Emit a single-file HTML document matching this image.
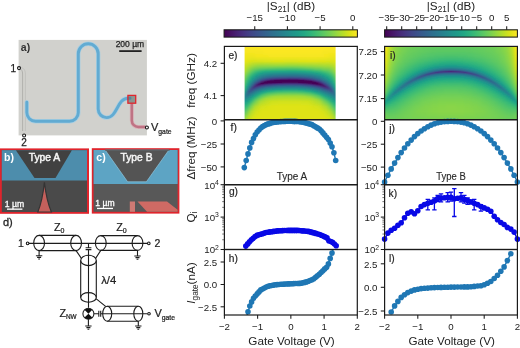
<!DOCTYPE html>
<html><head><meta charset="utf-8"><title>Figure</title>
<style>html,body{margin:0;padding:0;background:#fff}svg{display:block}text{font-family:"Liberation Sans", sans-serif}</style>
</head><body>
<svg width="520" height="348" viewBox="0 0 520 348">
<defs><filter id="blge" x="-5%" y="-5%" width="110%" height="110%"><feGaussianBlur stdDeviation="1.1 0.3"/></filter>
<clipPath id="clipge"><rect x="244.60" y="46.40" width="91.00" height="73.30"/></clipPath>
<linearGradient id="ge0" x1="0" y1="0" x2="0" y2="1"><stop offset="0" stop-color="#fbe723"/><stop offset="0.068" stop-color="#fbe723"/><stop offset="0.136" stop-color="#f6e620"/><stop offset="0.205" stop-color="#efe51c"/><stop offset="0.273" stop-color="#dfe318"/><stop offset="0.341" stop-color="#cde11d"/><stop offset="0.409" stop-color="#b8de29"/><stop offset="0.477" stop-color="#9bd93c"/><stop offset="0.546" stop-color="#7fd34e"/><stop offset="0.555" stop-color="#7ad151"/><stop offset="0.583" stop-color="#70cf57"/><stop offset="0.61" stop-color="#67cc5c"/><stop offset="0.614" stop-color="#65cb5e"/><stop offset="0.637" stop-color="#5cc863"/><stop offset="0.664" stop-color="#4ec36b"/><stop offset="0.682" stop-color="#46c06f"/><stop offset="0.692" stop-color="#40bd72"/><stop offset="0.705" stop-color="#3aba76"/><stop offset="0.719" stop-color="#32b67a"/><stop offset="0.733" stop-color="#2db27d"/><stop offset="0.746" stop-color="#28ae80"/><stop offset="0.75" stop-color="#27ad81"/><stop offset="0.76" stop-color="#25ac82"/><stop offset="0.767" stop-color="#24aa83"/><stop offset="0.774" stop-color="#1fa188"/><stop offset="0.78" stop-color="#1fa287"/><stop offset="0.787" stop-color="#20a486"/><stop offset="0.801" stop-color="#22a785"/><stop offset="0.814" stop-color="#25ab82"/><stop offset="0.819" stop-color="#25ac82"/><stop offset="0.828" stop-color="#29af7f"/><stop offset="0.842" stop-color="#2eb37c"/><stop offset="0.855" stop-color="#35b779"/><stop offset="0.883" stop-color="#3fbc73"/><stop offset="0.887" stop-color="#40bd72"/><stop offset="0.91" stop-color="#4cc26c"/><stop offset="0.937" stop-color="#5ac864"/><stop offset="0.955" stop-color="#60ca60"/><stop offset="0.965" stop-color="#65cb5e"/><stop offset="0.992" stop-color="#73d056"/><stop offset="1" stop-color="#75d054"/></linearGradient>
<linearGradient id="ge1" x1="0" y1="0" x2="0" y2="1"><stop offset="0" stop-color="#fbe723"/><stop offset="0.068" stop-color="#f8e621"/><stop offset="0.136" stop-color="#f1e51d"/><stop offset="0.205" stop-color="#eae51a"/><stop offset="0.273" stop-color="#d5e21a"/><stop offset="0.341" stop-color="#bddf26"/><stop offset="0.409" stop-color="#9dd93b"/><stop offset="0.477" stop-color="#7cd250"/><stop offset="0.509" stop-color="#6ece58"/><stop offset="0.536" stop-color="#63cb5f"/><stop offset="0.546" stop-color="#5ec962"/><stop offset="0.563" stop-color="#58c765"/><stop offset="0.591" stop-color="#4cc26c"/><stop offset="0.614" stop-color="#3fbc73"/><stop offset="0.618" stop-color="#3dbc74"/><stop offset="0.645" stop-color="#31b57b"/><stop offset="0.659" stop-color="#2ab07f"/><stop offset="0.673" stop-color="#25ac82"/><stop offset="0.682" stop-color="#22a884"/><stop offset="0.686" stop-color="#21a685"/><stop offset="0.7" stop-color="#1fa287"/><stop offset="0.714" stop-color="#1f9e89"/><stop offset="0.72" stop-color="#1e9c89"/><stop offset="0.727" stop-color="#20938c"/><stop offset="0.734" stop-color="#1f958b"/><stop offset="0.741" stop-color="#1f978b"/><stop offset="0.75" stop-color="#1f9a8a"/><stop offset="0.754" stop-color="#1e9c89"/><stop offset="0.768" stop-color="#1fa088"/><stop offset="0.782" stop-color="#21a585"/><stop offset="0.795" stop-color="#24aa83"/><stop offset="0.809" stop-color="#28ae80"/><stop offset="0.819" stop-color="#2cb17e"/><stop offset="0.836" stop-color="#32b67a"/><stop offset="0.864" stop-color="#40bd72"/><stop offset="0.887" stop-color="#4cc26c"/><stop offset="0.891" stop-color="#4ec36b"/><stop offset="0.918" stop-color="#5ac864"/><stop offset="0.945" stop-color="#69cd5b"/><stop offset="0.955" stop-color="#6ece58"/><stop offset="1" stop-color="#86d549"/></linearGradient>
<linearGradient id="ge2" x1="0" y1="0" x2="0" y2="1"><stop offset="0" stop-color="#fbe723"/><stop offset="0.068" stop-color="#f8e621"/><stop offset="0.136" stop-color="#f1e51d"/><stop offset="0.205" stop-color="#e5e419"/><stop offset="0.273" stop-color="#c8e020"/><stop offset="0.341" stop-color="#aadc32"/><stop offset="0.409" stop-color="#7cd250"/><stop offset="0.465" stop-color="#5cc863"/><stop offset="0.477" stop-color="#56c667"/><stop offset="0.492" stop-color="#50c46a"/><stop offset="0.52" stop-color="#42be71"/><stop offset="0.546" stop-color="#37b878"/><stop offset="0.547" stop-color="#37b878"/><stop offset="0.574" stop-color="#29af7f"/><stop offset="0.602" stop-color="#21a685"/><stop offset="0.614" stop-color="#1fa187"/><stop offset="0.615" stop-color="#1fa187"/><stop offset="0.629" stop-color="#1f9a8a"/><stop offset="0.643" stop-color="#20938c"/><stop offset="0.656" stop-color="#228d8d"/><stop offset="0.67" stop-color="#23888e"/><stop offset="0.677" stop-color="#25858e"/><stop offset="0.682" stop-color="#26828e"/><stop offset="0.683" stop-color="#26828e"/><stop offset="0.69" stop-color="#27808e"/><stop offset="0.697" stop-color="#26828e"/><stop offset="0.711" stop-color="#24878e"/><stop offset="0.724" stop-color="#228d8d"/><stop offset="0.738" stop-color="#1f948c"/><stop offset="0.75" stop-color="#1e9b8a"/><stop offset="0.752" stop-color="#1e9b8a"/><stop offset="0.765" stop-color="#1fa188"/><stop offset="0.793" stop-color="#25ab82"/><stop offset="0.819" stop-color="#2fb47c"/><stop offset="0.82" stop-color="#2fb47c"/><stop offset="0.847" stop-color="#3dbc74"/><stop offset="0.874" stop-color="#4ec36b"/><stop offset="0.887" stop-color="#56c667"/><stop offset="0.902" stop-color="#5ec962"/><stop offset="0.955" stop-color="#84d44b"/><stop offset="1" stop-color="#9dd93b"/></linearGradient>
<linearGradient id="ge3" x1="0" y1="0" x2="0" y2="1"><stop offset="0" stop-color="#fbe723"/><stop offset="0.068" stop-color="#f8e621"/><stop offset="0.136" stop-color="#efe51c"/><stop offset="0.205" stop-color="#e2e418"/><stop offset="0.273" stop-color="#bddf26"/><stop offset="0.341" stop-color="#95d840"/><stop offset="0.409" stop-color="#60ca60"/><stop offset="0.43" stop-color="#52c569"/><stop offset="0.457" stop-color="#42be71"/><stop offset="0.477" stop-color="#38b977"/><stop offset="0.484" stop-color="#34b679"/><stop offset="0.512" stop-color="#29af7f"/><stop offset="0.539" stop-color="#21a585"/><stop offset="0.546" stop-color="#1fa287"/><stop offset="0.566" stop-color="#1f998a"/><stop offset="0.58" stop-color="#20938c"/><stop offset="0.593" stop-color="#228b8d"/><stop offset="0.607" stop-color="#26828e"/><stop offset="0.614" stop-color="#277e8e"/><stop offset="0.621" stop-color="#297a8e"/><stop offset="0.634" stop-color="#2c738e"/><stop offset="0.641" stop-color="#2d718e"/><stop offset="0.648" stop-color="#30698e"/><stop offset="0.655" stop-color="#2f6c8e"/><stop offset="0.662" stop-color="#2d708e"/><stop offset="0.675" stop-color="#2a768e"/><stop offset="0.682" stop-color="#297a8e"/><stop offset="0.689" stop-color="#277f8e"/><stop offset="0.703" stop-color="#24878e"/><stop offset="0.716" stop-color="#218f8d"/><stop offset="0.73" stop-color="#1f958b"/><stop offset="0.75" stop-color="#1fa088"/><stop offset="0.757" stop-color="#1fa287"/><stop offset="0.784" stop-color="#27ad81"/><stop offset="0.812" stop-color="#35b779"/><stop offset="0.819" stop-color="#3aba76"/><stop offset="0.839" stop-color="#48c16e"/><stop offset="0.866" stop-color="#5cc863"/><stop offset="0.887" stop-color="#6ece58"/><stop offset="0.955" stop-color="#9dd93b"/><stop offset="1" stop-color="#b8de29"/></linearGradient>
<linearGradient id="ge4" x1="0" y1="0" x2="0" y2="1"><stop offset="0" stop-color="#fbe723"/><stop offset="0.068" stop-color="#f8e621"/><stop offset="0.136" stop-color="#efe51c"/><stop offset="0.205" stop-color="#dde318"/><stop offset="0.273" stop-color="#b2dd2d"/><stop offset="0.341" stop-color="#7fd34e"/><stop offset="0.397" stop-color="#50c46a"/><stop offset="0.409" stop-color="#46c06f"/><stop offset="0.424" stop-color="#3bbb75"/><stop offset="0.452" stop-color="#2db27d"/><stop offset="0.477" stop-color="#23a983"/><stop offset="0.479" stop-color="#23a983"/><stop offset="0.506" stop-color="#1f9f88"/><stop offset="0.533" stop-color="#21908d"/><stop offset="0.546" stop-color="#23898e"/><stop offset="0.547" stop-color="#23888e"/><stop offset="0.561" stop-color="#27808e"/><stop offset="0.574" stop-color="#2b758e"/><stop offset="0.588" stop-color="#2f6b8e"/><stop offset="0.602" stop-color="#33628d"/><stop offset="0.608" stop-color="#355e8d"/><stop offset="0.614" stop-color="#375b8d"/><stop offset="0.615" stop-color="#39558c"/><stop offset="0.622" stop-color="#375b8d"/><stop offset="0.629" stop-color="#355f8d"/><stop offset="0.643" stop-color="#31678e"/><stop offset="0.656" stop-color="#2c728e"/><stop offset="0.67" stop-color="#287d8e"/><stop offset="0.682" stop-color="#25848e"/><stop offset="0.683" stop-color="#25858e"/><stop offset="0.697" stop-color="#228d8d"/><stop offset="0.724" stop-color="#1e9d89"/><stop offset="0.75" stop-color="#23a983"/><stop offset="0.752" stop-color="#23a983"/><stop offset="0.779" stop-color="#32b67a"/><stop offset="0.806" stop-color="#46c06f"/><stop offset="0.819" stop-color="#52c569"/><stop offset="0.834" stop-color="#60ca60"/><stop offset="0.887" stop-color="#8bd646"/><stop offset="0.955" stop-color="#b8de29"/><stop offset="1" stop-color="#c5e021"/></linearGradient>
<linearGradient id="ge5" x1="0" y1="0" x2="0" y2="1"><stop offset="0" stop-color="#fbe723"/><stop offset="0.068" stop-color="#f8e621"/><stop offset="0.136" stop-color="#efe51c"/><stop offset="0.205" stop-color="#dae319"/><stop offset="0.273" stop-color="#a5db36"/><stop offset="0.341" stop-color="#69cd5b"/><stop offset="0.367" stop-color="#50c46a"/><stop offset="0.394" stop-color="#3aba76"/><stop offset="0.409" stop-color="#2fb47c"/><stop offset="0.422" stop-color="#29af7f"/><stop offset="0.449" stop-color="#20a486"/><stop offset="0.476" stop-color="#1f998a"/><stop offset="0.477" stop-color="#1f988b"/><stop offset="0.503" stop-color="#23888e"/><stop offset="0.517" stop-color="#27808e"/><stop offset="0.531" stop-color="#2a778e"/><stop offset="0.544" stop-color="#306a8e"/><stop offset="0.546" stop-color="#30698e"/><stop offset="0.558" stop-color="#365d8d"/><stop offset="0.572" stop-color="#3b528b"/><stop offset="0.578" stop-color="#3d4d8a"/><stop offset="0.585" stop-color="#414487"/><stop offset="0.592" stop-color="#3e4989"/><stop offset="0.599" stop-color="#3c4f8a"/><stop offset="0.613" stop-color="#375b8d"/><stop offset="0.614" stop-color="#365c8d"/><stop offset="0.626" stop-color="#31688e"/><stop offset="0.64" stop-color="#2b748e"/><stop offset="0.653" stop-color="#277e8e"/><stop offset="0.667" stop-color="#24868e"/><stop offset="0.682" stop-color="#21918c"/><stop offset="0.694" stop-color="#1f988b"/><stop offset="0.722" stop-color="#22a785"/><stop offset="0.749" stop-color="#31b57b"/><stop offset="0.75" stop-color="#32b67a"/><stop offset="0.776" stop-color="#4ac16d"/><stop offset="0.804" stop-color="#67cc5c"/><stop offset="0.819" stop-color="#75d054"/><stop offset="0.887" stop-color="#addc30"/><stop offset="0.955" stop-color="#c8e020"/><stop offset="1" stop-color="#d2e21b"/></linearGradient>
<linearGradient id="ge6" x1="0" y1="0" x2="0" y2="1"><stop offset="0" stop-color="#fbe723"/><stop offset="0.068" stop-color="#f8e621"/><stop offset="0.136" stop-color="#efe51c"/><stop offset="0.205" stop-color="#d8e219"/><stop offset="0.273" stop-color="#9dd93b"/><stop offset="0.341" stop-color="#58c765"/><stop offset="0.344" stop-color="#56c667"/><stop offset="0.371" stop-color="#3bbb75"/><stop offset="0.398" stop-color="#28ae80"/><stop offset="0.409" stop-color="#23a983"/><stop offset="0.426" stop-color="#1fa187"/><stop offset="0.453" stop-color="#1f948c"/><stop offset="0.477" stop-color="#25858e"/><stop offset="0.48" stop-color="#25838e"/><stop offset="0.494" stop-color="#29798e"/><stop offset="0.508" stop-color="#2d708e"/><stop offset="0.521" stop-color="#33628d"/><stop offset="0.535" stop-color="#3b528b"/><stop offset="0.546" stop-color="#3f4788"/><stop offset="0.548" stop-color="#404588"/><stop offset="0.555" stop-color="#433e85"/><stop offset="0.562" stop-color="#453781"/><stop offset="0.569" stop-color="#443a83"/><stop offset="0.576" stop-color="#424186"/><stop offset="0.589" stop-color="#3c4f8a"/><stop offset="0.603" stop-color="#355f8d"/><stop offset="0.614" stop-color="#2f6b8e"/><stop offset="0.617" stop-color="#2e6d8e"/><stop offset="0.63" stop-color="#2a778e"/><stop offset="0.644" stop-color="#26828e"/><stop offset="0.671" stop-color="#1f958b"/><stop offset="0.682" stop-color="#1e9c89"/><stop offset="0.698" stop-color="#21a685"/><stop offset="0.726" stop-color="#32b67a"/><stop offset="0.75" stop-color="#4cc26c"/><stop offset="0.753" stop-color="#4ec36b"/><stop offset="0.78" stop-color="#6ece58"/><stop offset="0.819" stop-color="#90d743"/><stop offset="0.887" stop-color="#bddf26"/><stop offset="0.955" stop-color="#d2e21b"/><stop offset="1" stop-color="#dae319"/></linearGradient>
<linearGradient id="ge7" x1="0" y1="0" x2="0" y2="1"><stop offset="0" stop-color="#fbe723"/><stop offset="0.068" stop-color="#f8e621"/><stop offset="0.136" stop-color="#f1e51d"/><stop offset="0.205" stop-color="#d8e219"/><stop offset="0.273" stop-color="#95d840"/><stop offset="0.323" stop-color="#5ec962"/><stop offset="0.341" stop-color="#48c16e"/><stop offset="0.351" stop-color="#3fbc73"/><stop offset="0.378" stop-color="#28ae80"/><stop offset="0.405" stop-color="#1fa088"/><stop offset="0.409" stop-color="#1f9e89"/><stop offset="0.432" stop-color="#20928c"/><stop offset="0.46" stop-color="#27808e"/><stop offset="0.473" stop-color="#2b758e"/><stop offset="0.477" stop-color="#2c718e"/><stop offset="0.487" stop-color="#306a8e"/><stop offset="0.501" stop-color="#375b8d"/><stop offset="0.514" stop-color="#3f4889"/><stop offset="0.528" stop-color="#453882"/><stop offset="0.535" stop-color="#46307e"/><stop offset="0.542" stop-color="#482878"/><stop offset="0.546" stop-color="#482979"/><stop offset="0.548" stop-color="#472c7a"/><stop offset="0.555" stop-color="#463480"/><stop offset="0.569" stop-color="#404588"/><stop offset="0.583" stop-color="#38588c"/><stop offset="0.596" stop-color="#31678e"/><stop offset="0.61" stop-color="#2c728e"/><stop offset="0.614" stop-color="#2a768e"/><stop offset="0.623" stop-color="#277f8e"/><stop offset="0.651" stop-color="#20938c"/><stop offset="0.678" stop-color="#21a685"/><stop offset="0.682" stop-color="#23a983"/><stop offset="0.705" stop-color="#35b779"/><stop offset="0.733" stop-color="#58c765"/><stop offset="0.75" stop-color="#6ccd5a"/><stop offset="0.76" stop-color="#75d054"/><stop offset="0.819" stop-color="#addc30"/><stop offset="0.887" stop-color="#cde11d"/><stop offset="0.955" stop-color="#dae319"/><stop offset="1" stop-color="#dfe318"/></linearGradient>
<linearGradient id="ge8" x1="0" y1="0" x2="0" y2="1"><stop offset="0" stop-color="#fde725"/><stop offset="0.068" stop-color="#f8e621"/><stop offset="0.136" stop-color="#f4e61e"/><stop offset="0.205" stop-color="#d8e219"/><stop offset="0.273" stop-color="#90d743"/><stop offset="0.31" stop-color="#67cc5c"/><stop offset="0.337" stop-color="#42be71"/><stop offset="0.341" stop-color="#3dbc74"/><stop offset="0.364" stop-color="#28ae80"/><stop offset="0.392" stop-color="#1f9f88"/><stop offset="0.409" stop-color="#1f948c"/><stop offset="0.419" stop-color="#218f8d"/><stop offset="0.446" stop-color="#287d8e"/><stop offset="0.46" stop-color="#2d718e"/><stop offset="0.473" stop-color="#32648e"/><stop offset="0.477" stop-color="#34608d"/><stop offset="0.487" stop-color="#3a538b"/><stop offset="0.501" stop-color="#423f85"/><stop offset="0.514" stop-color="#472c7a"/><stop offset="0.521" stop-color="#482374"/><stop offset="0.528" stop-color="#48186a"/><stop offset="0.535" stop-color="#482173"/><stop offset="0.542" stop-color="#472a7a"/><stop offset="0.546" stop-color="#46307e"/><stop offset="0.555" stop-color="#433e85"/><stop offset="0.569" stop-color="#3a538b"/><stop offset="0.583" stop-color="#33638d"/><stop offset="0.596" stop-color="#2d718e"/><stop offset="0.61" stop-color="#277e8e"/><stop offset="0.614" stop-color="#26828e"/><stop offset="0.637" stop-color="#20938c"/><stop offset="0.664" stop-color="#22a884"/><stop offset="0.682" stop-color="#31b57b"/><stop offset="0.692" stop-color="#3bbb75"/><stop offset="0.719" stop-color="#60ca60"/><stop offset="0.746" stop-color="#7fd34e"/><stop offset="0.75" stop-color="#81d34d"/><stop offset="0.819" stop-color="#bade28"/><stop offset="0.887" stop-color="#d2e21b"/><stop offset="0.955" stop-color="#dfe318"/><stop offset="1" stop-color="#dfe318"/></linearGradient>
<linearGradient id="ge9" x1="0" y1="0" x2="0" y2="1"><stop offset="0" stop-color="#fde725"/><stop offset="0.068" stop-color="#f8e621"/><stop offset="0.136" stop-color="#f4e61e"/><stop offset="0.205" stop-color="#d8e219"/><stop offset="0.273" stop-color="#8ed645"/><stop offset="0.299" stop-color="#70cf57"/><stop offset="0.326" stop-color="#4ac16d"/><stop offset="0.341" stop-color="#37b878"/><stop offset="0.353" stop-color="#2ab07f"/><stop offset="0.381" stop-color="#1f9f88"/><stop offset="0.408" stop-color="#218e8d"/><stop offset="0.409" stop-color="#228d8d"/><stop offset="0.435" stop-color="#287c8e"/><stop offset="0.449" stop-color="#2e6e8e"/><stop offset="0.462" stop-color="#34608d"/><stop offset="0.476" stop-color="#3c508b"/><stop offset="0.477" stop-color="#3d4e8a"/><stop offset="0.49" stop-color="#453882"/><stop offset="0.503" stop-color="#482374"/><stop offset="0.51" stop-color="#48186a"/><stop offset="0.517" stop-color="#460b5e"/><stop offset="0.524" stop-color="#481769"/><stop offset="0.531" stop-color="#482173"/><stop offset="0.544" stop-color="#453882"/><stop offset="0.546" stop-color="#443a83"/><stop offset="0.558" stop-color="#3c4f8a"/><stop offset="0.572" stop-color="#34608d"/><stop offset="0.585" stop-color="#2e6f8e"/><stop offset="0.599" stop-color="#287d8e"/><stop offset="0.614" stop-color="#238a8d"/><stop offset="0.626" stop-color="#1f948c"/><stop offset="0.653" stop-color="#24aa83"/><stop offset="0.681" stop-color="#42be71"/><stop offset="0.682" stop-color="#44bf70"/><stop offset="0.708" stop-color="#67cc5c"/><stop offset="0.735" stop-color="#86d549"/><stop offset="0.75" stop-color="#9bd93c"/><stop offset="0.819" stop-color="#c5e021"/><stop offset="0.887" stop-color="#d8e219"/><stop offset="0.955" stop-color="#dfe318"/><stop offset="1" stop-color="#dfe318"/></linearGradient>
<linearGradient id="ge10" x1="0" y1="0" x2="0" y2="1"><stop offset="0" stop-color="#fde725"/><stop offset="0.068" stop-color="#f8e621"/><stop offset="0.136" stop-color="#f4e61e"/><stop offset="0.205" stop-color="#d8e219"/><stop offset="0.273" stop-color="#89d548"/><stop offset="0.288" stop-color="#77d153"/><stop offset="0.315" stop-color="#52c569"/><stop offset="0.341" stop-color="#2fb47c"/><stop offset="0.342" stop-color="#2eb37c"/><stop offset="0.37" stop-color="#1fa088"/><stop offset="0.397" stop-color="#218e8d"/><stop offset="0.409" stop-color="#25858e"/><stop offset="0.424" stop-color="#297b8e"/><stop offset="0.438" stop-color="#2e6d8e"/><stop offset="0.452" stop-color="#355e8d"/><stop offset="0.465" stop-color="#3d4d8a"/><stop offset="0.477" stop-color="#453581"/><stop offset="0.479" stop-color="#46337f"/><stop offset="0.492" stop-color="#481b6d"/><stop offset="0.499" stop-color="#470e61"/><stop offset="0.506" stop-color="#440154"/><stop offset="0.513" stop-color="#470e61"/><stop offset="0.52" stop-color="#481a6c"/><stop offset="0.533" stop-color="#46327e"/><stop offset="0.546" stop-color="#3e4989"/><stop offset="0.547" stop-color="#3e4c8a"/><stop offset="0.561" stop-color="#355e8d"/><stop offset="0.574" stop-color="#2e6e8e"/><stop offset="0.588" stop-color="#287c8e"/><stop offset="0.614" stop-color="#20938c"/><stop offset="0.615" stop-color="#1f948c"/><stop offset="0.643" stop-color="#25ac82"/><stop offset="0.67" stop-color="#48c16e"/><stop offset="0.682" stop-color="#5ac864"/><stop offset="0.697" stop-color="#6ccd5a"/><stop offset="0.724" stop-color="#90d743"/><stop offset="0.75" stop-color="#aadc32"/><stop offset="0.819" stop-color="#d0e11c"/><stop offset="0.887" stop-color="#dde318"/><stop offset="0.955" stop-color="#dfe318"/><stop offset="1" stop-color="#dfe318"/></linearGradient>
<linearGradient id="ge11" x1="0" y1="0" x2="0" y2="1"><stop offset="0" stop-color="#fde725"/><stop offset="0.068" stop-color="#f8e621"/><stop offset="0.136" stop-color="#f4e61e"/><stop offset="0.205" stop-color="#d8e219"/><stop offset="0.273" stop-color="#89d548"/><stop offset="0.281" stop-color="#7fd34e"/><stop offset="0.308" stop-color="#5ac864"/><stop offset="0.336" stop-color="#32b67a"/><stop offset="0.341" stop-color="#2cb17e"/><stop offset="0.363" stop-color="#1fa187"/><stop offset="0.39" stop-color="#218e8d"/><stop offset="0.409" stop-color="#27808e"/><stop offset="0.417" stop-color="#297a8e"/><stop offset="0.431" stop-color="#2e6d8e"/><stop offset="0.445" stop-color="#365c8d"/><stop offset="0.458" stop-color="#3e4a89"/><stop offset="0.472" stop-color="#46307e"/><stop offset="0.477" stop-color="#482475"/><stop offset="0.486" stop-color="#481668"/><stop offset="0.492" stop-color="#46085c"/><stop offset="0.499" stop-color="#440154"/><stop offset="0.506" stop-color="#450559"/><stop offset="0.513" stop-color="#471365"/><stop offset="0.527" stop-color="#472d7b"/><stop offset="0.54" stop-color="#3f4889"/><stop offset="0.546" stop-color="#3c508b"/><stop offset="0.554" stop-color="#375b8d"/><stop offset="0.568" stop-color="#2e6d8e"/><stop offset="0.581" stop-color="#287c8e"/><stop offset="0.608" stop-color="#1f958b"/><stop offset="0.614" stop-color="#1e9b8a"/><stop offset="0.636" stop-color="#27ad81"/><stop offset="0.663" stop-color="#50c46a"/><stop offset="0.682" stop-color="#67cc5c"/><stop offset="0.69" stop-color="#73d056"/><stop offset="0.718" stop-color="#98d83e"/><stop offset="0.75" stop-color="#b2dd2d"/><stop offset="0.819" stop-color="#d2e21b"/><stop offset="0.887" stop-color="#dfe318"/><stop offset="0.955" stop-color="#dfe318"/><stop offset="1" stop-color="#dfe318"/></linearGradient>
<linearGradient id="ge12" x1="0" y1="0" x2="0" y2="1"><stop offset="0" stop-color="#fde725"/><stop offset="0.068" stop-color="#fbe723"/><stop offset="0.136" stop-color="#f4e61e"/><stop offset="0.205" stop-color="#dae319"/><stop offset="0.273" stop-color="#89d548"/><stop offset="0.276" stop-color="#86d549"/><stop offset="0.303" stop-color="#60ca60"/><stop offset="0.33" stop-color="#35b779"/><stop offset="0.341" stop-color="#29af7f"/><stop offset="0.357" stop-color="#1fa287"/><stop offset="0.385" stop-color="#218e8d"/><stop offset="0.409" stop-color="#297b8e"/><stop offset="0.412" stop-color="#29798e"/><stop offset="0.426" stop-color="#2f6c8e"/><stop offset="0.439" stop-color="#375b8d"/><stop offset="0.453" stop-color="#3f4889"/><stop offset="0.467" stop-color="#472d7b"/><stop offset="0.477" stop-color="#481668"/><stop offset="0.48" stop-color="#471063"/><stop offset="0.487" stop-color="#440256"/><stop offset="0.494" stop-color="#440154"/><stop offset="0.501" stop-color="#440154"/><stop offset="0.508" stop-color="#470d60"/><stop offset="0.521" stop-color="#472a7a"/><stop offset="0.535" stop-color="#404688"/><stop offset="0.546" stop-color="#39568c"/><stop offset="0.548" stop-color="#375a8c"/><stop offset="0.562" stop-color="#2f6c8e"/><stop offset="0.576" stop-color="#287c8e"/><stop offset="0.603" stop-color="#1f968b"/><stop offset="0.614" stop-color="#1fa188"/><stop offset="0.63" stop-color="#29af7f"/><stop offset="0.658" stop-color="#54c568"/><stop offset="0.682" stop-color="#75d054"/><stop offset="0.685" stop-color="#77d153"/><stop offset="0.712" stop-color="#a0da39"/><stop offset="0.75" stop-color="#bade28"/><stop offset="0.819" stop-color="#d5e21a"/><stop offset="0.887" stop-color="#dfe318"/><stop offset="0.955" stop-color="#dfe318"/><stop offset="1" stop-color="#dfe318"/></linearGradient>
<linearGradient id="ge13" x1="0" y1="0" x2="0" y2="1"><stop offset="0" stop-color="#fde725"/><stop offset="0.068" stop-color="#fbe723"/><stop offset="0.136" stop-color="#f4e61e"/><stop offset="0.205" stop-color="#dae319"/><stop offset="0.271" stop-color="#89d548"/><stop offset="0.273" stop-color="#89d548"/><stop offset="0.299" stop-color="#65cb5e"/><stop offset="0.326" stop-color="#38b977"/><stop offset="0.341" stop-color="#27ad81"/><stop offset="0.353" stop-color="#20a386"/><stop offset="0.381" stop-color="#218e8d"/><stop offset="0.408" stop-color="#2a788e"/><stop offset="0.409" stop-color="#2a768e"/><stop offset="0.422" stop-color="#2f6b8e"/><stop offset="0.435" stop-color="#38598c"/><stop offset="0.449" stop-color="#404588"/><stop offset="0.462" stop-color="#482878"/><stop offset="0.476" stop-color="#46085c"/><stop offset="0.477" stop-color="#46075a"/><stop offset="0.483" stop-color="#440154"/><stop offset="0.49" stop-color="#440154"/><stop offset="0.497" stop-color="#440154"/><stop offset="0.503" stop-color="#460a5d"/><stop offset="0.517" stop-color="#472a7a"/><stop offset="0.531" stop-color="#404688"/><stop offset="0.544" stop-color="#375b8d"/><stop offset="0.546" stop-color="#365d8d"/><stop offset="0.558" stop-color="#2e6e8e"/><stop offset="0.572" stop-color="#287d8e"/><stop offset="0.599" stop-color="#1f998a"/><stop offset="0.614" stop-color="#22a785"/><stop offset="0.626" stop-color="#2eb37c"/><stop offset="0.653" stop-color="#58c765"/><stop offset="0.681" stop-color="#7fd34e"/><stop offset="0.682" stop-color="#81d34d"/><stop offset="0.708" stop-color="#a5db36"/><stop offset="0.75" stop-color="#c0df25"/><stop offset="0.819" stop-color="#d8e219"/><stop offset="0.887" stop-color="#dfe318"/><stop offset="0.955" stop-color="#dfe318"/><stop offset="1" stop-color="#dfe318"/></linearGradient>
<linearGradient id="ge14" x1="0" y1="0" x2="0" y2="1"><stop offset="0" stop-color="#fde725"/><stop offset="0.068" stop-color="#fbe723"/><stop offset="0.136" stop-color="#f6e620"/><stop offset="0.205" stop-color="#dae319"/><stop offset="0.269" stop-color="#8ed645"/><stop offset="0.273" stop-color="#89d548"/><stop offset="0.296" stop-color="#67cc5c"/><stop offset="0.323" stop-color="#3bbb75"/><stop offset="0.341" stop-color="#26ad81"/><stop offset="0.351" stop-color="#20a486"/><stop offset="0.378" stop-color="#218e8d"/><stop offset="0.405" stop-color="#2a778e"/><stop offset="0.409" stop-color="#2b748e"/><stop offset="0.419" stop-color="#2f6b8e"/><stop offset="0.432" stop-color="#38588c"/><stop offset="0.446" stop-color="#414487"/><stop offset="0.46" stop-color="#482677"/><stop offset="0.473" stop-color="#450559"/><stop offset="0.477" stop-color="#440154"/><stop offset="0.48" stop-color="#440154"/><stop offset="0.487" stop-color="#440154"/><stop offset="0.494" stop-color="#440154"/><stop offset="0.501" stop-color="#46075a"/><stop offset="0.514" stop-color="#482878"/><stop offset="0.528" stop-color="#404588"/><stop offset="0.542" stop-color="#375a8c"/><stop offset="0.546" stop-color="#34608d"/><stop offset="0.555" stop-color="#2e6e8e"/><stop offset="0.569" stop-color="#287d8e"/><stop offset="0.596" stop-color="#1f9a8a"/><stop offset="0.614" stop-color="#25ab82"/><stop offset="0.623" stop-color="#31b57b"/><stop offset="0.651" stop-color="#5cc863"/><stop offset="0.678" stop-color="#84d44b"/><stop offset="0.682" stop-color="#8bd646"/><stop offset="0.705" stop-color="#a5db36"/><stop offset="0.75" stop-color="#c5e021"/><stop offset="0.819" stop-color="#dae319"/><stop offset="0.887" stop-color="#dfe318"/><stop offset="0.955" stop-color="#dfe318"/><stop offset="1" stop-color="#dfe318"/></linearGradient>
<linearGradient id="ge15" x1="0" y1="0" x2="0" y2="1"><stop offset="0" stop-color="#fde725"/><stop offset="0.068" stop-color="#fbe723"/><stop offset="0.136" stop-color="#f6e620"/><stop offset="0.205" stop-color="#dae319"/><stop offset="0.266" stop-color="#93d741"/><stop offset="0.273" stop-color="#89d548"/><stop offset="0.293" stop-color="#6ccd5a"/><stop offset="0.321" stop-color="#3dbc74"/><stop offset="0.341" stop-color="#25ab82"/><stop offset="0.348" stop-color="#21a585"/><stop offset="0.375" stop-color="#218e8d"/><stop offset="0.402" stop-color="#2a778e"/><stop offset="0.409" stop-color="#2c718e"/><stop offset="0.416" stop-color="#2f6b8e"/><stop offset="0.43" stop-color="#38588c"/><stop offset="0.443" stop-color="#414287"/><stop offset="0.457" stop-color="#482576"/><stop offset="0.471" stop-color="#440256"/><stop offset="0.477" stop-color="#440154"/><stop offset="0.484" stop-color="#440154"/><stop offset="0.491" stop-color="#440154"/><stop offset="0.498" stop-color="#450457"/><stop offset="0.512" stop-color="#482677"/><stop offset="0.525" stop-color="#414487"/><stop offset="0.539" stop-color="#375a8c"/><stop offset="0.546" stop-color="#32648e"/><stop offset="0.553" stop-color="#2e6e8e"/><stop offset="0.566" stop-color="#287d8e"/><stop offset="0.593" stop-color="#1f9a8a"/><stop offset="0.614" stop-color="#29af7f"/><stop offset="0.621" stop-color="#32b67a"/><stop offset="0.648" stop-color="#5ec962"/><stop offset="0.675" stop-color="#89d548"/><stop offset="0.682" stop-color="#93d741"/><stop offset="0.703" stop-color="#a8db34"/><stop offset="0.75" stop-color="#cae11f"/><stop offset="0.819" stop-color="#dde318"/><stop offset="0.887" stop-color="#dfe318"/><stop offset="0.955" stop-color="#dfe318"/><stop offset="1" stop-color="#dfe318"/></linearGradient>
<linearGradient id="ge16" x1="0" y1="0" x2="0" y2="1"><stop offset="0" stop-color="#fde725"/><stop offset="0.068" stop-color="#fbe723"/><stop offset="0.136" stop-color="#f6e620"/><stop offset="0.205" stop-color="#dde318"/><stop offset="0.263" stop-color="#95d840"/><stop offset="0.273" stop-color="#89d548"/><stop offset="0.291" stop-color="#6ece58"/><stop offset="0.318" stop-color="#40bd72"/><stop offset="0.341" stop-color="#24aa83"/><stop offset="0.345" stop-color="#21a685"/><stop offset="0.372" stop-color="#218f8d"/><stop offset="0.4" stop-color="#2a778e"/><stop offset="0.409" stop-color="#2d708e"/><stop offset="0.413" stop-color="#2f6b8e"/><stop offset="0.427" stop-color="#38588c"/><stop offset="0.441" stop-color="#414287"/><stop offset="0.454" stop-color="#482576"/><stop offset="0.468" stop-color="#440256"/><stop offset="0.475" stop-color="#440154"/><stop offset="0.477" stop-color="#440154"/><stop offset="0.482" stop-color="#440154"/><stop offset="0.488" stop-color="#440154"/><stop offset="0.495" stop-color="#440154"/><stop offset="0.509" stop-color="#482576"/><stop offset="0.523" stop-color="#414287"/><stop offset="0.536" stop-color="#38598c"/><stop offset="0.546" stop-color="#31678e"/><stop offset="0.55" stop-color="#2e6d8e"/><stop offset="0.563" stop-color="#287d8e"/><stop offset="0.591" stop-color="#1e9b8a"/><stop offset="0.614" stop-color="#2db27d"/><stop offset="0.618" stop-color="#34b679"/><stop offset="0.645" stop-color="#5ec962"/><stop offset="0.673" stop-color="#89d548"/><stop offset="0.682" stop-color="#9bd93c"/><stop offset="0.7" stop-color="#a8db34"/><stop offset="0.75" stop-color="#cde11d"/><stop offset="0.819" stop-color="#dde318"/><stop offset="0.887" stop-color="#dfe318"/><stop offset="0.955" stop-color="#dfe318"/><stop offset="1" stop-color="#dfe318"/></linearGradient>
<linearGradient id="ge17" x1="0" y1="0" x2="0" y2="1"><stop offset="0" stop-color="#fde725"/><stop offset="0.068" stop-color="#fbe723"/><stop offset="0.136" stop-color="#f6e620"/><stop offset="0.205" stop-color="#dde318"/><stop offset="0.262" stop-color="#98d83e"/><stop offset="0.273" stop-color="#86d549"/><stop offset="0.289" stop-color="#6ece58"/><stop offset="0.317" stop-color="#42be71"/><stop offset="0.341" stop-color="#23a983"/><stop offset="0.344" stop-color="#22a785"/><stop offset="0.371" stop-color="#218f8d"/><stop offset="0.398" stop-color="#2a778e"/><stop offset="0.409" stop-color="#2e6e8e"/><stop offset="0.412" stop-color="#2f6b8e"/><stop offset="0.426" stop-color="#38588c"/><stop offset="0.439" stop-color="#414287"/><stop offset="0.453" stop-color="#482475"/><stop offset="0.467" stop-color="#440154"/><stop offset="0.473" stop-color="#440154"/><stop offset="0.477" stop-color="#440154"/><stop offset="0.48" stop-color="#440154"/><stop offset="0.487" stop-color="#440154"/><stop offset="0.494" stop-color="#440154"/><stop offset="0.508" stop-color="#482475"/><stop offset="0.521" stop-color="#414287"/><stop offset="0.535" stop-color="#375a8c"/><stop offset="0.546" stop-color="#306a8e"/><stop offset="0.548" stop-color="#2e6e8e"/><stop offset="0.562" stop-color="#287d8e"/><stop offset="0.589" stop-color="#1e9b8a"/><stop offset="0.614" stop-color="#31b57b"/><stop offset="0.617" stop-color="#35b779"/><stop offset="0.644" stop-color="#60ca60"/><stop offset="0.671" stop-color="#8bd646"/><stop offset="0.682" stop-color="#9dd93b"/><stop offset="0.698" stop-color="#aadc32"/><stop offset="0.75" stop-color="#cde11d"/><stop offset="0.819" stop-color="#dfe318"/><stop offset="0.887" stop-color="#dfe318"/><stop offset="0.955" stop-color="#dfe318"/><stop offset="1" stop-color="#dfe318"/></linearGradient>
<linearGradient id="ge18" x1="0" y1="0" x2="0" y2="1"><stop offset="0" stop-color="#fde725"/><stop offset="0.068" stop-color="#fbe723"/><stop offset="0.136" stop-color="#f6e620"/><stop offset="0.205" stop-color="#dde318"/><stop offset="0.261" stop-color="#9bd93c"/><stop offset="0.273" stop-color="#86d549"/><stop offset="0.288" stop-color="#70cf57"/><stop offset="0.315" stop-color="#42be71"/><stop offset="0.341" stop-color="#22a884"/><stop offset="0.342" stop-color="#22a785"/><stop offset="0.37" stop-color="#218f8d"/><stop offset="0.397" stop-color="#2a778e"/><stop offset="0.409" stop-color="#2e6d8e"/><stop offset="0.411" stop-color="#2f6b8e"/><stop offset="0.424" stop-color="#38588c"/><stop offset="0.438" stop-color="#424186"/><stop offset="0.452" stop-color="#482374"/><stop offset="0.465" stop-color="#440154"/><stop offset="0.472" stop-color="#440154"/><stop offset="0.477" stop-color="#440154"/><stop offset="0.479" stop-color="#440154"/><stop offset="0.486" stop-color="#440154"/><stop offset="0.492" stop-color="#440154"/><stop offset="0.506" stop-color="#482475"/><stop offset="0.52" stop-color="#414287"/><stop offset="0.533" stop-color="#375a8c"/><stop offset="0.546" stop-color="#2f6c8e"/><stop offset="0.547" stop-color="#2e6e8e"/><stop offset="0.561" stop-color="#277e8e"/><stop offset="0.588" stop-color="#1e9c89"/><stop offset="0.614" stop-color="#34b679"/><stop offset="0.615" stop-color="#37b878"/><stop offset="0.643" stop-color="#63cb5f"/><stop offset="0.67" stop-color="#8ed645"/><stop offset="0.682" stop-color="#a0da39"/><stop offset="0.697" stop-color="#aadc32"/><stop offset="0.75" stop-color="#cde11d"/><stop offset="0.819" stop-color="#dfe318"/><stop offset="0.887" stop-color="#dfe318"/><stop offset="0.955" stop-color="#dfe318"/><stop offset="1" stop-color="#dfe318"/></linearGradient>
<linearGradient id="ge19" x1="0" y1="0" x2="0" y2="1"><stop offset="0" stop-color="#fde725"/><stop offset="0.068" stop-color="#fbe723"/><stop offset="0.136" stop-color="#f6e620"/><stop offset="0.205" stop-color="#dde318"/><stop offset="0.259" stop-color="#9bd93c"/><stop offset="0.273" stop-color="#86d549"/><stop offset="0.286" stop-color="#70cf57"/><stop offset="0.314" stop-color="#44bf70"/><stop offset="0.341" stop-color="#22a884"/><stop offset="0.368" stop-color="#21908d"/><stop offset="0.396" stop-color="#2a778e"/><stop offset="0.409" stop-color="#2f6c8e"/><stop offset="0.423" stop-color="#38588c"/><stop offset="0.437" stop-color="#414287"/><stop offset="0.45" stop-color="#482475"/><stop offset="0.464" stop-color="#440154"/><stop offset="0.471" stop-color="#440154"/><stop offset="0.477" stop-color="#440154"/><stop offset="0.484" stop-color="#440154"/><stop offset="0.491" stop-color="#440154"/><stop offset="0.505" stop-color="#482374"/><stop offset="0.518" stop-color="#424186"/><stop offset="0.532" stop-color="#38598c"/><stop offset="0.546" stop-color="#2e6e8e"/><stop offset="0.559" stop-color="#287d8e"/><stop offset="0.587" stop-color="#1e9c89"/><stop offset="0.614" stop-color="#37b878"/><stop offset="0.641" stop-color="#63cb5f"/><stop offset="0.668" stop-color="#8ed645"/><stop offset="0.682" stop-color="#a0da39"/><stop offset="0.696" stop-color="#aadc32"/><stop offset="0.75" stop-color="#d0e11c"/><stop offset="0.819" stop-color="#dfe318"/><stop offset="0.887" stop-color="#dfe318"/><stop offset="0.955" stop-color="#dfe318"/><stop offset="1" stop-color="#dfe318"/></linearGradient>
<linearGradient id="ge20" x1="0" y1="0" x2="0" y2="1"><stop offset="0" stop-color="#fde725"/><stop offset="0.068" stop-color="#fbe723"/><stop offset="0.136" stop-color="#f6e620"/><stop offset="0.205" stop-color="#dde318"/><stop offset="0.259" stop-color="#9bd93c"/><stop offset="0.273" stop-color="#86d549"/><stop offset="0.286" stop-color="#70cf57"/><stop offset="0.314" stop-color="#44bf70"/><stop offset="0.341" stop-color="#22a785"/><stop offset="0.368" stop-color="#218f8d"/><stop offset="0.396" stop-color="#2a778e"/><stop offset="0.409" stop-color="#2f6b8e"/><stop offset="0.423" stop-color="#39568c"/><stop offset="0.437" stop-color="#424186"/><stop offset="0.45" stop-color="#482374"/><stop offset="0.464" stop-color="#440154"/><stop offset="0.471" stop-color="#440154"/><stop offset="0.477" stop-color="#440154"/><stop offset="0.484" stop-color="#440154"/><stop offset="0.491" stop-color="#440154"/><stop offset="0.505" stop-color="#482475"/><stop offset="0.518" stop-color="#414287"/><stop offset="0.532" stop-color="#375a8c"/><stop offset="0.546" stop-color="#2e6e8e"/><stop offset="0.559" stop-color="#277e8e"/><stop offset="0.587" stop-color="#1e9c89"/><stop offset="0.614" stop-color="#37b878"/><stop offset="0.641" stop-color="#63cb5f"/><stop offset="0.668" stop-color="#90d743"/><stop offset="0.682" stop-color="#a2da37"/><stop offset="0.696" stop-color="#addc30"/><stop offset="0.75" stop-color="#d0e11c"/><stop offset="0.819" stop-color="#dfe318"/><stop offset="0.887" stop-color="#dfe318"/><stop offset="0.955" stop-color="#dfe318"/><stop offset="1" stop-color="#dfe318"/></linearGradient>
<linearGradient id="ge21" x1="0" y1="0" x2="0" y2="1"><stop offset="0" stop-color="#fde725"/><stop offset="0.068" stop-color="#fbe723"/><stop offset="0.136" stop-color="#f6e620"/><stop offset="0.205" stop-color="#dde318"/><stop offset="0.258" stop-color="#9dd93b"/><stop offset="0.273" stop-color="#86d549"/><stop offset="0.285" stop-color="#73d056"/><stop offset="0.312" stop-color="#46c06f"/><stop offset="0.34" stop-color="#22a884"/><stop offset="0.341" stop-color="#22a785"/><stop offset="0.367" stop-color="#21908d"/><stop offset="0.394" stop-color="#2a788e"/><stop offset="0.408" stop-color="#2f6c8e"/><stop offset="0.409" stop-color="#306a8e"/><stop offset="0.422" stop-color="#38598c"/><stop offset="0.435" stop-color="#414287"/><stop offset="0.449" stop-color="#482576"/><stop offset="0.462" stop-color="#440154"/><stop offset="0.469" stop-color="#440154"/><stop offset="0.476" stop-color="#440154"/><stop offset="0.477" stop-color="#440154"/><stop offset="0.483" stop-color="#440154"/><stop offset="0.49" stop-color="#440154"/><stop offset="0.503" stop-color="#482173"/><stop offset="0.517" stop-color="#424186"/><stop offset="0.531" stop-color="#38588c"/><stop offset="0.544" stop-color="#2e6d8e"/><stop offset="0.546" stop-color="#2e6f8e"/><stop offset="0.558" stop-color="#287d8e"/><stop offset="0.585" stop-color="#1e9c89"/><stop offset="0.613" stop-color="#37b878"/><stop offset="0.614" stop-color="#38b977"/><stop offset="0.64" stop-color="#63cb5f"/><stop offset="0.667" stop-color="#8ed645"/><stop offset="0.682" stop-color="#a2da37"/><stop offset="0.694" stop-color="#aadc32"/><stop offset="0.75" stop-color="#d0e11c"/><stop offset="0.819" stop-color="#dfe318"/><stop offset="0.887" stop-color="#dfe318"/><stop offset="0.955" stop-color="#dfe318"/><stop offset="1" stop-color="#dfe318"/></linearGradient>
<linearGradient id="ge22" x1="0" y1="0" x2="0" y2="1"><stop offset="0" stop-color="#fde725"/><stop offset="0.068" stop-color="#fbe723"/><stop offset="0.136" stop-color="#f6e620"/><stop offset="0.205" stop-color="#dae319"/><stop offset="0.258" stop-color="#9dd93b"/><stop offset="0.273" stop-color="#84d44b"/><stop offset="0.285" stop-color="#73d056"/><stop offset="0.312" stop-color="#44bf70"/><stop offset="0.34" stop-color="#22a884"/><stop offset="0.341" stop-color="#21a685"/><stop offset="0.367" stop-color="#21908d"/><stop offset="0.394" stop-color="#2a778e"/><stop offset="0.408" stop-color="#2f6b8e"/><stop offset="0.409" stop-color="#30698e"/><stop offset="0.422" stop-color="#38588c"/><stop offset="0.435" stop-color="#424186"/><stop offset="0.449" stop-color="#482374"/><stop offset="0.462" stop-color="#440154"/><stop offset="0.469" stop-color="#440154"/><stop offset="0.476" stop-color="#440154"/><stop offset="0.477" stop-color="#440154"/><stop offset="0.483" stop-color="#440154"/><stop offset="0.49" stop-color="#440154"/><stop offset="0.503" stop-color="#482475"/><stop offset="0.517" stop-color="#414287"/><stop offset="0.531" stop-color="#38598c"/><stop offset="0.544" stop-color="#2e6e8e"/><stop offset="0.546" stop-color="#2d708e"/><stop offset="0.558" stop-color="#277e8e"/><stop offset="0.585" stop-color="#1e9c89"/><stop offset="0.613" stop-color="#37b878"/><stop offset="0.614" stop-color="#3aba76"/><stop offset="0.64" stop-color="#63cb5f"/><stop offset="0.667" stop-color="#90d743"/><stop offset="0.682" stop-color="#a2da37"/><stop offset="0.694" stop-color="#addc30"/><stop offset="0.75" stop-color="#d0e11c"/><stop offset="0.819" stop-color="#dfe318"/><stop offset="0.887" stop-color="#dfe318"/><stop offset="0.955" stop-color="#dfe318"/><stop offset="1" stop-color="#dfe318"/></linearGradient>
<linearGradient id="ge23" x1="0" y1="0" x2="0" y2="1"><stop offset="0" stop-color="#fde725"/><stop offset="0.068" stop-color="#fbe723"/><stop offset="0.136" stop-color="#f6e620"/><stop offset="0.205" stop-color="#dae319"/><stop offset="0.258" stop-color="#9bd93c"/><stop offset="0.273" stop-color="#84d44b"/><stop offset="0.285" stop-color="#70cf57"/><stop offset="0.312" stop-color="#44bf70"/><stop offset="0.34" stop-color="#22a785"/><stop offset="0.341" stop-color="#21a685"/><stop offset="0.367" stop-color="#218f8d"/><stop offset="0.394" stop-color="#2a778e"/><stop offset="0.408" stop-color="#2f6b8e"/><stop offset="0.409" stop-color="#30698e"/><stop offset="0.422" stop-color="#39568c"/><stop offset="0.435" stop-color="#424086"/><stop offset="0.449" stop-color="#482173"/><stop offset="0.462" stop-color="#440154"/><stop offset="0.469" stop-color="#440154"/><stop offset="0.476" stop-color="#440154"/><stop offset="0.477" stop-color="#440154"/><stop offset="0.483" stop-color="#440154"/><stop offset="0.49" stop-color="#440154"/><stop offset="0.503" stop-color="#482576"/><stop offset="0.517" stop-color="#414287"/><stop offset="0.531" stop-color="#375a8c"/><stop offset="0.544" stop-color="#2e6f8e"/><stop offset="0.546" stop-color="#2d708e"/><stop offset="0.558" stop-color="#277e8e"/><stop offset="0.585" stop-color="#1e9d89"/><stop offset="0.613" stop-color="#38b977"/><stop offset="0.614" stop-color="#3aba76"/><stop offset="0.64" stop-color="#63cb5f"/><stop offset="0.667" stop-color="#90d743"/><stop offset="0.682" stop-color="#a2da37"/><stop offset="0.694" stop-color="#addc30"/><stop offset="0.75" stop-color="#d0e11c"/><stop offset="0.819" stop-color="#dfe318"/><stop offset="0.887" stop-color="#dfe318"/><stop offset="0.955" stop-color="#dfe318"/><stop offset="1" stop-color="#dfe318"/></linearGradient>
<linearGradient id="ge24" x1="0" y1="0" x2="0" y2="1"><stop offset="0" stop-color="#fde725"/><stop offset="0.068" stop-color="#fbe723"/><stop offset="0.136" stop-color="#f6e620"/><stop offset="0.205" stop-color="#dae319"/><stop offset="0.256" stop-color="#9dd93b"/><stop offset="0.273" stop-color="#84d44b"/><stop offset="0.284" stop-color="#73d056"/><stop offset="0.311" stop-color="#46c06f"/><stop offset="0.338" stop-color="#22a884"/><stop offset="0.341" stop-color="#21a585"/><stop offset="0.366" stop-color="#21908d"/><stop offset="0.393" stop-color="#2a788e"/><stop offset="0.407" stop-color="#2f6c8e"/><stop offset="0.409" stop-color="#31688e"/><stop offset="0.42" stop-color="#38588c"/><stop offset="0.434" stop-color="#414287"/><stop offset="0.447" stop-color="#482475"/><stop offset="0.461" stop-color="#440154"/><stop offset="0.468" stop-color="#440154"/><stop offset="0.475" stop-color="#440154"/><stop offset="0.477" stop-color="#440154"/><stop offset="0.482" stop-color="#440154"/><stop offset="0.488" stop-color="#440154"/><stop offset="0.502" stop-color="#482374"/><stop offset="0.516" stop-color="#424186"/><stop offset="0.529" stop-color="#38598c"/><stop offset="0.543" stop-color="#2e6d8e"/><stop offset="0.546" stop-color="#2d718e"/><stop offset="0.557" stop-color="#287d8e"/><stop offset="0.584" stop-color="#1e9c89"/><stop offset="0.611" stop-color="#37b878"/><stop offset="0.614" stop-color="#3bbb75"/><stop offset="0.638" stop-color="#63cb5f"/><stop offset="0.666" stop-color="#90d743"/><stop offset="0.682" stop-color="#a2da37"/><stop offset="0.693" stop-color="#aadc32"/><stop offset="0.75" stop-color="#d0e11c"/><stop offset="0.819" stop-color="#dfe318"/><stop offset="0.887" stop-color="#dfe318"/><stop offset="0.955" stop-color="#dfe318"/><stop offset="1" stop-color="#dfe318"/></linearGradient>
<linearGradient id="ge25" x1="0" y1="0" x2="0" y2="1"><stop offset="0" stop-color="#fde725"/><stop offset="0.068" stop-color="#fbe723"/><stop offset="0.136" stop-color="#f6e620"/><stop offset="0.205" stop-color="#dae319"/><stop offset="0.258" stop-color="#9bd93c"/><stop offset="0.273" stop-color="#84d44b"/><stop offset="0.285" stop-color="#70cf57"/><stop offset="0.312" stop-color="#44bf70"/><stop offset="0.34" stop-color="#22a785"/><stop offset="0.341" stop-color="#21a685"/><stop offset="0.367" stop-color="#218f8d"/><stop offset="0.394" stop-color="#2a778e"/><stop offset="0.408" stop-color="#2f6b8e"/><stop offset="0.409" stop-color="#30698e"/><stop offset="0.422" stop-color="#39568c"/><stop offset="0.435" stop-color="#424086"/><stop offset="0.449" stop-color="#482173"/><stop offset="0.462" stop-color="#440154"/><stop offset="0.469" stop-color="#440154"/><stop offset="0.476" stop-color="#440154"/><stop offset="0.477" stop-color="#440154"/><stop offset="0.483" stop-color="#440154"/><stop offset="0.49" stop-color="#440154"/><stop offset="0.503" stop-color="#482576"/><stop offset="0.517" stop-color="#414487"/><stop offset="0.531" stop-color="#375a8c"/><stop offset="0.544" stop-color="#2e6f8e"/><stop offset="0.546" stop-color="#2d708e"/><stop offset="0.558" stop-color="#277e8e"/><stop offset="0.585" stop-color="#1e9d89"/><stop offset="0.613" stop-color="#38b977"/><stop offset="0.614" stop-color="#3bbb75"/><stop offset="0.64" stop-color="#65cb5e"/><stop offset="0.667" stop-color="#90d743"/><stop offset="0.682" stop-color="#a2da37"/><stop offset="0.694" stop-color="#addc30"/><stop offset="0.75" stop-color="#d0e11c"/><stop offset="0.819" stop-color="#dfe318"/><stop offset="0.887" stop-color="#dfe318"/><stop offset="0.955" stop-color="#dfe318"/><stop offset="1" stop-color="#dfe318"/></linearGradient>
<linearGradient id="ge26" x1="0" y1="0" x2="0" y2="1"><stop offset="0" stop-color="#fde725"/><stop offset="0.068" stop-color="#fbe723"/><stop offset="0.136" stop-color="#f6e620"/><stop offset="0.205" stop-color="#dae319"/><stop offset="0.258" stop-color="#9bd93c"/><stop offset="0.273" stop-color="#84d44b"/><stop offset="0.285" stop-color="#70cf57"/><stop offset="0.312" stop-color="#44bf70"/><stop offset="0.34" stop-color="#22a785"/><stop offset="0.341" stop-color="#21a685"/><stop offset="0.367" stop-color="#218f8d"/><stop offset="0.394" stop-color="#2a778e"/><stop offset="0.408" stop-color="#2f6b8e"/><stop offset="0.409" stop-color="#30698e"/><stop offset="0.422" stop-color="#39568c"/><stop offset="0.435" stop-color="#424186"/><stop offset="0.449" stop-color="#482374"/><stop offset="0.462" stop-color="#440154"/><stop offset="0.469" stop-color="#440154"/><stop offset="0.476" stop-color="#440154"/><stop offset="0.477" stop-color="#440154"/><stop offset="0.483" stop-color="#440154"/><stop offset="0.49" stop-color="#440154"/><stop offset="0.503" stop-color="#482475"/><stop offset="0.517" stop-color="#414287"/><stop offset="0.531" stop-color="#375a8c"/><stop offset="0.544" stop-color="#2e6e8e"/><stop offset="0.546" stop-color="#2d708e"/><stop offset="0.558" stop-color="#277e8e"/><stop offset="0.585" stop-color="#1e9d89"/><stop offset="0.613" stop-color="#38b977"/><stop offset="0.614" stop-color="#3aba76"/><stop offset="0.64" stop-color="#63cb5f"/><stop offset="0.667" stop-color="#90d743"/><stop offset="0.682" stop-color="#a2da37"/><stop offset="0.694" stop-color="#addc30"/><stop offset="0.75" stop-color="#d0e11c"/><stop offset="0.819" stop-color="#dfe318"/><stop offset="0.887" stop-color="#dfe318"/><stop offset="0.955" stop-color="#dfe318"/><stop offset="1" stop-color="#dfe318"/></linearGradient>
<linearGradient id="ge27" x1="0" y1="0" x2="0" y2="1"><stop offset="0" stop-color="#fde725"/><stop offset="0.068" stop-color="#fbe723"/><stop offset="0.136" stop-color="#f6e620"/><stop offset="0.205" stop-color="#dae319"/><stop offset="0.258" stop-color="#9dd93b"/><stop offset="0.273" stop-color="#84d44b"/><stop offset="0.285" stop-color="#73d056"/><stop offset="0.312" stop-color="#44bf70"/><stop offset="0.34" stop-color="#22a884"/><stop offset="0.341" stop-color="#21a685"/><stop offset="0.367" stop-color="#21908d"/><stop offset="0.394" stop-color="#2a778e"/><stop offset="0.408" stop-color="#2f6b8e"/><stop offset="0.409" stop-color="#30698e"/><stop offset="0.422" stop-color="#38588c"/><stop offset="0.435" stop-color="#424186"/><stop offset="0.449" stop-color="#482374"/><stop offset="0.462" stop-color="#440154"/><stop offset="0.469" stop-color="#440154"/><stop offset="0.476" stop-color="#440154"/><stop offset="0.477" stop-color="#440154"/><stop offset="0.483" stop-color="#440154"/><stop offset="0.49" stop-color="#440154"/><stop offset="0.503" stop-color="#482475"/><stop offset="0.517" stop-color="#414287"/><stop offset="0.531" stop-color="#38598c"/><stop offset="0.544" stop-color="#2e6e8e"/><stop offset="0.546" stop-color="#2d708e"/><stop offset="0.558" stop-color="#277e8e"/><stop offset="0.585" stop-color="#1e9c89"/><stop offset="0.613" stop-color="#37b878"/><stop offset="0.614" stop-color="#3aba76"/><stop offset="0.64" stop-color="#63cb5f"/><stop offset="0.667" stop-color="#90d743"/><stop offset="0.682" stop-color="#a2da37"/><stop offset="0.694" stop-color="#addc30"/><stop offset="0.75" stop-color="#d0e11c"/><stop offset="0.819" stop-color="#dfe318"/><stop offset="0.887" stop-color="#dfe318"/><stop offset="0.955" stop-color="#dfe318"/><stop offset="1" stop-color="#dfe318"/></linearGradient>
<linearGradient id="ge28" x1="0" y1="0" x2="0" y2="1"><stop offset="0" stop-color="#fde725"/><stop offset="0.068" stop-color="#fbe723"/><stop offset="0.136" stop-color="#f6e620"/><stop offset="0.205" stop-color="#dae319"/><stop offset="0.258" stop-color="#9dd93b"/><stop offset="0.273" stop-color="#84d44b"/><stop offset="0.285" stop-color="#73d056"/><stop offset="0.312" stop-color="#44bf70"/><stop offset="0.34" stop-color="#22a884"/><stop offset="0.341" stop-color="#22a785"/><stop offset="0.367" stop-color="#21908d"/><stop offset="0.394" stop-color="#2a778e"/><stop offset="0.408" stop-color="#2f6c8e"/><stop offset="0.409" stop-color="#306a8e"/><stop offset="0.422" stop-color="#38588c"/><stop offset="0.435" stop-color="#424186"/><stop offset="0.449" stop-color="#482475"/><stop offset="0.462" stop-color="#440154"/><stop offset="0.469" stop-color="#440154"/><stop offset="0.476" stop-color="#440154"/><stop offset="0.477" stop-color="#440154"/><stop offset="0.483" stop-color="#440154"/><stop offset="0.49" stop-color="#440154"/><stop offset="0.503" stop-color="#482374"/><stop offset="0.517" stop-color="#424186"/><stop offset="0.531" stop-color="#38598c"/><stop offset="0.544" stop-color="#2e6e8e"/><stop offset="0.546" stop-color="#2e6f8e"/><stop offset="0.558" stop-color="#287d8e"/><stop offset="0.585" stop-color="#1e9c89"/><stop offset="0.613" stop-color="#37b878"/><stop offset="0.614" stop-color="#38b977"/><stop offset="0.64" stop-color="#63cb5f"/><stop offset="0.667" stop-color="#90d743"/><stop offset="0.682" stop-color="#a2da37"/><stop offset="0.694" stop-color="#aadc32"/><stop offset="0.75" stop-color="#d0e11c"/><stop offset="0.819" stop-color="#dfe318"/><stop offset="0.887" stop-color="#dfe318"/><stop offset="0.955" stop-color="#dfe318"/><stop offset="1" stop-color="#dfe318"/></linearGradient>
<linearGradient id="ge29" x1="0" y1="0" x2="0" y2="1"><stop offset="0" stop-color="#fde725"/><stop offset="0.068" stop-color="#fbe723"/><stop offset="0.136" stop-color="#f6e620"/><stop offset="0.205" stop-color="#dde318"/><stop offset="0.259" stop-color="#9dd93b"/><stop offset="0.273" stop-color="#86d549"/><stop offset="0.286" stop-color="#73d056"/><stop offset="0.314" stop-color="#44bf70"/><stop offset="0.341" stop-color="#22a884"/><stop offset="0.368" stop-color="#21908d"/><stop offset="0.396" stop-color="#2a778e"/><stop offset="0.409" stop-color="#2f6c8e"/><stop offset="0.423" stop-color="#38588c"/><stop offset="0.437" stop-color="#424186"/><stop offset="0.45" stop-color="#482475"/><stop offset="0.464" stop-color="#440154"/><stop offset="0.471" stop-color="#440154"/><stop offset="0.477" stop-color="#440154"/><stop offset="0.484" stop-color="#440154"/><stop offset="0.491" stop-color="#440154"/><stop offset="0.505" stop-color="#482374"/><stop offset="0.518" stop-color="#414287"/><stop offset="0.532" stop-color="#38598c"/><stop offset="0.546" stop-color="#2e6e8e"/><stop offset="0.559" stop-color="#277e8e"/><stop offset="0.587" stop-color="#1e9c89"/><stop offset="0.614" stop-color="#37b878"/><stop offset="0.641" stop-color="#63cb5f"/><stop offset="0.668" stop-color="#90d743"/><stop offset="0.682" stop-color="#a2da37"/><stop offset="0.696" stop-color="#aadc32"/><stop offset="0.75" stop-color="#d0e11c"/><stop offset="0.819" stop-color="#dfe318"/><stop offset="0.887" stop-color="#dfe318"/><stop offset="0.955" stop-color="#dfe318"/><stop offset="1" stop-color="#dfe318"/></linearGradient>
<linearGradient id="ge30" x1="0" y1="0" x2="0" y2="1"><stop offset="0" stop-color="#fde725"/><stop offset="0.068" stop-color="#fbe723"/><stop offset="0.136" stop-color="#f6e620"/><stop offset="0.205" stop-color="#dde318"/><stop offset="0.261" stop-color="#9bd93c"/><stop offset="0.273" stop-color="#89d548"/><stop offset="0.288" stop-color="#70cf57"/><stop offset="0.315" stop-color="#44bf70"/><stop offset="0.341" stop-color="#23a983"/><stop offset="0.342" stop-color="#22a884"/><stop offset="0.37" stop-color="#21908d"/><stop offset="0.397" stop-color="#2a778e"/><stop offset="0.409" stop-color="#2e6d8e"/><stop offset="0.411" stop-color="#2f6b8e"/><stop offset="0.424" stop-color="#38588c"/><stop offset="0.438" stop-color="#424186"/><stop offset="0.452" stop-color="#482475"/><stop offset="0.465" stop-color="#440154"/><stop offset="0.472" stop-color="#440154"/><stop offset="0.477" stop-color="#440154"/><stop offset="0.479" stop-color="#440154"/><stop offset="0.486" stop-color="#440154"/><stop offset="0.492" stop-color="#440154"/><stop offset="0.506" stop-color="#482475"/><stop offset="0.52" stop-color="#414287"/><stop offset="0.533" stop-color="#38598c"/><stop offset="0.546" stop-color="#2f6c8e"/><stop offset="0.547" stop-color="#2e6e8e"/><stop offset="0.561" stop-color="#287d8e"/><stop offset="0.588" stop-color="#1e9c89"/><stop offset="0.614" stop-color="#34b679"/><stop offset="0.615" stop-color="#37b878"/><stop offset="0.643" stop-color="#63cb5f"/><stop offset="0.67" stop-color="#90d743"/><stop offset="0.682" stop-color="#a0da39"/><stop offset="0.697" stop-color="#aadc32"/><stop offset="0.75" stop-color="#d0e11c"/><stop offset="0.819" stop-color="#dfe318"/><stop offset="0.887" stop-color="#dfe318"/><stop offset="0.955" stop-color="#dfe318"/><stop offset="1" stop-color="#dfe318"/></linearGradient>
<linearGradient id="ge31" x1="0" y1="0" x2="0" y2="1"><stop offset="0" stop-color="#fde725"/><stop offset="0.068" stop-color="#fbe723"/><stop offset="0.136" stop-color="#f6e620"/><stop offset="0.205" stop-color="#dde318"/><stop offset="0.262" stop-color="#9bd93c"/><stop offset="0.273" stop-color="#89d548"/><stop offset="0.289" stop-color="#70cf57"/><stop offset="0.317" stop-color="#44bf70"/><stop offset="0.341" stop-color="#24aa83"/><stop offset="0.344" stop-color="#22a785"/><stop offset="0.371" stop-color="#21908d"/><stop offset="0.398" stop-color="#2a778e"/><stop offset="0.409" stop-color="#2e6e8e"/><stop offset="0.412" stop-color="#2f6b8e"/><stop offset="0.426" stop-color="#38588c"/><stop offset="0.439" stop-color="#424186"/><stop offset="0.453" stop-color="#482475"/><stop offset="0.467" stop-color="#440154"/><stop offset="0.473" stop-color="#440154"/><stop offset="0.477" stop-color="#440154"/><stop offset="0.48" stop-color="#440154"/><stop offset="0.487" stop-color="#440154"/><stop offset="0.494" stop-color="#440154"/><stop offset="0.508" stop-color="#482475"/><stop offset="0.521" stop-color="#414287"/><stop offset="0.535" stop-color="#38598c"/><stop offset="0.546" stop-color="#306a8e"/><stop offset="0.548" stop-color="#2e6e8e"/><stop offset="0.562" stop-color="#287d8e"/><stop offset="0.589" stop-color="#1e9c89"/><stop offset="0.614" stop-color="#32b67a"/><stop offset="0.617" stop-color="#37b878"/><stop offset="0.644" stop-color="#63cb5f"/><stop offset="0.671" stop-color="#8ed645"/><stop offset="0.682" stop-color="#a0da39"/><stop offset="0.698" stop-color="#aadc32"/><stop offset="0.75" stop-color="#cde11d"/><stop offset="0.819" stop-color="#dfe318"/><stop offset="0.887" stop-color="#dfe318"/><stop offset="0.955" stop-color="#dfe318"/><stop offset="1" stop-color="#dfe318"/></linearGradient>
<linearGradient id="ge32" x1="0" y1="0" x2="0" y2="1"><stop offset="0" stop-color="#fde725"/><stop offset="0.068" stop-color="#fbe723"/><stop offset="0.136" stop-color="#f6e620"/><stop offset="0.205" stop-color="#dde318"/><stop offset="0.265" stop-color="#98d83e"/><stop offset="0.273" stop-color="#8bd646"/><stop offset="0.292" stop-color="#70cf57"/><stop offset="0.319" stop-color="#42be71"/><stop offset="0.341" stop-color="#25ac82"/><stop offset="0.347" stop-color="#22a785"/><stop offset="0.374" stop-color="#218f8d"/><stop offset="0.401" stop-color="#2a778e"/><stop offset="0.409" stop-color="#2d708e"/><stop offset="0.415" stop-color="#2f6b8e"/><stop offset="0.428" stop-color="#39568c"/><stop offset="0.442" stop-color="#424186"/><stop offset="0.456" stop-color="#482374"/><stop offset="0.469" stop-color="#440154"/><stop offset="0.476" stop-color="#440154"/><stop offset="0.477" stop-color="#440154"/><stop offset="0.483" stop-color="#440154"/><stop offset="0.49" stop-color="#440154"/><stop offset="0.497" stop-color="#440154"/><stop offset="0.51" stop-color="#482576"/><stop offset="0.524" stop-color="#414287"/><stop offset="0.538" stop-color="#375a8c"/><stop offset="0.546" stop-color="#31668e"/><stop offset="0.551" stop-color="#2e6e8e"/><stop offset="0.565" stop-color="#277e8e"/><stop offset="0.592" stop-color="#1e9c89"/><stop offset="0.614" stop-color="#2db27d"/><stop offset="0.619" stop-color="#37b878"/><stop offset="0.647" stop-color="#63cb5f"/><stop offset="0.674" stop-color="#8ed645"/><stop offset="0.682" stop-color="#9dd93b"/><stop offset="0.701" stop-color="#aadc32"/><stop offset="0.75" stop-color="#cde11d"/><stop offset="0.819" stop-color="#dfe318"/><stop offset="0.887" stop-color="#dfe318"/><stop offset="0.955" stop-color="#dfe318"/><stop offset="1" stop-color="#dfe318"/></linearGradient>
<linearGradient id="ge33" x1="0" y1="0" x2="0" y2="1"><stop offset="0" stop-color="#fde725"/><stop offset="0.068" stop-color="#fbe723"/><stop offset="0.136" stop-color="#f6e620"/><stop offset="0.205" stop-color="#dfe318"/><stop offset="0.267" stop-color="#98d83e"/><stop offset="0.273" stop-color="#8ed645"/><stop offset="0.295" stop-color="#6ece58"/><stop offset="0.322" stop-color="#40bd72"/><stop offset="0.341" stop-color="#27ad81"/><stop offset="0.349" stop-color="#21a685"/><stop offset="0.377" stop-color="#218f8d"/><stop offset="0.404" stop-color="#2a778e"/><stop offset="0.409" stop-color="#2c728e"/><stop offset="0.417" stop-color="#306a8e"/><stop offset="0.431" stop-color="#39568c"/><stop offset="0.445" stop-color="#424186"/><stop offset="0.458" stop-color="#482374"/><stop offset="0.472" stop-color="#440154"/><stop offset="0.477" stop-color="#440154"/><stop offset="0.479" stop-color="#440154"/><stop offset="0.486" stop-color="#440154"/><stop offset="0.492" stop-color="#440154"/><stop offset="0.499" stop-color="#440256"/><stop offset="0.513" stop-color="#482677"/><stop offset="0.527" stop-color="#414487"/><stop offset="0.54" stop-color="#375a8c"/><stop offset="0.546" stop-color="#33628d"/><stop offset="0.554" stop-color="#2e6f8e"/><stop offset="0.568" stop-color="#277e8e"/><stop offset="0.595" stop-color="#1e9c89"/><stop offset="0.614" stop-color="#29af7f"/><stop offset="0.622" stop-color="#35b779"/><stop offset="0.649" stop-color="#60ca60"/><stop offset="0.677" stop-color="#8ed645"/><stop offset="0.682" stop-color="#95d840"/><stop offset="0.704" stop-color="#aadc32"/><stop offset="0.75" stop-color="#cde11d"/><stop offset="0.819" stop-color="#dde318"/><stop offset="0.887" stop-color="#dfe318"/><stop offset="0.955" stop-color="#dfe318"/><stop offset="1" stop-color="#dfe318"/></linearGradient>
<linearGradient id="ge34" x1="0" y1="0" x2="0" y2="1"><stop offset="0" stop-color="#fde725"/><stop offset="0.068" stop-color="#fbe723"/><stop offset="0.136" stop-color="#f6e620"/><stop offset="0.205" stop-color="#dfe318"/><stop offset="0.269" stop-color="#95d840"/><stop offset="0.273" stop-color="#90d743"/><stop offset="0.296" stop-color="#6ece58"/><stop offset="0.323" stop-color="#40bd72"/><stop offset="0.341" stop-color="#28ae80"/><stop offset="0.351" stop-color="#22a785"/><stop offset="0.378" stop-color="#21908d"/><stop offset="0.405" stop-color="#2a788e"/><stop offset="0.409" stop-color="#2b748e"/><stop offset="0.419" stop-color="#2f6c8e"/><stop offset="0.432" stop-color="#38598c"/><stop offset="0.446" stop-color="#414487"/><stop offset="0.46" stop-color="#482677"/><stop offset="0.473" stop-color="#450457"/><stop offset="0.477" stop-color="#440154"/><stop offset="0.48" stop-color="#440154"/><stop offset="0.487" stop-color="#440154"/><stop offset="0.494" stop-color="#440154"/><stop offset="0.501" stop-color="#440154"/><stop offset="0.514" stop-color="#482475"/><stop offset="0.528" stop-color="#414287"/><stop offset="0.542" stop-color="#38598c"/><stop offset="0.546" stop-color="#355f8d"/><stop offset="0.555" stop-color="#2e6d8e"/><stop offset="0.569" stop-color="#287c8e"/><stop offset="0.596" stop-color="#1f9a8a"/><stop offset="0.614" stop-color="#25ac82"/><stop offset="0.623" stop-color="#32b67a"/><stop offset="0.651" stop-color="#5ec962"/><stop offset="0.678" stop-color="#89d548"/><stop offset="0.682" stop-color="#90d743"/><stop offset="0.705" stop-color="#a8db34"/><stop offset="0.75" stop-color="#cae11f"/><stop offset="0.819" stop-color="#dde318"/><stop offset="0.887" stop-color="#dfe318"/><stop offset="0.955" stop-color="#dfe318"/><stop offset="1" stop-color="#dfe318"/></linearGradient>
<linearGradient id="ge35" x1="0" y1="0" x2="0" y2="1"><stop offset="0" stop-color="#fde725"/><stop offset="0.068" stop-color="#fbe723"/><stop offset="0.136" stop-color="#f6e620"/><stop offset="0.205" stop-color="#dfe318"/><stop offset="0.271" stop-color="#93d741"/><stop offset="0.273" stop-color="#90d743"/><stop offset="0.299" stop-color="#6ccd5a"/><stop offset="0.326" stop-color="#3fbc73"/><stop offset="0.341" stop-color="#2ab07f"/><stop offset="0.353" stop-color="#21a585"/><stop offset="0.381" stop-color="#218f8d"/><stop offset="0.408" stop-color="#2a788e"/><stop offset="0.409" stop-color="#2a778e"/><stop offset="0.422" stop-color="#2f6c8e"/><stop offset="0.435" stop-color="#38598c"/><stop offset="0.449" stop-color="#414487"/><stop offset="0.462" stop-color="#482878"/><stop offset="0.476" stop-color="#450559"/><stop offset="0.477" stop-color="#440256"/><stop offset="0.483" stop-color="#440154"/><stop offset="0.49" stop-color="#440154"/><stop offset="0.497" stop-color="#440154"/><stop offset="0.503" stop-color="#450457"/><stop offset="0.517" stop-color="#482576"/><stop offset="0.531" stop-color="#414487"/><stop offset="0.544" stop-color="#38598c"/><stop offset="0.546" stop-color="#375b8d"/><stop offset="0.558" stop-color="#2e6d8e"/><stop offset="0.572" stop-color="#287c8e"/><stop offset="0.599" stop-color="#1f998a"/><stop offset="0.614" stop-color="#23a983"/><stop offset="0.626" stop-color="#31b57b"/><stop offset="0.653" stop-color="#5cc863"/><stop offset="0.681" stop-color="#86d549"/><stop offset="0.682" stop-color="#89d548"/><stop offset="0.708" stop-color="#a8db34"/><stop offset="0.75" stop-color="#c5e021"/><stop offset="0.819" stop-color="#dae319"/><stop offset="0.887" stop-color="#dfe318"/><stop offset="0.955" stop-color="#dfe318"/><stop offset="1" stop-color="#dfe318"/></linearGradient>
<linearGradient id="ge36" x1="0" y1="0" x2="0" y2="1"><stop offset="0" stop-color="#fde725"/><stop offset="0.068" stop-color="#fbe723"/><stop offset="0.136" stop-color="#f6e620"/><stop offset="0.205" stop-color="#dfe318"/><stop offset="0.273" stop-color="#93d741"/><stop offset="0.277" stop-color="#8ed645"/><stop offset="0.304" stop-color="#67cc5c"/><stop offset="0.332" stop-color="#3aba76"/><stop offset="0.341" stop-color="#2eb37c"/><stop offset="0.359" stop-color="#20a486"/><stop offset="0.386" stop-color="#218e8d"/><stop offset="0.409" stop-color="#297b8e"/><stop offset="0.413" stop-color="#2a778e"/><stop offset="0.427" stop-color="#2f6b8e"/><stop offset="0.441" stop-color="#38588c"/><stop offset="0.454" stop-color="#414487"/><stop offset="0.468" stop-color="#482677"/><stop offset="0.477" stop-color="#470e61"/><stop offset="0.482" stop-color="#46075a"/><stop offset="0.488" stop-color="#440154"/><stop offset="0.495" stop-color="#440154"/><stop offset="0.502" stop-color="#440154"/><stop offset="0.509" stop-color="#46085c"/><stop offset="0.523" stop-color="#482979"/><stop offset="0.536" stop-color="#404588"/><stop offset="0.546" stop-color="#3a548c"/><stop offset="0.55" stop-color="#375b8d"/><stop offset="0.563" stop-color="#2e6e8e"/><stop offset="0.577" stop-color="#287d8e"/><stop offset="0.604" stop-color="#1f998a"/><stop offset="0.614" stop-color="#1fa287"/><stop offset="0.632" stop-color="#2fb47c"/><stop offset="0.659" stop-color="#5ac864"/><stop offset="0.682" stop-color="#7cd250"/><stop offset="0.686" stop-color="#84d44b"/><stop offset="0.714" stop-color="#a5db36"/><stop offset="0.75" stop-color="#c0df25"/><stop offset="0.819" stop-color="#d8e219"/><stop offset="0.887" stop-color="#dfe318"/><stop offset="0.955" stop-color="#dfe318"/><stop offset="1" stop-color="#dfe318"/></linearGradient>
<linearGradient id="ge37" x1="0" y1="0" x2="0" y2="1"><stop offset="0" stop-color="#fde725"/><stop offset="0.068" stop-color="#fbe723"/><stop offset="0.136" stop-color="#f6e620"/><stop offset="0.205" stop-color="#dfe318"/><stop offset="0.273" stop-color="#95d840"/><stop offset="0.282" stop-color="#89d548"/><stop offset="0.31" stop-color="#65cb5e"/><stop offset="0.337" stop-color="#38b977"/><stop offset="0.341" stop-color="#32b67a"/><stop offset="0.364" stop-color="#20a386"/><stop offset="0.392" stop-color="#218e8d"/><stop offset="0.409" stop-color="#27808e"/><stop offset="0.419" stop-color="#2a788e"/><stop offset="0.432" stop-color="#2f6b8e"/><stop offset="0.446" stop-color="#38598c"/><stop offset="0.46" stop-color="#404688"/><stop offset="0.473" stop-color="#482979"/><stop offset="0.477" stop-color="#482071"/><stop offset="0.487" stop-color="#460a5d"/><stop offset="0.494" stop-color="#440154"/><stop offset="0.501" stop-color="#440154"/><stop offset="0.508" stop-color="#440154"/><stop offset="0.514" stop-color="#460b5e"/><stop offset="0.528" stop-color="#482979"/><stop offset="0.542" stop-color="#404688"/><stop offset="0.546" stop-color="#3d4d8a"/><stop offset="0.555" stop-color="#375b8d"/><stop offset="0.569" stop-color="#2e6d8e"/><stop offset="0.583" stop-color="#287c8e"/><stop offset="0.61" stop-color="#1f988b"/><stop offset="0.614" stop-color="#1e9c89"/><stop offset="0.637" stop-color="#2db27d"/><stop offset="0.664" stop-color="#58c765"/><stop offset="0.682" stop-color="#70cf57"/><stop offset="0.692" stop-color="#7cd250"/><stop offset="0.719" stop-color="#a2da37"/><stop offset="0.75" stop-color="#b8de29"/><stop offset="0.819" stop-color="#d5e21a"/><stop offset="0.887" stop-color="#dfe318"/><stop offset="0.955" stop-color="#dfe318"/><stop offset="1" stop-color="#dfe318"/></linearGradient>
<linearGradient id="ge38" x1="0" y1="0" x2="0" y2="1"><stop offset="0" stop-color="#fde725"/><stop offset="0.068" stop-color="#fbe723"/><stop offset="0.136" stop-color="#f6e620"/><stop offset="0.205" stop-color="#dfe318"/><stop offset="0.273" stop-color="#98d83e"/><stop offset="0.288" stop-color="#84d44b"/><stop offset="0.315" stop-color="#5ec962"/><stop offset="0.341" stop-color="#37b878"/><stop offset="0.342" stop-color="#34b679"/><stop offset="0.37" stop-color="#1fa287"/><stop offset="0.397" stop-color="#218e8d"/><stop offset="0.409" stop-color="#25848e"/><stop offset="0.424" stop-color="#29798e"/><stop offset="0.438" stop-color="#2f6c8e"/><stop offset="0.452" stop-color="#375b8d"/><stop offset="0.465" stop-color="#3f4889"/><stop offset="0.477" stop-color="#472f7d"/><stop offset="0.479" stop-color="#472d7b"/><stop offset="0.492" stop-color="#471063"/><stop offset="0.499" stop-color="#440256"/><stop offset="0.506" stop-color="#440154"/><stop offset="0.513" stop-color="#440154"/><stop offset="0.52" stop-color="#470e61"/><stop offset="0.533" stop-color="#472c7a"/><stop offset="0.546" stop-color="#404588"/><stop offset="0.547" stop-color="#3f4788"/><stop offset="0.561" stop-color="#375b8d"/><stop offset="0.574" stop-color="#2e6d8e"/><stop offset="0.588" stop-color="#287c8e"/><stop offset="0.614" stop-color="#1f958b"/><stop offset="0.615" stop-color="#1f968b"/><stop offset="0.643" stop-color="#29af7f"/><stop offset="0.67" stop-color="#54c568"/><stop offset="0.682" stop-color="#63cb5f"/><stop offset="0.697" stop-color="#77d153"/><stop offset="0.724" stop-color="#a0da39"/><stop offset="0.75" stop-color="#b0dd2f"/><stop offset="0.819" stop-color="#d2e21b"/><stop offset="0.887" stop-color="#dfe318"/><stop offset="0.955" stop-color="#dfe318"/><stop offset="1" stop-color="#dfe318"/></linearGradient>
<linearGradient id="ge39" x1="0" y1="0" x2="0" y2="1"><stop offset="0" stop-color="#fde725"/><stop offset="0.068" stop-color="#fbe723"/><stop offset="0.136" stop-color="#f6e620"/><stop offset="0.205" stop-color="#dde318"/><stop offset="0.273" stop-color="#98d83e"/><stop offset="0.293" stop-color="#7cd250"/><stop offset="0.321" stop-color="#58c765"/><stop offset="0.341" stop-color="#3aba76"/><stop offset="0.348" stop-color="#31b57b"/><stop offset="0.375" stop-color="#1fa187"/><stop offset="0.402" stop-color="#218e8d"/><stop offset="0.409" stop-color="#23898e"/><stop offset="0.43" stop-color="#297a8e"/><stop offset="0.443" stop-color="#2e6d8e"/><stop offset="0.457" stop-color="#365d8d"/><stop offset="0.471" stop-color="#3e4c8a"/><stop offset="0.477" stop-color="#423f85"/><stop offset="0.484" stop-color="#46307e"/><stop offset="0.498" stop-color="#481769"/><stop offset="0.505" stop-color="#460a5d"/><stop offset="0.512" stop-color="#440154"/><stop offset="0.518" stop-color="#46075a"/><stop offset="0.525" stop-color="#481467"/><stop offset="0.539" stop-color="#472e7c"/><stop offset="0.546" stop-color="#433d84"/><stop offset="0.553" stop-color="#3e4989"/><stop offset="0.566" stop-color="#365c8d"/><stop offset="0.58" stop-color="#2e6d8e"/><stop offset="0.593" stop-color="#287c8e"/><stop offset="0.614" stop-color="#218f8d"/><stop offset="0.621" stop-color="#1f958b"/><stop offset="0.648" stop-color="#27ad81"/><stop offset="0.675" stop-color="#4ec36b"/><stop offset="0.682" stop-color="#58c765"/><stop offset="0.703" stop-color="#70cf57"/><stop offset="0.73" stop-color="#98d83e"/><stop offset="0.75" stop-color="#aadc32"/><stop offset="0.819" stop-color="#d0e11c"/><stop offset="0.887" stop-color="#dde318"/><stop offset="0.955" stop-color="#dfe318"/><stop offset="1" stop-color="#dfe318"/></linearGradient>
<linearGradient id="ge40" x1="0" y1="0" x2="0" y2="1"><stop offset="0" stop-color="#fde725"/><stop offset="0.068" stop-color="#fbe723"/><stop offset="0.136" stop-color="#f6e620"/><stop offset="0.205" stop-color="#dde318"/><stop offset="0.273" stop-color="#9bd93c"/><stop offset="0.303" stop-color="#75d054"/><stop offset="0.33" stop-color="#4ec36b"/><stop offset="0.341" stop-color="#3fbc73"/><stop offset="0.357" stop-color="#2db27d"/><stop offset="0.385" stop-color="#1fa088"/><stop offset="0.409" stop-color="#218f8d"/><stop offset="0.412" stop-color="#228d8d"/><stop offset="0.439" stop-color="#297b8e"/><stop offset="0.453" stop-color="#2e6d8e"/><stop offset="0.467" stop-color="#355e8d"/><stop offset="0.477" stop-color="#3b518b"/><stop offset="0.48" stop-color="#3d4d8a"/><stop offset="0.494" stop-color="#46337f"/><stop offset="0.508" stop-color="#481c6e"/><stop offset="0.514" stop-color="#471063"/><stop offset="0.521" stop-color="#450457"/><stop offset="0.528" stop-color="#471164"/><stop offset="0.535" stop-color="#481c6e"/><stop offset="0.546" stop-color="#472f7d"/><stop offset="0.548" stop-color="#463480"/><stop offset="0.562" stop-color="#3d4e8a"/><stop offset="0.576" stop-color="#355f8d"/><stop offset="0.589" stop-color="#2e6e8e"/><stop offset="0.603" stop-color="#287d8e"/><stop offset="0.614" stop-color="#24868e"/><stop offset="0.63" stop-color="#1f948c"/><stop offset="0.658" stop-color="#25ac82"/><stop offset="0.682" stop-color="#42be71"/><stop offset="0.685" stop-color="#48c16e"/><stop offset="0.712" stop-color="#6ccd5a"/><stop offset="0.739" stop-color="#8ed645"/><stop offset="0.75" stop-color="#9dd93b"/><stop offset="0.819" stop-color="#c8e020"/><stop offset="0.887" stop-color="#dae319"/><stop offset="0.955" stop-color="#dfe318"/><stop offset="1" stop-color="#dfe318"/></linearGradient>
<linearGradient id="ge41" x1="0" y1="0" x2="0" y2="1"><stop offset="0" stop-color="#fde725"/><stop offset="0.068" stop-color="#f8e621"/><stop offset="0.136" stop-color="#f6e620"/><stop offset="0.205" stop-color="#dde318"/><stop offset="0.273" stop-color="#9dd93b"/><stop offset="0.314" stop-color="#70cf57"/><stop offset="0.341" stop-color="#48c16e"/><stop offset="0.368" stop-color="#2ab07f"/><stop offset="0.396" stop-color="#1fa088"/><stop offset="0.409" stop-color="#1f978b"/><stop offset="0.423" stop-color="#218e8d"/><stop offset="0.45" stop-color="#287c8e"/><stop offset="0.464" stop-color="#2e6f8e"/><stop offset="0.477" stop-color="#34618d"/><stop offset="0.491" stop-color="#3b518b"/><stop offset="0.505" stop-color="#443a83"/><stop offset="0.518" stop-color="#482576"/><stop offset="0.525" stop-color="#481b6d"/><stop offset="0.532" stop-color="#471164"/><stop offset="0.539" stop-color="#48186a"/><stop offset="0.546" stop-color="#482374"/><stop offset="0.559" stop-color="#453882"/><stop offset="0.573" stop-color="#3c4f8a"/><stop offset="0.587" stop-color="#34608d"/><stop offset="0.6" stop-color="#2e6f8e"/><stop offset="0.614" stop-color="#287d8e"/><stop offset="0.641" stop-color="#20938c"/><stop offset="0.668" stop-color="#23a983"/><stop offset="0.682" stop-color="#2eb37c"/><stop offset="0.696" stop-color="#3fbc73"/><stop offset="0.723" stop-color="#65cb5e"/><stop offset="0.75" stop-color="#84d44b"/><stop offset="0.819" stop-color="#bade28"/><stop offset="0.887" stop-color="#d5e21a"/><stop offset="0.955" stop-color="#dfe318"/><stop offset="1" stop-color="#dfe318"/></linearGradient>
<linearGradient id="ge42" x1="0" y1="0" x2="0" y2="1"><stop offset="0" stop-color="#fde725"/><stop offset="0.068" stop-color="#f8e621"/><stop offset="0.136" stop-color="#f4e61e"/><stop offset="0.205" stop-color="#dde318"/><stop offset="0.273" stop-color="#a0da39"/><stop offset="0.326" stop-color="#65cb5e"/><stop offset="0.341" stop-color="#50c46a"/><stop offset="0.353" stop-color="#40bd72"/><stop offset="0.381" stop-color="#28ae80"/><stop offset="0.408" stop-color="#1f9f88"/><stop offset="0.409" stop-color="#1f9e89"/><stop offset="0.435" stop-color="#218f8d"/><stop offset="0.462" stop-color="#287d8e"/><stop offset="0.476" stop-color="#2c718e"/><stop offset="0.477" stop-color="#2d708e"/><stop offset="0.49" stop-color="#32658e"/><stop offset="0.503" stop-color="#39558c"/><stop offset="0.517" stop-color="#424086"/><stop offset="0.531" stop-color="#472e7c"/><stop offset="0.538" stop-color="#482576"/><stop offset="0.544" stop-color="#481b6d"/><stop offset="0.546" stop-color="#481d6f"/><stop offset="0.551" stop-color="#482475"/><stop offset="0.558" stop-color="#472d7b"/><stop offset="0.572" stop-color="#424086"/><stop offset="0.585" stop-color="#3a548c"/><stop offset="0.599" stop-color="#32648e"/><stop offset="0.613" stop-color="#2c718e"/><stop offset="0.614" stop-color="#2c728e"/><stop offset="0.626" stop-color="#277e8e"/><stop offset="0.653" stop-color="#20938c"/><stop offset="0.681" stop-color="#22a884"/><stop offset="0.682" stop-color="#23a983"/><stop offset="0.708" stop-color="#3aba76"/><stop offset="0.735" stop-color="#5ec962"/><stop offset="0.75" stop-color="#6ece58"/><stop offset="0.763" stop-color="#7cd250"/><stop offset="0.819" stop-color="#b0dd2f"/><stop offset="0.887" stop-color="#d0e11c"/><stop offset="0.955" stop-color="#dae319"/><stop offset="1" stop-color="#dfe318"/></linearGradient>
<linearGradient id="ge43" x1="0" y1="0" x2="0" y2="1"><stop offset="0" stop-color="#fbe723"/><stop offset="0.068" stop-color="#f8e621"/><stop offset="0.136" stop-color="#f4e61e"/><stop offset="0.205" stop-color="#dae319"/><stop offset="0.273" stop-color="#a0da39"/><stop offset="0.337" stop-color="#5cc863"/><stop offset="0.341" stop-color="#56c667"/><stop offset="0.364" stop-color="#3dbc74"/><stop offset="0.392" stop-color="#27ad81"/><stop offset="0.409" stop-color="#21a585"/><stop offset="0.419" stop-color="#1fa088"/><stop offset="0.446" stop-color="#20928c"/><stop offset="0.473" stop-color="#26818e"/><stop offset="0.477" stop-color="#287d8e"/><stop offset="0.487" stop-color="#2b758e"/><stop offset="0.501" stop-color="#2f6b8e"/><stop offset="0.514" stop-color="#365c8d"/><stop offset="0.528" stop-color="#3e4a89"/><stop offset="0.542" stop-color="#443a83"/><stop offset="0.546" stop-color="#453581"/><stop offset="0.548" stop-color="#46337f"/><stop offset="0.555" stop-color="#472a7a"/><stop offset="0.562" stop-color="#472f7d"/><stop offset="0.569" stop-color="#453781"/><stop offset="0.583" stop-color="#3f4788"/><stop offset="0.596" stop-color="#375a8c"/><stop offset="0.61" stop-color="#31688e"/><stop offset="0.614" stop-color="#2f6c8e"/><stop offset="0.623" stop-color="#2c738e"/><stop offset="0.637" stop-color="#27808e"/><stop offset="0.664" stop-color="#20938c"/><stop offset="0.682" stop-color="#1fa088"/><stop offset="0.692" stop-color="#21a685"/><stop offset="0.719" stop-color="#34b679"/><stop offset="0.746" stop-color="#56c667"/><stop offset="0.75" stop-color="#5cc863"/><stop offset="0.774" stop-color="#73d056"/><stop offset="0.819" stop-color="#a0da39"/><stop offset="0.887" stop-color="#c5e021"/><stop offset="0.955" stop-color="#d5e21a"/><stop offset="1" stop-color="#dde318"/></linearGradient>
<linearGradient id="ge44" x1="0" y1="0" x2="0" y2="1"><stop offset="0" stop-color="#fbe723"/><stop offset="0.068" stop-color="#f8e621"/><stop offset="0.136" stop-color="#f1e51d"/><stop offset="0.205" stop-color="#dae319"/><stop offset="0.273" stop-color="#a2da37"/><stop offset="0.341" stop-color="#5ec962"/><stop offset="0.351" stop-color="#54c568"/><stop offset="0.378" stop-color="#3bbb75"/><stop offset="0.405" stop-color="#28ae80"/><stop offset="0.409" stop-color="#26ad81"/><stop offset="0.432" stop-color="#1fa287"/><stop offset="0.46" stop-color="#1f958b"/><stop offset="0.477" stop-color="#228c8d"/><stop offset="0.487" stop-color="#25848e"/><stop offset="0.501" stop-color="#297b8e"/><stop offset="0.514" stop-color="#2c718e"/><stop offset="0.528" stop-color="#32648e"/><stop offset="0.542" stop-color="#39558c"/><stop offset="0.546" stop-color="#3b518b"/><stop offset="0.555" stop-color="#3f4889"/><stop offset="0.562" stop-color="#424186"/><stop offset="0.569" stop-color="#443b84"/><stop offset="0.576" stop-color="#433d84"/><stop offset="0.583" stop-color="#414487"/><stop offset="0.596" stop-color="#3c508b"/><stop offset="0.61" stop-color="#34608d"/><stop offset="0.614" stop-color="#32648e"/><stop offset="0.623" stop-color="#2e6e8e"/><stop offset="0.637" stop-color="#2a788e"/><stop offset="0.651" stop-color="#26828e"/><stop offset="0.678" stop-color="#1f958b"/><stop offset="0.682" stop-color="#1f988b"/><stop offset="0.705" stop-color="#21a585"/><stop offset="0.733" stop-color="#31b57b"/><stop offset="0.75" stop-color="#42be71"/><stop offset="0.76" stop-color="#4cc26c"/><stop offset="0.787" stop-color="#6ccd5a"/><stop offset="0.819" stop-color="#86d549"/><stop offset="0.887" stop-color="#b8de29"/><stop offset="0.955" stop-color="#d2e21b"/><stop offset="1" stop-color="#d8e219"/></linearGradient>
<linearGradient id="ge45" x1="0" y1="0" x2="0" y2="1"><stop offset="0" stop-color="#fbe723"/><stop offset="0.068" stop-color="#f8e621"/><stop offset="0.136" stop-color="#efe51c"/><stop offset="0.205" stop-color="#dae319"/><stop offset="0.273" stop-color="#a8db34"/><stop offset="0.341" stop-color="#6ccd5a"/><stop offset="0.37" stop-color="#50c46a"/><stop offset="0.397" stop-color="#3aba76"/><stop offset="0.409" stop-color="#32b67a"/><stop offset="0.424" stop-color="#2ab07f"/><stop offset="0.452" stop-color="#21a585"/><stop offset="0.477" stop-color="#1e9b8a"/><stop offset="0.479" stop-color="#1e9b8a"/><stop offset="0.506" stop-color="#238a8d"/><stop offset="0.52" stop-color="#26828e"/><stop offset="0.533" stop-color="#29798e"/><stop offset="0.546" stop-color="#2e6f8e"/><stop offset="0.547" stop-color="#2e6e8e"/><stop offset="0.561" stop-color="#34618d"/><stop offset="0.574" stop-color="#39568c"/><stop offset="0.581" stop-color="#3b518b"/><stop offset="0.588" stop-color="#3e4c8a"/><stop offset="0.595" stop-color="#3d4d8a"/><stop offset="0.602" stop-color="#3b528b"/><stop offset="0.614" stop-color="#365c8d"/><stop offset="0.615" stop-color="#365d8d"/><stop offset="0.629" stop-color="#30698e"/><stop offset="0.643" stop-color="#2b758e"/><stop offset="0.656" stop-color="#277f8e"/><stop offset="0.67" stop-color="#24878e"/><stop offset="0.682" stop-color="#218f8d"/><stop offset="0.697" stop-color="#1f998a"/><stop offset="0.724" stop-color="#22a785"/><stop offset="0.75" stop-color="#2fb47c"/><stop offset="0.752" stop-color="#2fb47c"/><stop offset="0.779" stop-color="#48c16e"/><stop offset="0.806" stop-color="#65cb5e"/><stop offset="0.819" stop-color="#70cf57"/><stop offset="0.887" stop-color="#a8db34"/><stop offset="0.955" stop-color="#c5e021"/><stop offset="1" stop-color="#d2e21b"/></linearGradient>
<linearGradient id="ge46" x1="0" y1="0" x2="0" y2="1"><stop offset="0" stop-color="#fbe723"/><stop offset="0.068" stop-color="#f8e621"/><stop offset="0.136" stop-color="#ece51b"/><stop offset="0.205" stop-color="#dae319"/><stop offset="0.273" stop-color="#addc30"/><stop offset="0.341" stop-color="#7cd250"/><stop offset="0.393" stop-color="#50c46a"/><stop offset="0.409" stop-color="#44bf70"/><stop offset="0.42" stop-color="#3dbc74"/><stop offset="0.447" stop-color="#2eb37c"/><stop offset="0.475" stop-color="#25ab82"/><stop offset="0.477" stop-color="#24aa83"/><stop offset="0.502" stop-color="#1fa188"/><stop offset="0.529" stop-color="#20928c"/><stop offset="0.543" stop-color="#228b8d"/><stop offset="0.546" stop-color="#238a8d"/><stop offset="0.557" stop-color="#25838e"/><stop offset="0.57" stop-color="#29798e"/><stop offset="0.584" stop-color="#2e6f8e"/><stop offset="0.598" stop-color="#31678e"/><stop offset="0.604" stop-color="#33638d"/><stop offset="0.611" stop-color="#355f8d"/><stop offset="0.614" stop-color="#375b8d"/><stop offset="0.618" stop-color="#355e8d"/><stop offset="0.625" stop-color="#33628d"/><stop offset="0.638" stop-color="#306a8e"/><stop offset="0.652" stop-color="#2c738e"/><stop offset="0.666" stop-color="#277e8e"/><stop offset="0.679" stop-color="#24868e"/><stop offset="0.682" stop-color="#23888e"/><stop offset="0.693" stop-color="#218e8d"/><stop offset="0.72" stop-color="#1e9d89"/><stop offset="0.748" stop-color="#24aa83"/><stop offset="0.75" stop-color="#25ab82"/><stop offset="0.775" stop-color="#31b57b"/><stop offset="0.802" stop-color="#46c06f"/><stop offset="0.819" stop-color="#54c568"/><stop offset="0.829" stop-color="#5ec962"/><stop offset="0.887" stop-color="#8bd646"/><stop offset="0.955" stop-color="#b8de29"/><stop offset="1" stop-color="#c5e021"/></linearGradient>
<linearGradient id="ge47" x1="0" y1="0" x2="0" y2="1"><stop offset="0" stop-color="#fbe723"/><stop offset="0.068" stop-color="#f8e621"/><stop offset="0.136" stop-color="#efe51c"/><stop offset="0.205" stop-color="#dfe318"/><stop offset="0.273" stop-color="#bddf26"/><stop offset="0.341" stop-color="#95d840"/><stop offset="0.409" stop-color="#63cb5f"/><stop offset="0.431" stop-color="#54c568"/><stop offset="0.458" stop-color="#44bf70"/><stop offset="0.477" stop-color="#3bbb75"/><stop offset="0.486" stop-color="#37b878"/><stop offset="0.513" stop-color="#2cb17e"/><stop offset="0.54" stop-color="#22a884"/><stop offset="0.546" stop-color="#21a585"/><stop offset="0.568" stop-color="#1e9c89"/><stop offset="0.581" stop-color="#1f968b"/><stop offset="0.595" stop-color="#218f8d"/><stop offset="0.608" stop-color="#24868e"/><stop offset="0.614" stop-color="#25838e"/><stop offset="0.622" stop-color="#277f8e"/><stop offset="0.636" stop-color="#2a788e"/><stop offset="0.643" stop-color="#2b758e"/><stop offset="0.649" stop-color="#2e6d8e"/><stop offset="0.656" stop-color="#2d718e"/><stop offset="0.663" stop-color="#2c738e"/><stop offset="0.677" stop-color="#297a8e"/><stop offset="0.682" stop-color="#287d8e"/><stop offset="0.69" stop-color="#26828e"/><stop offset="0.704" stop-color="#238a8d"/><stop offset="0.718" stop-color="#20928c"/><stop offset="0.731" stop-color="#1f978b"/><stop offset="0.75" stop-color="#1fa188"/><stop offset="0.759" stop-color="#20a486"/><stop offset="0.786" stop-color="#28ae80"/><stop offset="0.813" stop-color="#37b878"/><stop offset="0.819" stop-color="#3aba76"/><stop offset="0.84" stop-color="#48c16e"/><stop offset="0.868" stop-color="#5cc863"/><stop offset="0.887" stop-color="#6ccd5a"/><stop offset="0.955" stop-color="#9bd93c"/><stop offset="1" stop-color="#b2dd2d"/></linearGradient>
<linearGradient id="ge48" x1="0" y1="0" x2="0" y2="1"><stop offset="0" stop-color="#fbe723"/><stop offset="0.068" stop-color="#f8e621"/><stop offset="0.136" stop-color="#f1e51d"/><stop offset="0.205" stop-color="#e7e419"/><stop offset="0.273" stop-color="#cae11f"/><stop offset="0.341" stop-color="#b0dd2f"/><stop offset="0.409" stop-color="#86d549"/><stop offset="0.477" stop-color="#60ca60"/><stop offset="0.505" stop-color="#52c569"/><stop offset="0.532" stop-color="#46c06f"/><stop offset="0.546" stop-color="#40bd72"/><stop offset="0.559" stop-color="#3bbb75"/><stop offset="0.587" stop-color="#2db27d"/><stop offset="0.614" stop-color="#23a983"/><stop offset="0.628" stop-color="#20a486"/><stop offset="0.641" stop-color="#1f9e89"/><stop offset="0.655" stop-color="#1f978b"/><stop offset="0.668" stop-color="#20928c"/><stop offset="0.682" stop-color="#228d8d"/><stop offset="0.689" stop-color="#238a8d"/><stop offset="0.696" stop-color="#26828e"/><stop offset="0.703" stop-color="#25848e"/><stop offset="0.709" stop-color="#24878e"/><stop offset="0.723" stop-color="#228c8d"/><stop offset="0.737" stop-color="#20928c"/><stop offset="0.75" stop-color="#1f988b"/><stop offset="0.764" stop-color="#1f9f88"/><stop offset="0.778" stop-color="#20a386"/><stop offset="0.805" stop-color="#27ad81"/><stop offset="0.819" stop-color="#2db27d"/><stop offset="0.832" stop-color="#34b679"/><stop offset="0.859" stop-color="#40bd72"/><stop offset="0.887" stop-color="#50c46a"/><stop offset="0.914" stop-color="#60ca60"/><stop offset="0.955" stop-color="#7cd250"/><stop offset="1" stop-color="#98d83e"/></linearGradient>
<linearGradient id="ge49" x1="0" y1="0" x2="0" y2="1"><stop offset="0" stop-color="#fbe723"/><stop offset="0.068" stop-color="#fbe723"/><stop offset="0.136" stop-color="#f4e61e"/><stop offset="0.205" stop-color="#ece51b"/><stop offset="0.273" stop-color="#d8e219"/><stop offset="0.341" stop-color="#c2df23"/><stop offset="0.409" stop-color="#a5db36"/><stop offset="0.477" stop-color="#86d549"/><stop offset="0.521" stop-color="#73d056"/><stop offset="0.546" stop-color="#69cd5b"/><stop offset="0.548" stop-color="#69cd5b"/><stop offset="0.576" stop-color="#5ec962"/><stop offset="0.603" stop-color="#52c569"/><stop offset="0.614" stop-color="#4cc26c"/><stop offset="0.63" stop-color="#44bf70"/><stop offset="0.658" stop-color="#38b977"/><stop offset="0.671" stop-color="#31b57b"/><stop offset="0.682" stop-color="#2cb17e"/><stop offset="0.685" stop-color="#2ab07f"/><stop offset="0.698" stop-color="#25ac82"/><stop offset="0.712" stop-color="#22a884"/><stop offset="0.726" stop-color="#20a486"/><stop offset="0.733" stop-color="#1fa287"/><stop offset="0.739" stop-color="#1fa188"/><stop offset="0.746" stop-color="#1e9b8a"/><stop offset="0.75" stop-color="#1e9c89"/><stop offset="0.753" stop-color="#1e9d89"/><stop offset="0.767" stop-color="#1fa188"/><stop offset="0.78" stop-color="#20a486"/><stop offset="0.794" stop-color="#23a983"/><stop offset="0.808" stop-color="#28ae80"/><stop offset="0.819" stop-color="#2cb17e"/><stop offset="0.821" stop-color="#2db27d"/><stop offset="0.849" stop-color="#38b977"/><stop offset="0.876" stop-color="#44bf70"/><stop offset="0.887" stop-color="#4cc26c"/><stop offset="0.903" stop-color="#52c569"/><stop offset="0.93" stop-color="#5ec962"/><stop offset="0.955" stop-color="#6ccd5a"/><stop offset="0.958" stop-color="#6ccd5a"/><stop offset="1" stop-color="#81d34d"/></linearGradient>
<filter id="blgi" x="-5%" y="-5%" width="110%" height="110%"><feGaussianBlur stdDeviation="1.1 0.3"/></filter>
<clipPath id="clipgi"><rect x="384.60" y="46.40" width="132.80" height="73.30"/></clipPath>
<linearGradient id="gi0" x1="0" y1="0" x2="0" y2="1"><stop offset="0" stop-color="#fde725"/><stop offset="0.068" stop-color="#fde725"/><stop offset="0.136" stop-color="#fde725"/><stop offset="0.205" stop-color="#fde725"/><stop offset="0.273" stop-color="#fde725"/><stop offset="0.341" stop-color="#fde725"/><stop offset="0.409" stop-color="#fde725"/><stop offset="0.477" stop-color="#fde725"/><stop offset="0.546" stop-color="#ece51b"/><stop offset="0.604" stop-color="#d5e21a"/><stop offset="0.614" stop-color="#d0e11c"/><stop offset="0.632" stop-color="#c8e020"/><stop offset="0.659" stop-color="#b8de29"/><stop offset="0.682" stop-color="#a8db34"/><stop offset="0.686" stop-color="#a8db34"/><stop offset="0.714" stop-color="#90d743"/><stop offset="0.741" stop-color="#7ad151"/><stop offset="0.75" stop-color="#73d056"/><stop offset="0.754" stop-color="#70cf57"/><stop offset="0.768" stop-color="#63cb5f"/><stop offset="0.782" stop-color="#54c568"/><stop offset="0.795" stop-color="#46c06f"/><stop offset="0.809" stop-color="#3aba76"/><stop offset="0.816" stop-color="#35b779"/><stop offset="0.819" stop-color="#34b679"/><stop offset="0.823" stop-color="#31b57b"/><stop offset="0.829" stop-color="#35b779"/><stop offset="0.836" stop-color="#38b977"/><stop offset="0.85" stop-color="#42be71"/><stop offset="0.864" stop-color="#4ec36b"/><stop offset="0.877" stop-color="#5ac864"/><stop offset="0.887" stop-color="#60ca60"/><stop offset="0.891" stop-color="#63cb5f"/><stop offset="0.905" stop-color="#69cd5b"/><stop offset="0.932" stop-color="#7ad151"/><stop offset="0.955" stop-color="#84d44b"/><stop offset="0.959" stop-color="#86d549"/><stop offset="0.986" stop-color="#89d548"/><stop offset="1" stop-color="#89d548"/></linearGradient>
<linearGradient id="gi1" x1="0" y1="0" x2="0" y2="1"><stop offset="0" stop-color="#fde725"/><stop offset="0.068" stop-color="#fde725"/><stop offset="0.136" stop-color="#fde725"/><stop offset="0.205" stop-color="#fde725"/><stop offset="0.273" stop-color="#fde725"/><stop offset="0.341" stop-color="#fbe723"/><stop offset="0.409" stop-color="#eae51a"/><stop offset="0.477" stop-color="#d5e21a"/><stop offset="0.546" stop-color="#bade28"/><stop offset="0.573" stop-color="#b0dd2f"/><stop offset="0.6" stop-color="#a5db36"/><stop offset="0.614" stop-color="#9dd93b"/><stop offset="0.628" stop-color="#95d840"/><stop offset="0.655" stop-color="#86d549"/><stop offset="0.682" stop-color="#75d054"/><stop offset="0.709" stop-color="#60ca60"/><stop offset="0.723" stop-color="#56c667"/><stop offset="0.737" stop-color="#4cc26c"/><stop offset="0.75" stop-color="#3fbc73"/><stop offset="0.764" stop-color="#32b67a"/><stop offset="0.778" stop-color="#29af7f"/><stop offset="0.784" stop-color="#25ac82"/><stop offset="0.791" stop-color="#23a983"/><stop offset="0.798" stop-color="#25ac82"/><stop offset="0.805" stop-color="#28ae80"/><stop offset="0.819" stop-color="#2fb47c"/><stop offset="0.832" stop-color="#38b977"/><stop offset="0.846" stop-color="#42be71"/><stop offset="0.859" stop-color="#4cc26c"/><stop offset="0.873" stop-color="#52c569"/><stop offset="0.887" stop-color="#5ac864"/><stop offset="0.9" stop-color="#63cb5f"/><stop offset="0.928" stop-color="#70cf57"/><stop offset="0.955" stop-color="#77d153"/><stop offset="0.982" stop-color="#7cd250"/><stop offset="1" stop-color="#7cd250"/></linearGradient>
<linearGradient id="gi2" x1="0" y1="0" x2="0" y2="1"><stop offset="0" stop-color="#fde725"/><stop offset="0.068" stop-color="#fde725"/><stop offset="0.136" stop-color="#f8e621"/><stop offset="0.205" stop-color="#ece51b"/><stop offset="0.273" stop-color="#e2e418"/><stop offset="0.341" stop-color="#d2e21b"/><stop offset="0.409" stop-color="#c0df25"/><stop offset="0.477" stop-color="#aadc32"/><stop offset="0.543" stop-color="#93d741"/><stop offset="0.546" stop-color="#93d741"/><stop offset="0.57" stop-color="#89d548"/><stop offset="0.598" stop-color="#7cd250"/><stop offset="0.614" stop-color="#75d054"/><stop offset="0.625" stop-color="#6ece58"/><stop offset="0.652" stop-color="#5ec962"/><stop offset="0.679" stop-color="#4cc26c"/><stop offset="0.682" stop-color="#4ac16d"/><stop offset="0.693" stop-color="#42be71"/><stop offset="0.707" stop-color="#3bbb75"/><stop offset="0.72" stop-color="#2fb47c"/><stop offset="0.734" stop-color="#26ad81"/><stop offset="0.748" stop-color="#21a685"/><stop offset="0.75" stop-color="#20a486"/><stop offset="0.754" stop-color="#1fa287"/><stop offset="0.761" stop-color="#1f9f88"/><stop offset="0.768" stop-color="#1fa187"/><stop offset="0.775" stop-color="#20a486"/><stop offset="0.789" stop-color="#25ab82"/><stop offset="0.802" stop-color="#2cb17e"/><stop offset="0.816" stop-color="#34b679"/><stop offset="0.819" stop-color="#37b878"/><stop offset="0.829" stop-color="#3bbb75"/><stop offset="0.843" stop-color="#42be71"/><stop offset="0.87" stop-color="#52c569"/><stop offset="0.887" stop-color="#5ac864"/><stop offset="0.898" stop-color="#5ec962"/><stop offset="0.925" stop-color="#69cd5b"/><stop offset="0.952" stop-color="#70cf57"/><stop offset="0.955" stop-color="#70cf57"/><stop offset="0.98" stop-color="#73d056"/><stop offset="1" stop-color="#73d056"/></linearGradient>
<linearGradient id="gi3" x1="0" y1="0" x2="0" y2="1"><stop offset="0" stop-color="#e7e419"/><stop offset="0.068" stop-color="#dde318"/><stop offset="0.136" stop-color="#d5e21a"/><stop offset="0.205" stop-color="#cae11f"/><stop offset="0.273" stop-color="#c0df25"/><stop offset="0.341" stop-color="#b0dd2f"/><stop offset="0.409" stop-color="#a0da39"/><stop offset="0.477" stop-color="#8bd646"/><stop offset="0.514" stop-color="#7fd34e"/><stop offset="0.542" stop-color="#75d054"/><stop offset="0.546" stop-color="#73d056"/><stop offset="0.569" stop-color="#69cd5b"/><stop offset="0.596" stop-color="#5cc863"/><stop offset="0.614" stop-color="#56c667"/><stop offset="0.623" stop-color="#50c46a"/><stop offset="0.651" stop-color="#3dbc74"/><stop offset="0.664" stop-color="#35b779"/><stop offset="0.678" stop-color="#2fb47c"/><stop offset="0.682" stop-color="#2db27d"/><stop offset="0.692" stop-color="#26ad81"/><stop offset="0.705" stop-color="#21a585"/><stop offset="0.719" stop-color="#1f9e89"/><stop offset="0.726" stop-color="#1f9a8a"/><stop offset="0.733" stop-color="#1f968b"/><stop offset="0.739" stop-color="#1f998a"/><stop offset="0.746" stop-color="#1e9d89"/><stop offset="0.75" stop-color="#1f9f88"/><stop offset="0.76" stop-color="#20a386"/><stop offset="0.774" stop-color="#24aa83"/><stop offset="0.787" stop-color="#2ab07f"/><stop offset="0.801" stop-color="#31b57b"/><stop offset="0.814" stop-color="#37b878"/><stop offset="0.819" stop-color="#38b977"/><stop offset="0.842" stop-color="#44bf70"/><stop offset="0.869" stop-color="#50c46a"/><stop offset="0.887" stop-color="#58c765"/><stop offset="0.896" stop-color="#5cc863"/><stop offset="0.924" stop-color="#65cb5e"/><stop offset="0.951" stop-color="#6ccd5a"/><stop offset="0.955" stop-color="#6ccd5a"/><stop offset="1" stop-color="#6ece58"/></linearGradient>
<linearGradient id="gi4" x1="0" y1="0" x2="0" y2="1"><stop offset="0" stop-color="#c8e020"/><stop offset="0.068" stop-color="#c0df25"/><stop offset="0.136" stop-color="#b8de29"/><stop offset="0.205" stop-color="#b0dd2f"/><stop offset="0.273" stop-color="#a5db36"/><stop offset="0.341" stop-color="#98d83e"/><stop offset="0.409" stop-color="#86d549"/><stop offset="0.477" stop-color="#73d056"/><stop offset="0.487" stop-color="#70cf57"/><stop offset="0.514" stop-color="#67cc5c"/><stop offset="0.542" stop-color="#5cc863"/><stop offset="0.546" stop-color="#5ac864"/><stop offset="0.569" stop-color="#50c46a"/><stop offset="0.596" stop-color="#44bf70"/><stop offset="0.614" stop-color="#38b977"/><stop offset="0.623" stop-color="#34b679"/><stop offset="0.637" stop-color="#2db27d"/><stop offset="0.651" stop-color="#27ad81"/><stop offset="0.664" stop-color="#21a685"/><stop offset="0.678" stop-color="#1f9f88"/><stop offset="0.682" stop-color="#1e9c89"/><stop offset="0.692" stop-color="#1f978b"/><stop offset="0.698" stop-color="#20928c"/><stop offset="0.705" stop-color="#218f8d"/><stop offset="0.712" stop-color="#20928c"/><stop offset="0.719" stop-color="#1f968b"/><stop offset="0.733" stop-color="#1e9d89"/><stop offset="0.746" stop-color="#20a486"/><stop offset="0.75" stop-color="#22a785"/><stop offset="0.76" stop-color="#25ac82"/><stop offset="0.774" stop-color="#29af7f"/><stop offset="0.787" stop-color="#2fb47c"/><stop offset="0.814" stop-color="#3dbc74"/><stop offset="0.819" stop-color="#3fbc73"/><stop offset="0.842" stop-color="#48c16e"/><stop offset="0.869" stop-color="#52c569"/><stop offset="0.887" stop-color="#58c765"/><stop offset="0.896" stop-color="#5ac864"/><stop offset="0.924" stop-color="#63cb5f"/><stop offset="0.955" stop-color="#69cd5b"/><stop offset="1" stop-color="#6ccd5a"/></linearGradient>
<linearGradient id="gi5" x1="0" y1="0" x2="0" y2="1"><stop offset="0" stop-color="#b2dd2d"/><stop offset="0.068" stop-color="#aadc32"/><stop offset="0.136" stop-color="#a2da37"/><stop offset="0.205" stop-color="#9bd93c"/><stop offset="0.273" stop-color="#90d743"/><stop offset="0.341" stop-color="#84d44b"/><stop offset="0.409" stop-color="#73d056"/><stop offset="0.461" stop-color="#65cb5e"/><stop offset="0.477" stop-color="#5ec962"/><stop offset="0.488" stop-color="#5cc863"/><stop offset="0.516" stop-color="#52c569"/><stop offset="0.543" stop-color="#46c06f"/><stop offset="0.546" stop-color="#46c06f"/><stop offset="0.57" stop-color="#3bbb75"/><stop offset="0.598" stop-color="#2db27d"/><stop offset="0.611" stop-color="#27ad81"/><stop offset="0.614" stop-color="#26ad81"/><stop offset="0.625" stop-color="#23a983"/><stop offset="0.638" stop-color="#1fa187"/><stop offset="0.652" stop-color="#1f998a"/><stop offset="0.666" stop-color="#21918c"/><stop offset="0.673" stop-color="#228d8d"/><stop offset="0.679" stop-color="#23888e"/><stop offset="0.682" stop-color="#238a8d"/><stop offset="0.686" stop-color="#228c8d"/><stop offset="0.693" stop-color="#21918c"/><stop offset="0.707" stop-color="#1f988b"/><stop offset="0.72" stop-color="#1fa188"/><stop offset="0.734" stop-color="#22a785"/><stop offset="0.748" stop-color="#25ac82"/><stop offset="0.75" stop-color="#26ad81"/><stop offset="0.761" stop-color="#2ab07f"/><stop offset="0.789" stop-color="#38b977"/><stop offset="0.816" stop-color="#40bd72"/><stop offset="0.819" stop-color="#42be71"/><stop offset="0.843" stop-color="#4cc26c"/><stop offset="0.87" stop-color="#54c568"/><stop offset="0.887" stop-color="#58c765"/><stop offset="0.898" stop-color="#5cc863"/><stop offset="0.955" stop-color="#67cc5c"/><stop offset="1" stop-color="#6ccd5a"/></linearGradient>
<linearGradient id="gi6" x1="0" y1="0" x2="0" y2="1"><stop offset="0" stop-color="#a0da39"/><stop offset="0.068" stop-color="#9bd93c"/><stop offset="0.136" stop-color="#93d741"/><stop offset="0.205" stop-color="#8bd646"/><stop offset="0.273" stop-color="#81d34d"/><stop offset="0.341" stop-color="#75d054"/><stop offset="0.409" stop-color="#63cb5f"/><stop offset="0.437" stop-color="#5cc863"/><stop offset="0.464" stop-color="#54c568"/><stop offset="0.477" stop-color="#50c46a"/><stop offset="0.491" stop-color="#4cc26c"/><stop offset="0.518" stop-color="#40bd72"/><stop offset="0.546" stop-color="#35b779"/><stop offset="0.573" stop-color="#28ae80"/><stop offset="0.587" stop-color="#23a983"/><stop offset="0.6" stop-color="#20a486"/><stop offset="0.614" stop-color="#1e9d89"/><stop offset="0.628" stop-color="#1f948c"/><stop offset="0.641" stop-color="#228b8d"/><stop offset="0.648" stop-color="#24878e"/><stop offset="0.655" stop-color="#25838e"/><stop offset="0.662" stop-color="#24878e"/><stop offset="0.668" stop-color="#228c8d"/><stop offset="0.682" stop-color="#1f948c"/><stop offset="0.696" stop-color="#1e9d89"/><stop offset="0.709" stop-color="#20a386"/><stop offset="0.723" stop-color="#23a983"/><stop offset="0.737" stop-color="#27ad81"/><stop offset="0.75" stop-color="#2db27d"/><stop offset="0.764" stop-color="#34b679"/><stop offset="0.791" stop-color="#3dbc74"/><stop offset="0.819" stop-color="#46c06f"/><stop offset="0.846" stop-color="#4ec36b"/><stop offset="0.873" stop-color="#58c765"/><stop offset="0.887" stop-color="#5ac864"/><stop offset="0.955" stop-color="#69cd5b"/><stop offset="1" stop-color="#69cd5b"/></linearGradient>
<linearGradient id="gi7" x1="0" y1="0" x2="0" y2="1"><stop offset="0" stop-color="#93d741"/><stop offset="0.068" stop-color="#8ed645"/><stop offset="0.136" stop-color="#89d548"/><stop offset="0.205" stop-color="#81d34d"/><stop offset="0.273" stop-color="#75d054"/><stop offset="0.341" stop-color="#67cc5c"/><stop offset="0.409" stop-color="#58c765"/><stop offset="0.412" stop-color="#56c667"/><stop offset="0.439" stop-color="#4ec36b"/><stop offset="0.467" stop-color="#46c06f"/><stop offset="0.477" stop-color="#42be71"/><stop offset="0.494" stop-color="#3bbb75"/><stop offset="0.521" stop-color="#31b57b"/><stop offset="0.546" stop-color="#26ad81"/><stop offset="0.548" stop-color="#25ac82"/><stop offset="0.562" stop-color="#21a685"/><stop offset="0.576" stop-color="#1fa188"/><stop offset="0.589" stop-color="#1f9a8a"/><stop offset="0.603" stop-color="#21918c"/><stop offset="0.614" stop-color="#23898e"/><stop offset="0.617" stop-color="#24878e"/><stop offset="0.623" stop-color="#26828e"/><stop offset="0.63" stop-color="#277e8e"/><stop offset="0.637" stop-color="#26828e"/><stop offset="0.644" stop-color="#24878e"/><stop offset="0.658" stop-color="#21918c"/><stop offset="0.671" stop-color="#1f998a"/><stop offset="0.682" stop-color="#1fa088"/><stop offset="0.685" stop-color="#1fa188"/><stop offset="0.698" stop-color="#21a685"/><stop offset="0.712" stop-color="#25ab82"/><stop offset="0.739" stop-color="#2fb47c"/><stop offset="0.75" stop-color="#34b679"/><stop offset="0.767" stop-color="#3aba76"/><stop offset="0.794" stop-color="#42be71"/><stop offset="0.819" stop-color="#4ac16d"/><stop offset="0.821" stop-color="#4cc26c"/><stop offset="0.849" stop-color="#54c568"/><stop offset="0.887" stop-color="#5cc863"/><stop offset="0.955" stop-color="#6ccd5a"/><stop offset="1" stop-color="#69cd5b"/></linearGradient>
<linearGradient id="gi8" x1="0" y1="0" x2="0" y2="1"><stop offset="0" stop-color="#8bd646"/><stop offset="0.068" stop-color="#86d549"/><stop offset="0.136" stop-color="#7fd34e"/><stop offset="0.205" stop-color="#77d153"/><stop offset="0.273" stop-color="#6ccd5a"/><stop offset="0.341" stop-color="#5ec962"/><stop offset="0.389" stop-color="#52c569"/><stop offset="0.409" stop-color="#4cc26c"/><stop offset="0.416" stop-color="#4ac16d"/><stop offset="0.443" stop-color="#42be71"/><stop offset="0.471" stop-color="#38b977"/><stop offset="0.477" stop-color="#35b779"/><stop offset="0.498" stop-color="#2eb37c"/><stop offset="0.525" stop-color="#24aa83"/><stop offset="0.539" stop-color="#20a486"/><stop offset="0.546" stop-color="#1fa187"/><stop offset="0.553" stop-color="#1f9f88"/><stop offset="0.566" stop-color="#1f978b"/><stop offset="0.58" stop-color="#228d8d"/><stop offset="0.593" stop-color="#25838e"/><stop offset="0.6" stop-color="#277f8e"/><stop offset="0.607" stop-color="#29798e"/><stop offset="0.614" stop-color="#277e8e"/><stop offset="0.621" stop-color="#25838e"/><stop offset="0.634" stop-color="#228d8d"/><stop offset="0.648" stop-color="#1f968b"/><stop offset="0.662" stop-color="#1f9e89"/><stop offset="0.675" stop-color="#20a386"/><stop offset="0.682" stop-color="#21a685"/><stop offset="0.689" stop-color="#23a983"/><stop offset="0.716" stop-color="#2db27d"/><stop offset="0.744" stop-color="#37b878"/><stop offset="0.75" stop-color="#3aba76"/><stop offset="0.771" stop-color="#40bd72"/><stop offset="0.798" stop-color="#48c16e"/><stop offset="0.819" stop-color="#50c46a"/><stop offset="0.825" stop-color="#50c46a"/><stop offset="0.887" stop-color="#60ca60"/><stop offset="0.955" stop-color="#6ccd5a"/><stop offset="1" stop-color="#6ccd5a"/></linearGradient>
<linearGradient id="gi9" x1="0" y1="0" x2="0" y2="1"><stop offset="0" stop-color="#84d44b"/><stop offset="0.068" stop-color="#7fd34e"/><stop offset="0.136" stop-color="#77d153"/><stop offset="0.205" stop-color="#70cf57"/><stop offset="0.273" stop-color="#65cb5e"/><stop offset="0.341" stop-color="#56c667"/><stop offset="0.367" stop-color="#50c46a"/><stop offset="0.394" stop-color="#48c16e"/><stop offset="0.409" stop-color="#42be71"/><stop offset="0.422" stop-color="#3fbc73"/><stop offset="0.449" stop-color="#35b779"/><stop offset="0.476" stop-color="#2cb17e"/><stop offset="0.477" stop-color="#2cb17e"/><stop offset="0.503" stop-color="#22a884"/><stop offset="0.517" stop-color="#1fa287"/><stop offset="0.531" stop-color="#1e9c89"/><stop offset="0.544" stop-color="#1f948c"/><stop offset="0.546" stop-color="#20938c"/><stop offset="0.558" stop-color="#238a8d"/><stop offset="0.572" stop-color="#27808e"/><stop offset="0.578" stop-color="#297b8e"/><stop offset="0.585" stop-color="#2b758e"/><stop offset="0.592" stop-color="#297a8e"/><stop offset="0.599" stop-color="#27808e"/><stop offset="0.613" stop-color="#238a8d"/><stop offset="0.614" stop-color="#228b8d"/><stop offset="0.626" stop-color="#1f948c"/><stop offset="0.64" stop-color="#1e9c89"/><stop offset="0.653" stop-color="#1fa187"/><stop offset="0.667" stop-color="#22a884"/><stop offset="0.682" stop-color="#27ad81"/><stop offset="0.694" stop-color="#2cb17e"/><stop offset="0.722" stop-color="#35b779"/><stop offset="0.749" stop-color="#3fbc73"/><stop offset="0.75" stop-color="#3fbc73"/><stop offset="0.776" stop-color="#48c16e"/><stop offset="0.804" stop-color="#50c46a"/><stop offset="0.819" stop-color="#52c569"/><stop offset="0.887" stop-color="#65cb5e"/><stop offset="0.955" stop-color="#6ece58"/><stop offset="1" stop-color="#6ccd5a"/></linearGradient>
<linearGradient id="gi10" x1="0" y1="0" x2="0" y2="1"><stop offset="0" stop-color="#7fd34e"/><stop offset="0.068" stop-color="#7ad151"/><stop offset="0.136" stop-color="#73d056"/><stop offset="0.205" stop-color="#6ccd5a"/><stop offset="0.273" stop-color="#5ec962"/><stop offset="0.341" stop-color="#4ec36b"/><stop offset="0.347" stop-color="#4cc26c"/><stop offset="0.374" stop-color="#46c06f"/><stop offset="0.401" stop-color="#3dbc74"/><stop offset="0.409" stop-color="#3aba76"/><stop offset="0.428" stop-color="#34b679"/><stop offset="0.456" stop-color="#29af7f"/><stop offset="0.477" stop-color="#23a983"/><stop offset="0.483" stop-color="#21a685"/><stop offset="0.497" stop-color="#1fa188"/><stop offset="0.51" stop-color="#1f9a8a"/><stop offset="0.524" stop-color="#20928c"/><stop offset="0.538" stop-color="#24878e"/><stop offset="0.546" stop-color="#26818e"/><stop offset="0.551" stop-color="#287c8e"/><stop offset="0.558" stop-color="#2a778e"/><stop offset="0.565" stop-color="#2c718e"/><stop offset="0.572" stop-color="#2a778e"/><stop offset="0.578" stop-color="#287d8e"/><stop offset="0.592" stop-color="#23888e"/><stop offset="0.606" stop-color="#20928c"/><stop offset="0.614" stop-color="#1f978b"/><stop offset="0.619" stop-color="#1f9a8a"/><stop offset="0.633" stop-color="#1fa188"/><stop offset="0.647" stop-color="#22a785"/><stop offset="0.674" stop-color="#2ab07f"/><stop offset="0.682" stop-color="#2db27d"/><stop offset="0.701" stop-color="#35b779"/><stop offset="0.729" stop-color="#3dbc74"/><stop offset="0.75" stop-color="#44bf70"/><stop offset="0.756" stop-color="#46c06f"/><stop offset="0.783" stop-color="#4ec36b"/><stop offset="0.819" stop-color="#58c765"/><stop offset="0.887" stop-color="#67cc5c"/><stop offset="0.955" stop-color="#70cf57"/><stop offset="1" stop-color="#6ece58"/></linearGradient>
<linearGradient id="gi11" x1="0" y1="0" x2="0" y2="1"><stop offset="0" stop-color="#7ad151"/><stop offset="0.068" stop-color="#75d054"/><stop offset="0.136" stop-color="#6ece58"/><stop offset="0.205" stop-color="#65cb5e"/><stop offset="0.273" stop-color="#5ac864"/><stop offset="0.326" stop-color="#4cc26c"/><stop offset="0.341" stop-color="#48c16e"/><stop offset="0.353" stop-color="#44bf70"/><stop offset="0.381" stop-color="#3bbb75"/><stop offset="0.408" stop-color="#34b679"/><stop offset="0.409" stop-color="#32b67a"/><stop offset="0.435" stop-color="#29af7f"/><stop offset="0.462" stop-color="#21a685"/><stop offset="0.476" stop-color="#1fa088"/><stop offset="0.477" stop-color="#1f9f88"/><stop offset="0.49" stop-color="#1f988b"/><stop offset="0.503" stop-color="#20928c"/><stop offset="0.517" stop-color="#24868e"/><stop offset="0.531" stop-color="#297a8e"/><stop offset="0.538" stop-color="#2b748e"/><stop offset="0.544" stop-color="#2e6f8e"/><stop offset="0.546" stop-color="#2e6f8e"/><stop offset="0.551" stop-color="#2c738e"/><stop offset="0.558" stop-color="#29798e"/><stop offset="0.572" stop-color="#25858e"/><stop offset="0.585" stop-color="#21918c"/><stop offset="0.599" stop-color="#1f988b"/><stop offset="0.613" stop-color="#1f9f88"/><stop offset="0.614" stop-color="#1fa088"/><stop offset="0.626" stop-color="#21a685"/><stop offset="0.653" stop-color="#29af7f"/><stop offset="0.681" stop-color="#34b679"/><stop offset="0.682" stop-color="#34b679"/><stop offset="0.708" stop-color="#3dbc74"/><stop offset="0.735" stop-color="#46c06f"/><stop offset="0.75" stop-color="#4ac16d"/><stop offset="0.763" stop-color="#4ec36b"/><stop offset="0.819" stop-color="#5ec962"/><stop offset="0.887" stop-color="#6ccd5a"/><stop offset="0.955" stop-color="#70cf57"/><stop offset="1" stop-color="#6ece58"/></linearGradient>
<linearGradient id="gi12" x1="0" y1="0" x2="0" y2="1"><stop offset="0" stop-color="#75d054"/><stop offset="0.068" stop-color="#73d056"/><stop offset="0.136" stop-color="#69cd5b"/><stop offset="0.205" stop-color="#60ca60"/><stop offset="0.273" stop-color="#54c568"/><stop offset="0.308" stop-color="#4ac16d"/><stop offset="0.336" stop-color="#42be71"/><stop offset="0.341" stop-color="#40bd72"/><stop offset="0.363" stop-color="#3aba76"/><stop offset="0.39" stop-color="#32b67a"/><stop offset="0.409" stop-color="#2ab07f"/><stop offset="0.417" stop-color="#27ad81"/><stop offset="0.445" stop-color="#21a585"/><stop offset="0.458" stop-color="#1f9e89"/><stop offset="0.472" stop-color="#1f968b"/><stop offset="0.477" stop-color="#20938c"/><stop offset="0.486" stop-color="#21908d"/><stop offset="0.499" stop-color="#26828e"/><stop offset="0.513" stop-color="#2a768e"/><stop offset="0.52" stop-color="#2d718e"/><stop offset="0.527" stop-color="#2f6b8e"/><stop offset="0.533" stop-color="#2c718e"/><stop offset="0.54" stop-color="#2a778e"/><stop offset="0.546" stop-color="#287d8e"/><stop offset="0.554" stop-color="#25848e"/><stop offset="0.568" stop-color="#21908d"/><stop offset="0.581" stop-color="#1f978b"/><stop offset="0.595" stop-color="#1f9f88"/><stop offset="0.608" stop-color="#21a585"/><stop offset="0.614" stop-color="#22a884"/><stop offset="0.636" stop-color="#28ae80"/><stop offset="0.663" stop-color="#34b679"/><stop offset="0.682" stop-color="#3aba76"/><stop offset="0.69" stop-color="#3bbb75"/><stop offset="0.718" stop-color="#46c06f"/><stop offset="0.745" stop-color="#4ec36b"/><stop offset="0.75" stop-color="#50c46a"/><stop offset="0.819" stop-color="#60ca60"/><stop offset="0.887" stop-color="#6ece58"/><stop offset="0.955" stop-color="#73d056"/><stop offset="1" stop-color="#70cf57"/></linearGradient>
<linearGradient id="gi13" x1="0" y1="0" x2="0" y2="1"><stop offset="0" stop-color="#73d056"/><stop offset="0.068" stop-color="#6ece58"/><stop offset="0.136" stop-color="#67cc5c"/><stop offset="0.205" stop-color="#5ec962"/><stop offset="0.273" stop-color="#4ec36b"/><stop offset="0.291" stop-color="#4ac16d"/><stop offset="0.318" stop-color="#42be71"/><stop offset="0.341" stop-color="#3bbb75"/><stop offset="0.345" stop-color="#3aba76"/><stop offset="0.372" stop-color="#31b57b"/><stop offset="0.4" stop-color="#27ad81"/><stop offset="0.409" stop-color="#25ab82"/><stop offset="0.427" stop-color="#20a486"/><stop offset="0.441" stop-color="#1e9d89"/><stop offset="0.454" stop-color="#1f958b"/><stop offset="0.468" stop-color="#218e8d"/><stop offset="0.477" stop-color="#25858e"/><stop offset="0.482" stop-color="#26818e"/><stop offset="0.495" stop-color="#2c738e"/><stop offset="0.502" stop-color="#2e6e8e"/><stop offset="0.509" stop-color="#31688e"/><stop offset="0.516" stop-color="#2e6f8e"/><stop offset="0.523" stop-color="#2b758e"/><stop offset="0.536" stop-color="#26828e"/><stop offset="0.546" stop-color="#228b8d"/><stop offset="0.55" stop-color="#218f8d"/><stop offset="0.563" stop-color="#1f968b"/><stop offset="0.577" stop-color="#1f9e89"/><stop offset="0.591" stop-color="#21a585"/><stop offset="0.614" stop-color="#26ad81"/><stop offset="0.618" stop-color="#28ae80"/><stop offset="0.645" stop-color="#32b67a"/><stop offset="0.673" stop-color="#3bbb75"/><stop offset="0.682" stop-color="#3fbc73"/><stop offset="0.7" stop-color="#44bf70"/><stop offset="0.727" stop-color="#4ec36b"/><stop offset="0.75" stop-color="#56c667"/><stop offset="0.819" stop-color="#65cb5e"/><stop offset="0.887" stop-color="#70cf57"/><stop offset="0.955" stop-color="#75d054"/><stop offset="1" stop-color="#70cf57"/></linearGradient>
<linearGradient id="gi14" x1="0" y1="0" x2="0" y2="1"><stop offset="0" stop-color="#70cf57"/><stop offset="0.068" stop-color="#6ccd5a"/><stop offset="0.136" stop-color="#65cb5e"/><stop offset="0.205" stop-color="#5ac864"/><stop offset="0.273" stop-color="#4ac16d"/><stop offset="0.3" stop-color="#42be71"/><stop offset="0.327" stop-color="#3aba76"/><stop offset="0.341" stop-color="#35b779"/><stop offset="0.355" stop-color="#31b57b"/><stop offset="0.382" stop-color="#27ad81"/><stop offset="0.409" stop-color="#20a486"/><stop offset="0.423" stop-color="#1e9d89"/><stop offset="0.437" stop-color="#1f948c"/><stop offset="0.45" stop-color="#228d8d"/><stop offset="0.464" stop-color="#26818e"/><stop offset="0.477" stop-color="#2c728e"/><stop offset="0.484" stop-color="#2f6c8e"/><stop offset="0.491" stop-color="#32648e"/><stop offset="0.498" stop-color="#306a8e"/><stop offset="0.505" stop-color="#2c718e"/><stop offset="0.518" stop-color="#27808e"/><stop offset="0.532" stop-color="#228c8d"/><stop offset="0.546" stop-color="#1f948c"/><stop offset="0.559" stop-color="#1e9d89"/><stop offset="0.573" stop-color="#20a486"/><stop offset="0.6" stop-color="#27ad81"/><stop offset="0.614" stop-color="#2db27d"/><stop offset="0.628" stop-color="#31b57b"/><stop offset="0.655" stop-color="#3bbb75"/><stop offset="0.682" stop-color="#44bf70"/><stop offset="0.709" stop-color="#4ec36b"/><stop offset="0.75" stop-color="#5ac864"/><stop offset="0.819" stop-color="#69cd5b"/><stop offset="0.887" stop-color="#73d056"/><stop offset="0.955" stop-color="#75d054"/><stop offset="1" stop-color="#73d056"/></linearGradient>
<linearGradient id="gi15" x1="0" y1="0" x2="0" y2="1"><stop offset="0" stop-color="#70cf57"/><stop offset="0.068" stop-color="#69cd5b"/><stop offset="0.136" stop-color="#63cb5f"/><stop offset="0.205" stop-color="#56c667"/><stop offset="0.258" stop-color="#4ac16d"/><stop offset="0.273" stop-color="#44bf70"/><stop offset="0.285" stop-color="#40bd72"/><stop offset="0.312" stop-color="#3aba76"/><stop offset="0.34" stop-color="#2fb47c"/><stop offset="0.341" stop-color="#2fb47c"/><stop offset="0.367" stop-color="#26ad81"/><stop offset="0.394" stop-color="#20a386"/><stop offset="0.408" stop-color="#1e9c89"/><stop offset="0.409" stop-color="#1e9b8a"/><stop offset="0.422" stop-color="#20938c"/><stop offset="0.435" stop-color="#228b8d"/><stop offset="0.449" stop-color="#277e8e"/><stop offset="0.462" stop-color="#2d708e"/><stop offset="0.469" stop-color="#31688e"/><stop offset="0.476" stop-color="#34618d"/><stop offset="0.477" stop-color="#33628d"/><stop offset="0.483" stop-color="#31688e"/><stop offset="0.49" stop-color="#2d708e"/><stop offset="0.503" stop-color="#277f8e"/><stop offset="0.517" stop-color="#228b8d"/><stop offset="0.531" stop-color="#20938c"/><stop offset="0.544" stop-color="#1e9c89"/><stop offset="0.546" stop-color="#1e9d89"/><stop offset="0.558" stop-color="#20a486"/><stop offset="0.585" stop-color="#27ad81"/><stop offset="0.613" stop-color="#31b57b"/><stop offset="0.614" stop-color="#31b57b"/><stop offset="0.64" stop-color="#3bbb75"/><stop offset="0.667" stop-color="#44bf70"/><stop offset="0.682" stop-color="#4ac16d"/><stop offset="0.694" stop-color="#4ec36b"/><stop offset="0.75" stop-color="#5ec962"/><stop offset="0.819" stop-color="#6ccd5a"/><stop offset="0.887" stop-color="#75d054"/><stop offset="0.955" stop-color="#77d153"/><stop offset="1" stop-color="#73d056"/></linearGradient>
<linearGradient id="gi16" x1="0" y1="0" x2="0" y2="1"><stop offset="0" stop-color="#6ece58"/><stop offset="0.068" stop-color="#67cc5c"/><stop offset="0.136" stop-color="#60ca60"/><stop offset="0.205" stop-color="#54c568"/><stop offset="0.243" stop-color="#4ac16d"/><stop offset="0.27" stop-color="#40bd72"/><stop offset="0.273" stop-color="#40bd72"/><stop offset="0.297" stop-color="#38b977"/><stop offset="0.325" stop-color="#2fb47c"/><stop offset="0.341" stop-color="#2ab07f"/><stop offset="0.352" stop-color="#26ad81"/><stop offset="0.379" stop-color="#1fa287"/><stop offset="0.393" stop-color="#1e9c89"/><stop offset="0.407" stop-color="#20928c"/><stop offset="0.409" stop-color="#21918c"/><stop offset="0.42" stop-color="#238a8d"/><stop offset="0.434" stop-color="#287d8e"/><stop offset="0.447" stop-color="#2e6e8e"/><stop offset="0.454" stop-color="#31668e"/><stop offset="0.461" stop-color="#365d8d"/><stop offset="0.468" stop-color="#32658e"/><stop offset="0.475" stop-color="#2e6d8e"/><stop offset="0.477" stop-color="#2d718e"/><stop offset="0.488" stop-color="#287d8e"/><stop offset="0.502" stop-color="#238a8d"/><stop offset="0.516" stop-color="#20928c"/><stop offset="0.529" stop-color="#1e9c89"/><stop offset="0.543" stop-color="#20a386"/><stop offset="0.546" stop-color="#20a486"/><stop offset="0.57" stop-color="#27ad81"/><stop offset="0.598" stop-color="#31b57b"/><stop offset="0.614" stop-color="#37b878"/><stop offset="0.625" stop-color="#3bbb75"/><stop offset="0.652" stop-color="#44bf70"/><stop offset="0.679" stop-color="#4ec36b"/><stop offset="0.682" stop-color="#50c46a"/><stop offset="0.75" stop-color="#63cb5f"/><stop offset="0.819" stop-color="#70cf57"/><stop offset="0.887" stop-color="#77d153"/><stop offset="0.955" stop-color="#7ad151"/><stop offset="1" stop-color="#73d056"/></linearGradient>
<linearGradient id="gi17" x1="0" y1="0" x2="0" y2="1"><stop offset="0" stop-color="#6ccd5a"/><stop offset="0.068" stop-color="#67cc5c"/><stop offset="0.136" stop-color="#5ec962"/><stop offset="0.205" stop-color="#50c46a"/><stop offset="0.229" stop-color="#4ac16d"/><stop offset="0.256" stop-color="#40bd72"/><stop offset="0.273" stop-color="#3bbb75"/><stop offset="0.284" stop-color="#38b977"/><stop offset="0.311" stop-color="#2fb47c"/><stop offset="0.338" stop-color="#26ad81"/><stop offset="0.341" stop-color="#25ac82"/><stop offset="0.366" stop-color="#1fa287"/><stop offset="0.379" stop-color="#1e9b8a"/><stop offset="0.393" stop-color="#20928c"/><stop offset="0.407" stop-color="#23898e"/><stop offset="0.409" stop-color="#24878e"/><stop offset="0.42" stop-color="#287c8e"/><stop offset="0.434" stop-color="#2f6b8e"/><stop offset="0.441" stop-color="#33638d"/><stop offset="0.447" stop-color="#375a8c"/><stop offset="0.454" stop-color="#33638d"/><stop offset="0.461" stop-color="#2f6b8e"/><stop offset="0.475" stop-color="#287c8e"/><stop offset="0.477" stop-color="#277f8e"/><stop offset="0.488" stop-color="#23898e"/><stop offset="0.502" stop-color="#20928c"/><stop offset="0.516" stop-color="#1e9c89"/><stop offset="0.529" stop-color="#1fa287"/><stop offset="0.546" stop-color="#23a983"/><stop offset="0.557" stop-color="#27ad81"/><stop offset="0.584" stop-color="#31b57b"/><stop offset="0.611" stop-color="#3bbb75"/><stop offset="0.614" stop-color="#3bbb75"/><stop offset="0.638" stop-color="#44bf70"/><stop offset="0.666" stop-color="#50c46a"/><stop offset="0.682" stop-color="#54c568"/><stop offset="0.75" stop-color="#67cc5c"/><stop offset="0.819" stop-color="#73d056"/><stop offset="0.887" stop-color="#7ad151"/><stop offset="0.955" stop-color="#7ad151"/><stop offset="1" stop-color="#73d056"/></linearGradient>
<linearGradient id="gi18" x1="0" y1="0" x2="0" y2="1"><stop offset="0" stop-color="#6ccd5a"/><stop offset="0.068" stop-color="#65cb5e"/><stop offset="0.136" stop-color="#5cc863"/><stop offset="0.205" stop-color="#4ec36b"/><stop offset="0.217" stop-color="#4ac16d"/><stop offset="0.244" stop-color="#40bd72"/><stop offset="0.271" stop-color="#38b977"/><stop offset="0.273" stop-color="#38b977"/><stop offset="0.299" stop-color="#2eb37c"/><stop offset="0.326" stop-color="#26ad81"/><stop offset="0.341" stop-color="#21a685"/><stop offset="0.353" stop-color="#1fa187"/><stop offset="0.367" stop-color="#1e9b8a"/><stop offset="0.381" stop-color="#21918c"/><stop offset="0.394" stop-color="#24878e"/><stop offset="0.408" stop-color="#297a8e"/><stop offset="0.409" stop-color="#2a788e"/><stop offset="0.422" stop-color="#30698e"/><stop offset="0.428" stop-color="#34608d"/><stop offset="0.435" stop-color="#38588c"/><stop offset="0.442" stop-color="#34618d"/><stop offset="0.449" stop-color="#306a8e"/><stop offset="0.462" stop-color="#297b8e"/><stop offset="0.476" stop-color="#23888e"/><stop offset="0.477" stop-color="#23898e"/><stop offset="0.49" stop-color="#20928c"/><stop offset="0.503" stop-color="#1e9c89"/><stop offset="0.517" stop-color="#1fa287"/><stop offset="0.544" stop-color="#27ad81"/><stop offset="0.546" stop-color="#27ad81"/><stop offset="0.572" stop-color="#31b57b"/><stop offset="0.599" stop-color="#3bbb75"/><stop offset="0.614" stop-color="#40bd72"/><stop offset="0.626" stop-color="#44bf70"/><stop offset="0.653" stop-color="#50c46a"/><stop offset="0.682" stop-color="#58c765"/><stop offset="0.75" stop-color="#69cd5b"/><stop offset="0.819" stop-color="#75d054"/><stop offset="0.887" stop-color="#7cd250"/><stop offset="0.955" stop-color="#7ad151"/><stop offset="1" stop-color="#73d056"/></linearGradient>
<linearGradient id="gi19" x1="0" y1="0" x2="0" y2="1"><stop offset="0" stop-color="#69cd5b"/><stop offset="0.068" stop-color="#63cb5f"/><stop offset="0.136" stop-color="#5ac864"/><stop offset="0.205" stop-color="#4ac16d"/><stop offset="0.232" stop-color="#40bd72"/><stop offset="0.259" stop-color="#38b977"/><stop offset="0.273" stop-color="#34b679"/><stop offset="0.286" stop-color="#2fb47c"/><stop offset="0.314" stop-color="#26ad81"/><stop offset="0.341" stop-color="#1fa187"/><stop offset="0.355" stop-color="#1e9b8a"/><stop offset="0.368" stop-color="#21918c"/><stop offset="0.382" stop-color="#24868e"/><stop offset="0.396" stop-color="#29798e"/><stop offset="0.409" stop-color="#31678e"/><stop offset="0.416" stop-color="#355e8d"/><stop offset="0.423" stop-color="#3a538b"/><stop offset="0.43" stop-color="#365d8d"/><stop offset="0.437" stop-color="#31678e"/><stop offset="0.45" stop-color="#29798e"/><stop offset="0.464" stop-color="#24868e"/><stop offset="0.477" stop-color="#21918c"/><stop offset="0.491" stop-color="#1e9b8a"/><stop offset="0.505" stop-color="#1fa187"/><stop offset="0.532" stop-color="#27ad81"/><stop offset="0.546" stop-color="#2cb17e"/><stop offset="0.559" stop-color="#31b57b"/><stop offset="0.587" stop-color="#3bbb75"/><stop offset="0.614" stop-color="#46c06f"/><stop offset="0.641" stop-color="#50c46a"/><stop offset="0.682" stop-color="#5cc863"/><stop offset="0.75" stop-color="#6ccd5a"/><stop offset="0.819" stop-color="#77d153"/><stop offset="0.887" stop-color="#7fd34e"/><stop offset="0.955" stop-color="#7ad151"/><stop offset="1" stop-color="#75d054"/></linearGradient>
<linearGradient id="gi20" x1="0" y1="0" x2="0" y2="1"><stop offset="0" stop-color="#69cd5b"/><stop offset="0.068" stop-color="#63cb5f"/><stop offset="0.136" stop-color="#58c765"/><stop offset="0.194" stop-color="#4ac16d"/><stop offset="0.205" stop-color="#48c16e"/><stop offset="0.221" stop-color="#42be71"/><stop offset="0.248" stop-color="#38b977"/><stop offset="0.273" stop-color="#2fb47c"/><stop offset="0.276" stop-color="#2fb47c"/><stop offset="0.303" stop-color="#25ac82"/><stop offset="0.33" stop-color="#1fa188"/><stop offset="0.341" stop-color="#1e9c89"/><stop offset="0.344" stop-color="#1e9b8a"/><stop offset="0.357" stop-color="#21918c"/><stop offset="0.371" stop-color="#25858e"/><stop offset="0.385" stop-color="#2a788e"/><stop offset="0.398" stop-color="#32658e"/><stop offset="0.405" stop-color="#375b8d"/><stop offset="0.409" stop-color="#3a548c"/><stop offset="0.412" stop-color="#3c508b"/><stop offset="0.419" stop-color="#375b8d"/><stop offset="0.426" stop-color="#32658e"/><stop offset="0.439" stop-color="#2a788e"/><stop offset="0.453" stop-color="#25858e"/><stop offset="0.467" stop-color="#21918c"/><stop offset="0.477" stop-color="#1f998a"/><stop offset="0.48" stop-color="#1e9b8a"/><stop offset="0.494" stop-color="#1fa187"/><stop offset="0.521" stop-color="#26ad81"/><stop offset="0.546" stop-color="#2fb47c"/><stop offset="0.548" stop-color="#31b57b"/><stop offset="0.576" stop-color="#3bbb75"/><stop offset="0.603" stop-color="#46c06f"/><stop offset="0.614" stop-color="#4ac16d"/><stop offset="0.63" stop-color="#50c46a"/><stop offset="0.682" stop-color="#60ca60"/><stop offset="0.75" stop-color="#70cf57"/><stop offset="0.819" stop-color="#7ad151"/><stop offset="0.887" stop-color="#7fd34e"/><stop offset="0.955" stop-color="#7cd250"/><stop offset="1" stop-color="#75d054"/></linearGradient>
<linearGradient id="gi21" x1="0" y1="0" x2="0" y2="1"><stop offset="0" stop-color="#67cc5c"/><stop offset="0.068" stop-color="#60ca60"/><stop offset="0.136" stop-color="#56c667"/><stop offset="0.184" stop-color="#4ac16d"/><stop offset="0.205" stop-color="#44bf70"/><stop offset="0.211" stop-color="#42be71"/><stop offset="0.239" stop-color="#38b977"/><stop offset="0.266" stop-color="#2fb47c"/><stop offset="0.273" stop-color="#2db27d"/><stop offset="0.293" stop-color="#25ac82"/><stop offset="0.321" stop-color="#1fa188"/><stop offset="0.334" stop-color="#1f9a8a"/><stop offset="0.341" stop-color="#1f958b"/><stop offset="0.348" stop-color="#21908d"/><stop offset="0.362" stop-color="#25848e"/><stop offset="0.375" stop-color="#2a768e"/><stop offset="0.389" stop-color="#33628d"/><stop offset="0.396" stop-color="#38588c"/><stop offset="0.402" stop-color="#3d4e8a"/><stop offset="0.409" stop-color="#38598c"/><stop offset="0.416" stop-color="#32648e"/><stop offset="0.43" stop-color="#2a778e"/><stop offset="0.443" stop-color="#25858e"/><stop offset="0.457" stop-color="#21918c"/><stop offset="0.471" stop-color="#1e9b8a"/><stop offset="0.477" stop-color="#1f9f88"/><stop offset="0.484" stop-color="#1fa187"/><stop offset="0.512" stop-color="#26ad81"/><stop offset="0.539" stop-color="#31b57b"/><stop offset="0.546" stop-color="#34b679"/><stop offset="0.566" stop-color="#3bbb75"/><stop offset="0.593" stop-color="#46c06f"/><stop offset="0.614" stop-color="#4ec36b"/><stop offset="0.621" stop-color="#50c46a"/><stop offset="0.682" stop-color="#63cb5f"/><stop offset="0.75" stop-color="#73d056"/><stop offset="0.819" stop-color="#7cd250"/><stop offset="0.887" stop-color="#81d34d"/><stop offset="0.955" stop-color="#7cd250"/><stop offset="1" stop-color="#75d054"/></linearGradient>
<linearGradient id="gi22" x1="0" y1="0" x2="0" y2="1"><stop offset="0" stop-color="#67cc5c"/><stop offset="0.068" stop-color="#60ca60"/><stop offset="0.136" stop-color="#56c667"/><stop offset="0.175" stop-color="#4cc26c"/><stop offset="0.202" stop-color="#42be71"/><stop offset="0.205" stop-color="#42be71"/><stop offset="0.229" stop-color="#38b977"/><stop offset="0.256" stop-color="#2fb47c"/><stop offset="0.273" stop-color="#29af7f"/><stop offset="0.284" stop-color="#25ac82"/><stop offset="0.311" stop-color="#1fa188"/><stop offset="0.325" stop-color="#1f9a8a"/><stop offset="0.338" stop-color="#21908d"/><stop offset="0.341" stop-color="#228d8d"/><stop offset="0.352" stop-color="#25838e"/><stop offset="0.366" stop-color="#2a768e"/><stop offset="0.379" stop-color="#34618d"/><stop offset="0.386" stop-color="#39558c"/><stop offset="0.393" stop-color="#3e4989"/><stop offset="0.4" stop-color="#39558c"/><stop offset="0.407" stop-color="#34618d"/><stop offset="0.409" stop-color="#32658e"/><stop offset="0.42" stop-color="#2a768e"/><stop offset="0.434" stop-color="#25848e"/><stop offset="0.447" stop-color="#21908d"/><stop offset="0.461" stop-color="#1f9a8a"/><stop offset="0.475" stop-color="#1fa187"/><stop offset="0.477" stop-color="#1fa287"/><stop offset="0.502" stop-color="#26ad81"/><stop offset="0.529" stop-color="#31b57b"/><stop offset="0.546" stop-color="#37b878"/><stop offset="0.557" stop-color="#3bbb75"/><stop offset="0.584" stop-color="#48c16e"/><stop offset="0.611" stop-color="#50c46a"/><stop offset="0.614" stop-color="#52c569"/><stop offset="0.682" stop-color="#65cb5e"/><stop offset="0.75" stop-color="#75d054"/><stop offset="0.819" stop-color="#7fd34e"/><stop offset="0.887" stop-color="#81d34d"/><stop offset="0.955" stop-color="#7cd250"/><stop offset="1" stop-color="#75d054"/></linearGradient>
<linearGradient id="gi23" x1="0" y1="0" x2="0" y2="1"><stop offset="0" stop-color="#67cc5c"/><stop offset="0.068" stop-color="#5ec962"/><stop offset="0.136" stop-color="#54c568"/><stop offset="0.166" stop-color="#4cc26c"/><stop offset="0.194" stop-color="#44bf70"/><stop offset="0.205" stop-color="#3fbc73"/><stop offset="0.221" stop-color="#38b977"/><stop offset="0.248" stop-color="#2fb47c"/><stop offset="0.273" stop-color="#26ad81"/><stop offset="0.276" stop-color="#25ac82"/><stop offset="0.303" stop-color="#1fa188"/><stop offset="0.317" stop-color="#1f998a"/><stop offset="0.33" stop-color="#218f8d"/><stop offset="0.341" stop-color="#25858e"/><stop offset="0.344" stop-color="#26828e"/><stop offset="0.357" stop-color="#2b758e"/><stop offset="0.371" stop-color="#355f8d"/><stop offset="0.378" stop-color="#3a538b"/><stop offset="0.385" stop-color="#3f4788"/><stop offset="0.392" stop-color="#3a538b"/><stop offset="0.398" stop-color="#355f8d"/><stop offset="0.409" stop-color="#2d718e"/><stop offset="0.412" stop-color="#2b758e"/><stop offset="0.426" stop-color="#25838e"/><stop offset="0.439" stop-color="#21908d"/><stop offset="0.453" stop-color="#1f9a8a"/><stop offset="0.467" stop-color="#1fa188"/><stop offset="0.477" stop-color="#21a685"/><stop offset="0.494" stop-color="#26ad81"/><stop offset="0.521" stop-color="#31b57b"/><stop offset="0.546" stop-color="#3aba76"/><stop offset="0.548" stop-color="#3bbb75"/><stop offset="0.576" stop-color="#48c16e"/><stop offset="0.603" stop-color="#52c569"/><stop offset="0.614" stop-color="#54c568"/><stop offset="0.682" stop-color="#67cc5c"/><stop offset="0.75" stop-color="#77d153"/><stop offset="0.819" stop-color="#7fd34e"/><stop offset="0.887" stop-color="#81d34d"/><stop offset="0.955" stop-color="#7fd34e"/><stop offset="1" stop-color="#75d054"/></linearGradient>
<linearGradient id="gi24" x1="0" y1="0" x2="0" y2="1"><stop offset="0" stop-color="#65cb5e"/><stop offset="0.068" stop-color="#5ec962"/><stop offset="0.136" stop-color="#52c569"/><stop offset="0.16" stop-color="#4cc26c"/><stop offset="0.187" stop-color="#44bf70"/><stop offset="0.205" stop-color="#3dbc74"/><stop offset="0.214" stop-color="#38b977"/><stop offset="0.241" stop-color="#2fb47c"/><stop offset="0.269" stop-color="#25ac82"/><stop offset="0.273" stop-color="#24aa83"/><stop offset="0.296" stop-color="#1fa088"/><stop offset="0.31" stop-color="#1f988b"/><stop offset="0.323" stop-color="#218e8d"/><stop offset="0.337" stop-color="#26828e"/><stop offset="0.341" stop-color="#277e8e"/><stop offset="0.351" stop-color="#2c738e"/><stop offset="0.364" stop-color="#365c8d"/><stop offset="0.371" stop-color="#3c4f8a"/><stop offset="0.378" stop-color="#404588"/><stop offset="0.385" stop-color="#3b528b"/><stop offset="0.392" stop-color="#355e8d"/><stop offset="0.405" stop-color="#2b758e"/><stop offset="0.409" stop-color="#297a8e"/><stop offset="0.419" stop-color="#26828e"/><stop offset="0.432" stop-color="#21908d"/><stop offset="0.446" stop-color="#1f9a8a"/><stop offset="0.46" stop-color="#1fa187"/><stop offset="0.477" stop-color="#24aa83"/><stop offset="0.487" stop-color="#26ad81"/><stop offset="0.514" stop-color="#31b57b"/><stop offset="0.542" stop-color="#3dbc74"/><stop offset="0.546" stop-color="#3fbc73"/><stop offset="0.569" stop-color="#48c16e"/><stop offset="0.596" stop-color="#52c569"/><stop offset="0.614" stop-color="#58c765"/><stop offset="0.682" stop-color="#69cd5b"/><stop offset="0.75" stop-color="#77d153"/><stop offset="0.819" stop-color="#81d34d"/><stop offset="0.887" stop-color="#84d44b"/><stop offset="0.955" stop-color="#7fd34e"/><stop offset="1" stop-color="#75d054"/></linearGradient>
<linearGradient id="gi25" x1="0" y1="0" x2="0" y2="1"><stop offset="0" stop-color="#65cb5e"/><stop offset="0.068" stop-color="#5cc863"/><stop offset="0.136" stop-color="#50c46a"/><stop offset="0.153" stop-color="#4cc26c"/><stop offset="0.18" stop-color="#44bf70"/><stop offset="0.205" stop-color="#3aba76"/><stop offset="0.207" stop-color="#3aba76"/><stop offset="0.235" stop-color="#2fb47c"/><stop offset="0.262" stop-color="#25ac82"/><stop offset="0.273" stop-color="#22a884"/><stop offset="0.289" stop-color="#1fa088"/><stop offset="0.303" stop-color="#1f988b"/><stop offset="0.317" stop-color="#218e8d"/><stop offset="0.33" stop-color="#26818e"/><stop offset="0.341" stop-color="#2a768e"/><stop offset="0.344" stop-color="#2c728e"/><stop offset="0.357" stop-color="#375b8d"/><stop offset="0.364" stop-color="#3d4e8a"/><stop offset="0.371" stop-color="#424186"/><stop offset="0.378" stop-color="#3c4f8a"/><stop offset="0.385" stop-color="#365c8d"/><stop offset="0.398" stop-color="#2b748e"/><stop offset="0.409" stop-color="#27808e"/><stop offset="0.412" stop-color="#26828e"/><stop offset="0.426" stop-color="#21908d"/><stop offset="0.439" stop-color="#1f998a"/><stop offset="0.453" stop-color="#1fa188"/><stop offset="0.477" stop-color="#25ac82"/><stop offset="0.48" stop-color="#26ad81"/><stop offset="0.508" stop-color="#31b57b"/><stop offset="0.535" stop-color="#3dbc74"/><stop offset="0.546" stop-color="#42be71"/><stop offset="0.562" stop-color="#48c16e"/><stop offset="0.589" stop-color="#52c569"/><stop offset="0.614" stop-color="#5ac864"/><stop offset="0.682" stop-color="#6ccd5a"/><stop offset="0.75" stop-color="#7ad151"/><stop offset="0.819" stop-color="#81d34d"/><stop offset="0.887" stop-color="#84d44b"/><stop offset="0.955" stop-color="#7fd34e"/><stop offset="1" stop-color="#75d054"/></linearGradient>
<linearGradient id="gi26" x1="0" y1="0" x2="0" y2="1"><stop offset="0" stop-color="#65cb5e"/><stop offset="0.068" stop-color="#5cc863"/><stop offset="0.136" stop-color="#50c46a"/><stop offset="0.147" stop-color="#4cc26c"/><stop offset="0.175" stop-color="#44bf70"/><stop offset="0.202" stop-color="#3aba76"/><stop offset="0.205" stop-color="#38b977"/><stop offset="0.229" stop-color="#2fb47c"/><stop offset="0.256" stop-color="#25ab82"/><stop offset="0.273" stop-color="#21a585"/><stop offset="0.284" stop-color="#1fa088"/><stop offset="0.297" stop-color="#1f988b"/><stop offset="0.311" stop-color="#218e8d"/><stop offset="0.325" stop-color="#27808e"/><stop offset="0.338" stop-color="#2c718e"/><stop offset="0.341" stop-color="#2e6d8e"/><stop offset="0.352" stop-color="#38598c"/><stop offset="0.359" stop-color="#3e4a89"/><stop offset="0.366" stop-color="#423f85"/><stop offset="0.372" stop-color="#3d4d8a"/><stop offset="0.379" stop-color="#375b8d"/><stop offset="0.393" stop-color="#2c738e"/><stop offset="0.407" stop-color="#26828e"/><stop offset="0.409" stop-color="#25848e"/><stop offset="0.42" stop-color="#21908d"/><stop offset="0.434" stop-color="#1f998a"/><stop offset="0.447" stop-color="#1fa188"/><stop offset="0.475" stop-color="#26ad81"/><stop offset="0.477" stop-color="#27ad81"/><stop offset="0.502" stop-color="#31b57b"/><stop offset="0.529" stop-color="#3dbc74"/><stop offset="0.546" stop-color="#46c06f"/><stop offset="0.557" stop-color="#4ac16d"/><stop offset="0.584" stop-color="#52c569"/><stop offset="0.614" stop-color="#5cc863"/><stop offset="0.682" stop-color="#6ece58"/><stop offset="0.75" stop-color="#7cd250"/><stop offset="0.819" stop-color="#84d44b"/><stop offset="0.887" stop-color="#86d549"/><stop offset="0.955" stop-color="#7fd34e"/><stop offset="1" stop-color="#75d054"/></linearGradient>
<linearGradient id="gi27" x1="0" y1="0" x2="0" y2="1"><stop offset="0" stop-color="#65cb5e"/><stop offset="0.068" stop-color="#5cc863"/><stop offset="0.136" stop-color="#4ec36b"/><stop offset="0.142" stop-color="#4cc26c"/><stop offset="0.169" stop-color="#44bf70"/><stop offset="0.196" stop-color="#3aba76"/><stop offset="0.205" stop-color="#37b878"/><stop offset="0.224" stop-color="#2fb47c"/><stop offset="0.251" stop-color="#25ab82"/><stop offset="0.273" stop-color="#1fa287"/><stop offset="0.278" stop-color="#1fa088"/><stop offset="0.292" stop-color="#1f978b"/><stop offset="0.306" stop-color="#218e8d"/><stop offset="0.319" stop-color="#27808e"/><stop offset="0.333" stop-color="#2c718e"/><stop offset="0.341" stop-color="#33628d"/><stop offset="0.347" stop-color="#38588c"/><stop offset="0.353" stop-color="#3e4989"/><stop offset="0.36" stop-color="#443a83"/><stop offset="0.367" stop-color="#3e4989"/><stop offset="0.374" stop-color="#38598c"/><stop offset="0.387" stop-color="#2c728e"/><stop offset="0.401" stop-color="#26818e"/><stop offset="0.409" stop-color="#23898e"/><stop offset="0.415" stop-color="#218f8d"/><stop offset="0.428" stop-color="#1f988b"/><stop offset="0.442" stop-color="#1fa188"/><stop offset="0.469" stop-color="#26ad81"/><stop offset="0.477" stop-color="#29af7f"/><stop offset="0.497" stop-color="#31b57b"/><stop offset="0.524" stop-color="#3dbc74"/><stop offset="0.546" stop-color="#48c16e"/><stop offset="0.551" stop-color="#4ac16d"/><stop offset="0.578" stop-color="#52c569"/><stop offset="0.614" stop-color="#5ec962"/><stop offset="0.682" stop-color="#6ece58"/><stop offset="0.75" stop-color="#7cd250"/><stop offset="0.819" stop-color="#84d44b"/><stop offset="0.887" stop-color="#86d549"/><stop offset="0.955" stop-color="#7fd34e"/><stop offset="1" stop-color="#77d153"/></linearGradient>
<linearGradient id="gi28" x1="0" y1="0" x2="0" y2="1"><stop offset="0" stop-color="#65cb5e"/><stop offset="0.068" stop-color="#5ac864"/><stop offset="0.136" stop-color="#4ec36b"/><stop offset="0.138" stop-color="#4cc26c"/><stop offset="0.165" stop-color="#44bf70"/><stop offset="0.192" stop-color="#3aba76"/><stop offset="0.205" stop-color="#35b779"/><stop offset="0.22" stop-color="#2fb47c"/><stop offset="0.247" stop-color="#25ab82"/><stop offset="0.273" stop-color="#1fa188"/><stop offset="0.274" stop-color="#1fa088"/><stop offset="0.288" stop-color="#1f978b"/><stop offset="0.302" stop-color="#218e8d"/><stop offset="0.315" stop-color="#277f8e"/><stop offset="0.329" stop-color="#2d718e"/><stop offset="0.341" stop-color="#38588c"/><stop offset="0.342" stop-color="#39558c"/><stop offset="0.349" stop-color="#404688"/><stop offset="0.356" stop-color="#453882"/><stop offset="0.363" stop-color="#3f4889"/><stop offset="0.37" stop-color="#39568c"/><stop offset="0.383" stop-color="#2c718e"/><stop offset="0.397" stop-color="#27808e"/><stop offset="0.409" stop-color="#228d8d"/><stop offset="0.411" stop-color="#218f8d"/><stop offset="0.424" stop-color="#1f988b"/><stop offset="0.438" stop-color="#1fa188"/><stop offset="0.465" stop-color="#26ad81"/><stop offset="0.477" stop-color="#2cb17e"/><stop offset="0.492" stop-color="#31b57b"/><stop offset="0.52" stop-color="#3dbc74"/><stop offset="0.546" stop-color="#48c16e"/><stop offset="0.547" stop-color="#4ac16d"/><stop offset="0.574" stop-color="#54c568"/><stop offset="0.614" stop-color="#5ec962"/><stop offset="0.682" stop-color="#70cf57"/><stop offset="0.75" stop-color="#7cd250"/><stop offset="0.819" stop-color="#84d44b"/><stop offset="0.887" stop-color="#86d549"/><stop offset="0.955" stop-color="#7fd34e"/><stop offset="1" stop-color="#77d153"/></linearGradient>
<linearGradient id="gi29" x1="0" y1="0" x2="0" y2="1"><stop offset="0" stop-color="#63cb5f"/><stop offset="0.068" stop-color="#5ac864"/><stop offset="0.134" stop-color="#4ec36b"/><stop offset="0.136" stop-color="#4cc26c"/><stop offset="0.161" stop-color="#44bf70"/><stop offset="0.188" stop-color="#3bbb75"/><stop offset="0.205" stop-color="#34b679"/><stop offset="0.216" stop-color="#2fb47c"/><stop offset="0.243" stop-color="#25ab82"/><stop offset="0.27" stop-color="#1fa088"/><stop offset="0.273" stop-color="#1f9e89"/><stop offset="0.284" stop-color="#1f978b"/><stop offset="0.297" stop-color="#218e8d"/><stop offset="0.311" stop-color="#277f8e"/><stop offset="0.325" stop-color="#2d708e"/><stop offset="0.338" stop-color="#3a548c"/><stop offset="0.341" stop-color="#3c4f8a"/><stop offset="0.345" stop-color="#404588"/><stop offset="0.352" stop-color="#453581"/><stop offset="0.359" stop-color="#404588"/><stop offset="0.366" stop-color="#3a538b"/><stop offset="0.379" stop-color="#2d708e"/><stop offset="0.393" stop-color="#277f8e"/><stop offset="0.407" stop-color="#218e8d"/><stop offset="0.409" stop-color="#21918c"/><stop offset="0.42" stop-color="#1f978b"/><stop offset="0.434" stop-color="#1fa188"/><stop offset="0.461" stop-color="#25ac82"/><stop offset="0.477" stop-color="#2db27d"/><stop offset="0.488" stop-color="#31b57b"/><stop offset="0.516" stop-color="#3dbc74"/><stop offset="0.543" stop-color="#4ac16d"/><stop offset="0.546" stop-color="#4ac16d"/><stop offset="0.57" stop-color="#54c568"/><stop offset="0.614" stop-color="#60ca60"/><stop offset="0.682" stop-color="#70cf57"/><stop offset="0.75" stop-color="#7fd34e"/><stop offset="0.819" stop-color="#86d549"/><stop offset="0.887" stop-color="#89d548"/><stop offset="0.955" stop-color="#81d34d"/><stop offset="1" stop-color="#77d153"/></linearGradient>
<linearGradient id="gi30" x1="0" y1="0" x2="0" y2="1"><stop offset="0" stop-color="#63cb5f"/><stop offset="0.068" stop-color="#5ac864"/><stop offset="0.131" stop-color="#4ec36b"/><stop offset="0.136" stop-color="#4cc26c"/><stop offset="0.158" stop-color="#44bf70"/><stop offset="0.186" stop-color="#3bbb75"/><stop offset="0.205" stop-color="#32b67a"/><stop offset="0.213" stop-color="#2fb47c"/><stop offset="0.24" stop-color="#25ab82"/><stop offset="0.267" stop-color="#1fa088"/><stop offset="0.273" stop-color="#1e9c89"/><stop offset="0.281" stop-color="#1f968b"/><stop offset="0.295" stop-color="#228d8d"/><stop offset="0.308" stop-color="#277e8e"/><stop offset="0.322" stop-color="#2e6f8e"/><stop offset="0.336" stop-color="#3b528b"/><stop offset="0.341" stop-color="#404688"/><stop offset="0.342" stop-color="#414287"/><stop offset="0.349" stop-color="#46327e"/><stop offset="0.356" stop-color="#414287"/><stop offset="0.363" stop-color="#3b528b"/><stop offset="0.377" stop-color="#2e6f8e"/><stop offset="0.39" stop-color="#277e8e"/><stop offset="0.404" stop-color="#218e8d"/><stop offset="0.409" stop-color="#20928c"/><stop offset="0.417" stop-color="#1f978b"/><stop offset="0.431" stop-color="#1fa088"/><stop offset="0.458" stop-color="#25ac82"/><stop offset="0.477" stop-color="#2eb37c"/><stop offset="0.486" stop-color="#31b57b"/><stop offset="0.513" stop-color="#3fbc73"/><stop offset="0.54" stop-color="#4ac16d"/><stop offset="0.546" stop-color="#4cc26c"/><stop offset="0.568" stop-color="#54c568"/><stop offset="0.614" stop-color="#60ca60"/><stop offset="0.682" stop-color="#73d056"/><stop offset="0.75" stop-color="#7fd34e"/><stop offset="0.819" stop-color="#86d549"/><stop offset="0.887" stop-color="#89d548"/><stop offset="0.955" stop-color="#81d34d"/><stop offset="1" stop-color="#77d153"/></linearGradient>
<linearGradient id="gi31" x1="0" y1="0" x2="0" y2="1"><stop offset="0" stop-color="#63cb5f"/><stop offset="0.068" stop-color="#5ac864"/><stop offset="0.128" stop-color="#4ec36b"/><stop offset="0.136" stop-color="#4cc26c"/><stop offset="0.156" stop-color="#44bf70"/><stop offset="0.183" stop-color="#3bbb75"/><stop offset="0.205" stop-color="#31b57b"/><stop offset="0.21" stop-color="#2fb47c"/><stop offset="0.237" stop-color="#25ab82"/><stop offset="0.265" stop-color="#1fa088"/><stop offset="0.273" stop-color="#1f9a8a"/><stop offset="0.278" stop-color="#1f968b"/><stop offset="0.292" stop-color="#218e8d"/><stop offset="0.306" stop-color="#277e8e"/><stop offset="0.319" stop-color="#2e6e8e"/><stop offset="0.333" stop-color="#3b528b"/><stop offset="0.34" stop-color="#414287"/><stop offset="0.341" stop-color="#423f85"/><stop offset="0.347" stop-color="#46307e"/><stop offset="0.353" stop-color="#423f85"/><stop offset="0.36" stop-color="#3c4f8a"/><stop offset="0.374" stop-color="#2e6d8e"/><stop offset="0.387" stop-color="#287d8e"/><stop offset="0.401" stop-color="#228d8d"/><stop offset="0.409" stop-color="#20928c"/><stop offset="0.415" stop-color="#1f968b"/><stop offset="0.428" stop-color="#1fa088"/><stop offset="0.456" stop-color="#25ac82"/><stop offset="0.477" stop-color="#2eb37c"/><stop offset="0.483" stop-color="#31b57b"/><stop offset="0.51" stop-color="#3fbc73"/><stop offset="0.538" stop-color="#4ac16d"/><stop offset="0.546" stop-color="#4cc26c"/><stop offset="0.565" stop-color="#54c568"/><stop offset="0.614" stop-color="#60ca60"/><stop offset="0.682" stop-color="#73d056"/><stop offset="0.75" stop-color="#7fd34e"/><stop offset="0.819" stop-color="#86d549"/><stop offset="0.887" stop-color="#89d548"/><stop offset="0.955" stop-color="#81d34d"/><stop offset="1" stop-color="#77d153"/></linearGradient>
<linearGradient id="gi32" x1="0" y1="0" x2="0" y2="1"><stop offset="0" stop-color="#63cb5f"/><stop offset="0.068" stop-color="#5ac864"/><stop offset="0.127" stop-color="#4ec36b"/><stop offset="0.136" stop-color="#4ac16d"/><stop offset="0.154" stop-color="#44bf70"/><stop offset="0.181" stop-color="#3bbb75"/><stop offset="0.205" stop-color="#31b57b"/><stop offset="0.209" stop-color="#2eb37c"/><stop offset="0.236" stop-color="#25ab82"/><stop offset="0.263" stop-color="#1f9f88"/><stop offset="0.273" stop-color="#1f998a"/><stop offset="0.277" stop-color="#1f968b"/><stop offset="0.291" stop-color="#228d8d"/><stop offset="0.304" stop-color="#287d8e"/><stop offset="0.318" stop-color="#2e6d8e"/><stop offset="0.332" stop-color="#3c508b"/><stop offset="0.338" stop-color="#423f85"/><stop offset="0.341" stop-color="#443983"/><stop offset="0.345" stop-color="#472e7c"/><stop offset="0.352" stop-color="#433e85"/><stop offset="0.359" stop-color="#3d4e8a"/><stop offset="0.372" stop-color="#2f6c8e"/><stop offset="0.386" stop-color="#287c8e"/><stop offset="0.4" stop-color="#228d8d"/><stop offset="0.409" stop-color="#20938c"/><stop offset="0.413" stop-color="#1f968b"/><stop offset="0.427" stop-color="#1fa088"/><stop offset="0.454" stop-color="#25ac82"/><stop offset="0.477" stop-color="#2eb37c"/><stop offset="0.482" stop-color="#31b57b"/><stop offset="0.509" stop-color="#3fbc73"/><stop offset="0.536" stop-color="#4ac16d"/><stop offset="0.546" stop-color="#4ec36b"/><stop offset="0.563" stop-color="#54c568"/><stop offset="0.614" stop-color="#63cb5f"/><stop offset="0.682" stop-color="#73d056"/><stop offset="0.75" stop-color="#7fd34e"/><stop offset="0.819" stop-color="#86d549"/><stop offset="0.887" stop-color="#89d548"/><stop offset="0.955" stop-color="#81d34d"/><stop offset="1" stop-color="#77d153"/></linearGradient>
<linearGradient id="gi33" x1="0" y1="0" x2="0" y2="1"><stop offset="0" stop-color="#63cb5f"/><stop offset="0.068" stop-color="#5ac864"/><stop offset="0.127" stop-color="#4ec36b"/><stop offset="0.136" stop-color="#4ac16d"/><stop offset="0.154" stop-color="#44bf70"/><stop offset="0.181" stop-color="#3aba76"/><stop offset="0.205" stop-color="#2fb47c"/><stop offset="0.209" stop-color="#2eb37c"/><stop offset="0.236" stop-color="#24aa83"/><stop offset="0.263" stop-color="#1f9e89"/><stop offset="0.273" stop-color="#1f978b"/><stop offset="0.277" stop-color="#1f958b"/><stop offset="0.291" stop-color="#228b8d"/><stop offset="0.304" stop-color="#297b8e"/><stop offset="0.318" stop-color="#2f6b8e"/><stop offset="0.332" stop-color="#3d4d8a"/><stop offset="0.338" stop-color="#443b84"/><stop offset="0.341" stop-color="#463480"/><stop offset="0.345" stop-color="#472c7a"/><stop offset="0.352" stop-color="#433e85"/><stop offset="0.359" stop-color="#3c4f8a"/><stop offset="0.372" stop-color="#2f6c8e"/><stop offset="0.386" stop-color="#287d8e"/><stop offset="0.4" stop-color="#228d8d"/><stop offset="0.409" stop-color="#20938c"/><stop offset="0.413" stop-color="#1f968b"/><stop offset="0.427" stop-color="#1fa088"/><stop offset="0.454" stop-color="#25ac82"/><stop offset="0.477" stop-color="#2fb47c"/><stop offset="0.482" stop-color="#31b57b"/><stop offset="0.509" stop-color="#3fbc73"/><stop offset="0.536" stop-color="#4ac16d"/><stop offset="0.546" stop-color="#4ec36b"/><stop offset="0.563" stop-color="#54c568"/><stop offset="0.614" stop-color="#63cb5f"/><stop offset="0.682" stop-color="#73d056"/><stop offset="0.75" stop-color="#7fd34e"/><stop offset="0.819" stop-color="#89d548"/><stop offset="0.887" stop-color="#89d548"/><stop offset="0.955" stop-color="#81d34d"/><stop offset="1" stop-color="#77d153"/></linearGradient>
<linearGradient id="gi34" x1="0" y1="0" x2="0" y2="1"><stop offset="0" stop-color="#63cb5f"/><stop offset="0.068" stop-color="#5ac864"/><stop offset="0.126" stop-color="#4ec36b"/><stop offset="0.136" stop-color="#4ac16d"/><stop offset="0.153" stop-color="#44bf70"/><stop offset="0.18" stop-color="#3bbb75"/><stop offset="0.205" stop-color="#2fb47c"/><stop offset="0.207" stop-color="#2eb37c"/><stop offset="0.235" stop-color="#24aa83"/><stop offset="0.262" stop-color="#1f9f88"/><stop offset="0.273" stop-color="#1f978b"/><stop offset="0.276" stop-color="#1f958b"/><stop offset="0.289" stop-color="#228c8d"/><stop offset="0.303" stop-color="#297b8e"/><stop offset="0.317" stop-color="#2f6b8e"/><stop offset="0.33" stop-color="#3d4d8a"/><stop offset="0.337" stop-color="#443b84"/><stop offset="0.341" stop-color="#46307e"/><stop offset="0.344" stop-color="#482979"/><stop offset="0.351" stop-color="#443a83"/><stop offset="0.357" stop-color="#3e4c8a"/><stop offset="0.371" stop-color="#306a8e"/><stop offset="0.385" stop-color="#297b8e"/><stop offset="0.398" stop-color="#228c8d"/><stop offset="0.409" stop-color="#20938c"/><stop offset="0.412" stop-color="#1f958b"/><stop offset="0.426" stop-color="#1f9f88"/><stop offset="0.453" stop-color="#25ac82"/><stop offset="0.477" stop-color="#2fb47c"/><stop offset="0.48" stop-color="#2fb47c"/><stop offset="0.508" stop-color="#3fbc73"/><stop offset="0.535" stop-color="#4ac16d"/><stop offset="0.546" stop-color="#4ec36b"/><stop offset="0.562" stop-color="#54c568"/><stop offset="0.614" stop-color="#63cb5f"/><stop offset="0.682" stop-color="#73d056"/><stop offset="0.75" stop-color="#7fd34e"/><stop offset="0.819" stop-color="#89d548"/><stop offset="0.887" stop-color="#89d548"/><stop offset="0.955" stop-color="#81d34d"/><stop offset="1" stop-color="#77d153"/></linearGradient>
<linearGradient id="gi35" x1="0" y1="0" x2="0" y2="1"><stop offset="0" stop-color="#63cb5f"/><stop offset="0.068" stop-color="#5ac864"/><stop offset="0.126" stop-color="#4ec36b"/><stop offset="0.136" stop-color="#4ac16d"/><stop offset="0.153" stop-color="#44bf70"/><stop offset="0.18" stop-color="#3aba76"/><stop offset="0.205" stop-color="#2fb47c"/><stop offset="0.207" stop-color="#2eb37c"/><stop offset="0.235" stop-color="#24aa83"/><stop offset="0.262" stop-color="#1f9e89"/><stop offset="0.273" stop-color="#1f968b"/><stop offset="0.276" stop-color="#1f948c"/><stop offset="0.289" stop-color="#228b8d"/><stop offset="0.303" stop-color="#297a8e"/><stop offset="0.317" stop-color="#306a8e"/><stop offset="0.33" stop-color="#3e4c8a"/><stop offset="0.337" stop-color="#443a83"/><stop offset="0.341" stop-color="#472e7c"/><stop offset="0.344" stop-color="#482677"/><stop offset="0.351" stop-color="#443983"/><stop offset="0.357" stop-color="#3e4a89"/><stop offset="0.371" stop-color="#306a8e"/><stop offset="0.385" stop-color="#297b8e"/><stop offset="0.398" stop-color="#228b8d"/><stop offset="0.409" stop-color="#20938c"/><stop offset="0.412" stop-color="#1f958b"/><stop offset="0.426" stop-color="#1f9f88"/><stop offset="0.453" stop-color="#25ab82"/><stop offset="0.477" stop-color="#2eb37c"/><stop offset="0.48" stop-color="#2fb47c"/><stop offset="0.508" stop-color="#3dbc74"/><stop offset="0.535" stop-color="#48c16e"/><stop offset="0.546" stop-color="#4ec36b"/><stop offset="0.562" stop-color="#54c568"/><stop offset="0.614" stop-color="#63cb5f"/><stop offset="0.682" stop-color="#73d056"/><stop offset="0.75" stop-color="#7fd34e"/><stop offset="0.819" stop-color="#89d548"/><stop offset="0.887" stop-color="#89d548"/><stop offset="0.955" stop-color="#81d34d"/><stop offset="1" stop-color="#77d153"/></linearGradient>
<linearGradient id="gi36" x1="0" y1="0" x2="0" y2="1"><stop offset="0" stop-color="#63cb5f"/><stop offset="0.068" stop-color="#5ac864"/><stop offset="0.126" stop-color="#4ec36b"/><stop offset="0.136" stop-color="#4ac16d"/><stop offset="0.153" stop-color="#44bf70"/><stop offset="0.18" stop-color="#3bbb75"/><stop offset="0.205" stop-color="#2fb47c"/><stop offset="0.207" stop-color="#2eb37c"/><stop offset="0.235" stop-color="#24aa83"/><stop offset="0.262" stop-color="#1f9f88"/><stop offset="0.273" stop-color="#1f978b"/><stop offset="0.276" stop-color="#1f958b"/><stop offset="0.289" stop-color="#228c8d"/><stop offset="0.303" stop-color="#297b8e"/><stop offset="0.317" stop-color="#2f6b8e"/><stop offset="0.33" stop-color="#3d4d8a"/><stop offset="0.337" stop-color="#443b84"/><stop offset="0.341" stop-color="#46307e"/><stop offset="0.344" stop-color="#482979"/><stop offset="0.351" stop-color="#443a83"/><stop offset="0.357" stop-color="#3e4c8a"/><stop offset="0.371" stop-color="#306a8e"/><stop offset="0.385" stop-color="#297b8e"/><stop offset="0.398" stop-color="#228c8d"/><stop offset="0.409" stop-color="#20938c"/><stop offset="0.412" stop-color="#1f958b"/><stop offset="0.426" stop-color="#1f9f88"/><stop offset="0.453" stop-color="#25ac82"/><stop offset="0.477" stop-color="#2fb47c"/><stop offset="0.48" stop-color="#2fb47c"/><stop offset="0.508" stop-color="#3fbc73"/><stop offset="0.535" stop-color="#4ac16d"/><stop offset="0.546" stop-color="#4ec36b"/><stop offset="0.562" stop-color="#54c568"/><stop offset="0.614" stop-color="#63cb5f"/><stop offset="0.682" stop-color="#73d056"/><stop offset="0.75" stop-color="#7fd34e"/><stop offset="0.819" stop-color="#89d548"/><stop offset="0.887" stop-color="#89d548"/><stop offset="0.955" stop-color="#81d34d"/><stop offset="1" stop-color="#77d153"/></linearGradient>
<linearGradient id="gi37" x1="0" y1="0" x2="0" y2="1"><stop offset="0" stop-color="#63cb5f"/><stop offset="0.068" stop-color="#5ac864"/><stop offset="0.127" stop-color="#4ec36b"/><stop offset="0.136" stop-color="#4ac16d"/><stop offset="0.154" stop-color="#44bf70"/><stop offset="0.181" stop-color="#3aba76"/><stop offset="0.205" stop-color="#2fb47c"/><stop offset="0.209" stop-color="#2eb37c"/><stop offset="0.236" stop-color="#24aa83"/><stop offset="0.263" stop-color="#1f9e89"/><stop offset="0.273" stop-color="#1f978b"/><stop offset="0.277" stop-color="#1f958b"/><stop offset="0.291" stop-color="#228b8d"/><stop offset="0.304" stop-color="#297b8e"/><stop offset="0.318" stop-color="#2f6b8e"/><stop offset="0.332" stop-color="#3d4d8a"/><stop offset="0.338" stop-color="#443b84"/><stop offset="0.341" stop-color="#463480"/><stop offset="0.345" stop-color="#472c7a"/><stop offset="0.352" stop-color="#433e85"/><stop offset="0.359" stop-color="#3c4f8a"/><stop offset="0.372" stop-color="#2f6c8e"/><stop offset="0.386" stop-color="#287d8e"/><stop offset="0.4" stop-color="#228d8d"/><stop offset="0.409" stop-color="#20938c"/><stop offset="0.413" stop-color="#1f968b"/><stop offset="0.427" stop-color="#1fa088"/><stop offset="0.454" stop-color="#25ac82"/><stop offset="0.477" stop-color="#2fb47c"/><stop offset="0.482" stop-color="#31b57b"/><stop offset="0.509" stop-color="#3fbc73"/><stop offset="0.536" stop-color="#4ac16d"/><stop offset="0.546" stop-color="#4ec36b"/><stop offset="0.563" stop-color="#54c568"/><stop offset="0.614" stop-color="#63cb5f"/><stop offset="0.682" stop-color="#73d056"/><stop offset="0.75" stop-color="#7fd34e"/><stop offset="0.819" stop-color="#89d548"/><stop offset="0.887" stop-color="#89d548"/><stop offset="0.955" stop-color="#81d34d"/><stop offset="1" stop-color="#77d153"/></linearGradient>
<linearGradient id="gi38" x1="0" y1="0" x2="0" y2="1"><stop offset="0" stop-color="#63cb5f"/><stop offset="0.068" stop-color="#5ac864"/><stop offset="0.127" stop-color="#4ec36b"/><stop offset="0.136" stop-color="#4ac16d"/><stop offset="0.154" stop-color="#44bf70"/><stop offset="0.181" stop-color="#3bbb75"/><stop offset="0.205" stop-color="#31b57b"/><stop offset="0.209" stop-color="#2eb37c"/><stop offset="0.236" stop-color="#25ab82"/><stop offset="0.263" stop-color="#1f9f88"/><stop offset="0.273" stop-color="#1f998a"/><stop offset="0.277" stop-color="#1f968b"/><stop offset="0.291" stop-color="#228d8d"/><stop offset="0.304" stop-color="#287d8e"/><stop offset="0.318" stop-color="#2e6d8e"/><stop offset="0.332" stop-color="#3c508b"/><stop offset="0.338" stop-color="#423f85"/><stop offset="0.341" stop-color="#443983"/><stop offset="0.345" stop-color="#472e7c"/><stop offset="0.352" stop-color="#433e85"/><stop offset="0.359" stop-color="#3d4e8a"/><stop offset="0.372" stop-color="#2f6c8e"/><stop offset="0.386" stop-color="#287c8e"/><stop offset="0.4" stop-color="#228d8d"/><stop offset="0.409" stop-color="#20938c"/><stop offset="0.413" stop-color="#1f968b"/><stop offset="0.427" stop-color="#1fa088"/><stop offset="0.454" stop-color="#25ac82"/><stop offset="0.477" stop-color="#2eb37c"/><stop offset="0.482" stop-color="#31b57b"/><stop offset="0.509" stop-color="#3fbc73"/><stop offset="0.536" stop-color="#4ac16d"/><stop offset="0.546" stop-color="#4ec36b"/><stop offset="0.563" stop-color="#54c568"/><stop offset="0.614" stop-color="#63cb5f"/><stop offset="0.682" stop-color="#73d056"/><stop offset="0.75" stop-color="#7fd34e"/><stop offset="0.819" stop-color="#86d549"/><stop offset="0.887" stop-color="#89d548"/><stop offset="0.955" stop-color="#81d34d"/><stop offset="1" stop-color="#77d153"/></linearGradient>
<linearGradient id="gi39" x1="0" y1="0" x2="0" y2="1"><stop offset="0" stop-color="#63cb5f"/><stop offset="0.068" stop-color="#5ac864"/><stop offset="0.128" stop-color="#4ec36b"/><stop offset="0.136" stop-color="#4cc26c"/><stop offset="0.156" stop-color="#44bf70"/><stop offset="0.183" stop-color="#3bbb75"/><stop offset="0.205" stop-color="#31b57b"/><stop offset="0.21" stop-color="#2fb47c"/><stop offset="0.237" stop-color="#25ab82"/><stop offset="0.265" stop-color="#1fa088"/><stop offset="0.273" stop-color="#1f9a8a"/><stop offset="0.278" stop-color="#1f968b"/><stop offset="0.292" stop-color="#218e8d"/><stop offset="0.306" stop-color="#277e8e"/><stop offset="0.319" stop-color="#2e6e8e"/><stop offset="0.333" stop-color="#3b528b"/><stop offset="0.34" stop-color="#414287"/><stop offset="0.341" stop-color="#423f85"/><stop offset="0.347" stop-color="#46307e"/><stop offset="0.353" stop-color="#423f85"/><stop offset="0.36" stop-color="#3c4f8a"/><stop offset="0.374" stop-color="#2e6d8e"/><stop offset="0.387" stop-color="#287d8e"/><stop offset="0.401" stop-color="#228d8d"/><stop offset="0.409" stop-color="#20928c"/><stop offset="0.415" stop-color="#1f968b"/><stop offset="0.428" stop-color="#1fa088"/><stop offset="0.456" stop-color="#25ac82"/><stop offset="0.477" stop-color="#2eb37c"/><stop offset="0.483" stop-color="#31b57b"/><stop offset="0.51" stop-color="#3fbc73"/><stop offset="0.538" stop-color="#4ac16d"/><stop offset="0.546" stop-color="#4cc26c"/><stop offset="0.565" stop-color="#54c568"/><stop offset="0.614" stop-color="#60ca60"/><stop offset="0.682" stop-color="#73d056"/><stop offset="0.75" stop-color="#7fd34e"/><stop offset="0.819" stop-color="#86d549"/><stop offset="0.887" stop-color="#89d548"/><stop offset="0.955" stop-color="#81d34d"/><stop offset="1" stop-color="#77d153"/></linearGradient>
<linearGradient id="gi40" x1="0" y1="0" x2="0" y2="1"><stop offset="0" stop-color="#63cb5f"/><stop offset="0.068" stop-color="#5ac864"/><stop offset="0.131" stop-color="#4ec36b"/><stop offset="0.136" stop-color="#4cc26c"/><stop offset="0.158" stop-color="#44bf70"/><stop offset="0.186" stop-color="#3bbb75"/><stop offset="0.205" stop-color="#32b67a"/><stop offset="0.213" stop-color="#2fb47c"/><stop offset="0.24" stop-color="#25ab82"/><stop offset="0.267" stop-color="#1fa088"/><stop offset="0.273" stop-color="#1e9c89"/><stop offset="0.281" stop-color="#1f968b"/><stop offset="0.295" stop-color="#228d8d"/><stop offset="0.308" stop-color="#277e8e"/><stop offset="0.322" stop-color="#2e6f8e"/><stop offset="0.336" stop-color="#3b528b"/><stop offset="0.341" stop-color="#404688"/><stop offset="0.342" stop-color="#414287"/><stop offset="0.349" stop-color="#46327e"/><stop offset="0.356" stop-color="#414287"/><stop offset="0.363" stop-color="#3b528b"/><stop offset="0.377" stop-color="#2e6f8e"/><stop offset="0.39" stop-color="#277e8e"/><stop offset="0.404" stop-color="#218e8d"/><stop offset="0.409" stop-color="#20928c"/><stop offset="0.417" stop-color="#1f978b"/><stop offset="0.431" stop-color="#1fa088"/><stop offset="0.458" stop-color="#25ac82"/><stop offset="0.477" stop-color="#2eb37c"/><stop offset="0.486" stop-color="#31b57b"/><stop offset="0.513" stop-color="#3fbc73"/><stop offset="0.54" stop-color="#4ac16d"/><stop offset="0.546" stop-color="#4cc26c"/><stop offset="0.568" stop-color="#54c568"/><stop offset="0.614" stop-color="#60ca60"/><stop offset="0.682" stop-color="#73d056"/><stop offset="0.75" stop-color="#7fd34e"/><stop offset="0.819" stop-color="#86d549"/><stop offset="0.887" stop-color="#89d548"/><stop offset="0.955" stop-color="#81d34d"/><stop offset="1" stop-color="#77d153"/></linearGradient>
<linearGradient id="gi41" x1="0" y1="0" x2="0" y2="1"><stop offset="0" stop-color="#63cb5f"/><stop offset="0.068" stop-color="#5ac864"/><stop offset="0.134" stop-color="#4ec36b"/><stop offset="0.136" stop-color="#4cc26c"/><stop offset="0.161" stop-color="#44bf70"/><stop offset="0.188" stop-color="#3bbb75"/><stop offset="0.205" stop-color="#34b679"/><stop offset="0.216" stop-color="#2fb47c"/><stop offset="0.243" stop-color="#25ab82"/><stop offset="0.27" stop-color="#1fa088"/><stop offset="0.273" stop-color="#1f9e89"/><stop offset="0.284" stop-color="#1f978b"/><stop offset="0.297" stop-color="#218e8d"/><stop offset="0.311" stop-color="#277f8e"/><stop offset="0.325" stop-color="#2d708e"/><stop offset="0.338" stop-color="#3a548c"/><stop offset="0.341" stop-color="#3c4f8a"/><stop offset="0.345" stop-color="#404588"/><stop offset="0.352" stop-color="#453581"/><stop offset="0.359" stop-color="#404588"/><stop offset="0.366" stop-color="#3a538b"/><stop offset="0.379" stop-color="#2d708e"/><stop offset="0.393" stop-color="#277f8e"/><stop offset="0.407" stop-color="#218e8d"/><stop offset="0.409" stop-color="#21918c"/><stop offset="0.42" stop-color="#1f978b"/><stop offset="0.434" stop-color="#1fa188"/><stop offset="0.461" stop-color="#25ac82"/><stop offset="0.477" stop-color="#2db27d"/><stop offset="0.488" stop-color="#31b57b"/><stop offset="0.516" stop-color="#3dbc74"/><stop offset="0.543" stop-color="#4ac16d"/><stop offset="0.546" stop-color="#4ac16d"/><stop offset="0.57" stop-color="#54c568"/><stop offset="0.614" stop-color="#60ca60"/><stop offset="0.682" stop-color="#70cf57"/><stop offset="0.75" stop-color="#7fd34e"/><stop offset="0.819" stop-color="#86d549"/><stop offset="0.887" stop-color="#89d548"/><stop offset="0.955" stop-color="#81d34d"/><stop offset="1" stop-color="#77d153"/></linearGradient>
<linearGradient id="gi42" x1="0" y1="0" x2="0" y2="1"><stop offset="0" stop-color="#65cb5e"/><stop offset="0.068" stop-color="#5ac864"/><stop offset="0.136" stop-color="#4ec36b"/><stop offset="0.138" stop-color="#4cc26c"/><stop offset="0.165" stop-color="#44bf70"/><stop offset="0.192" stop-color="#3aba76"/><stop offset="0.205" stop-color="#35b779"/><stop offset="0.22" stop-color="#2fb47c"/><stop offset="0.247" stop-color="#25ab82"/><stop offset="0.273" stop-color="#1fa188"/><stop offset="0.274" stop-color="#1fa088"/><stop offset="0.288" stop-color="#1f978b"/><stop offset="0.302" stop-color="#218e8d"/><stop offset="0.315" stop-color="#277f8e"/><stop offset="0.329" stop-color="#2d718e"/><stop offset="0.341" stop-color="#38588c"/><stop offset="0.342" stop-color="#39558c"/><stop offset="0.349" stop-color="#404688"/><stop offset="0.356" stop-color="#453882"/><stop offset="0.363" stop-color="#3f4889"/><stop offset="0.37" stop-color="#39568c"/><stop offset="0.383" stop-color="#2c718e"/><stop offset="0.397" stop-color="#27808e"/><stop offset="0.409" stop-color="#228d8d"/><stop offset="0.411" stop-color="#218f8d"/><stop offset="0.424" stop-color="#1f988b"/><stop offset="0.438" stop-color="#1fa188"/><stop offset="0.465" stop-color="#26ad81"/><stop offset="0.477" stop-color="#2cb17e"/><stop offset="0.492" stop-color="#31b57b"/><stop offset="0.52" stop-color="#3dbc74"/><stop offset="0.546" stop-color="#48c16e"/><stop offset="0.547" stop-color="#4ac16d"/><stop offset="0.574" stop-color="#54c568"/><stop offset="0.614" stop-color="#5ec962"/><stop offset="0.682" stop-color="#70cf57"/><stop offset="0.75" stop-color="#7cd250"/><stop offset="0.819" stop-color="#84d44b"/><stop offset="0.887" stop-color="#86d549"/><stop offset="0.955" stop-color="#7fd34e"/><stop offset="1" stop-color="#77d153"/></linearGradient>
<linearGradient id="gi43" x1="0" y1="0" x2="0" y2="1"><stop offset="0" stop-color="#65cb5e"/><stop offset="0.068" stop-color="#5cc863"/><stop offset="0.136" stop-color="#4ec36b"/><stop offset="0.142" stop-color="#4cc26c"/><stop offset="0.169" stop-color="#44bf70"/><stop offset="0.196" stop-color="#3aba76"/><stop offset="0.205" stop-color="#37b878"/><stop offset="0.224" stop-color="#2fb47c"/><stop offset="0.251" stop-color="#25ab82"/><stop offset="0.273" stop-color="#1fa287"/><stop offset="0.278" stop-color="#1fa088"/><stop offset="0.292" stop-color="#1f978b"/><stop offset="0.306" stop-color="#218e8d"/><stop offset="0.319" stop-color="#27808e"/><stop offset="0.333" stop-color="#2c718e"/><stop offset="0.341" stop-color="#33628d"/><stop offset="0.347" stop-color="#38588c"/><stop offset="0.353" stop-color="#3e4989"/><stop offset="0.36" stop-color="#443a83"/><stop offset="0.367" stop-color="#3e4989"/><stop offset="0.374" stop-color="#38598c"/><stop offset="0.387" stop-color="#2c728e"/><stop offset="0.401" stop-color="#26818e"/><stop offset="0.409" stop-color="#23898e"/><stop offset="0.415" stop-color="#218f8d"/><stop offset="0.428" stop-color="#1f988b"/><stop offset="0.442" stop-color="#1fa188"/><stop offset="0.469" stop-color="#26ad81"/><stop offset="0.477" stop-color="#29af7f"/><stop offset="0.497" stop-color="#31b57b"/><stop offset="0.524" stop-color="#3dbc74"/><stop offset="0.546" stop-color="#48c16e"/><stop offset="0.551" stop-color="#4ac16d"/><stop offset="0.578" stop-color="#52c569"/><stop offset="0.614" stop-color="#5ec962"/><stop offset="0.682" stop-color="#6ece58"/><stop offset="0.75" stop-color="#7cd250"/><stop offset="0.819" stop-color="#84d44b"/><stop offset="0.887" stop-color="#86d549"/><stop offset="0.955" stop-color="#7fd34e"/><stop offset="1" stop-color="#77d153"/></linearGradient>
<linearGradient id="gi44" x1="0" y1="0" x2="0" y2="1"><stop offset="0" stop-color="#65cb5e"/><stop offset="0.068" stop-color="#5cc863"/><stop offset="0.136" stop-color="#50c46a"/><stop offset="0.147" stop-color="#4cc26c"/><stop offset="0.175" stop-color="#44bf70"/><stop offset="0.202" stop-color="#3aba76"/><stop offset="0.205" stop-color="#38b977"/><stop offset="0.229" stop-color="#2fb47c"/><stop offset="0.256" stop-color="#25ab82"/><stop offset="0.273" stop-color="#21a585"/><stop offset="0.284" stop-color="#1fa088"/><stop offset="0.297" stop-color="#1f988b"/><stop offset="0.311" stop-color="#218e8d"/><stop offset="0.325" stop-color="#27808e"/><stop offset="0.338" stop-color="#2c718e"/><stop offset="0.341" stop-color="#2e6d8e"/><stop offset="0.352" stop-color="#38598c"/><stop offset="0.359" stop-color="#3e4a89"/><stop offset="0.366" stop-color="#423f85"/><stop offset="0.372" stop-color="#3d4d8a"/><stop offset="0.379" stop-color="#375b8d"/><stop offset="0.393" stop-color="#2c738e"/><stop offset="0.407" stop-color="#26828e"/><stop offset="0.409" stop-color="#25848e"/><stop offset="0.42" stop-color="#21908d"/><stop offset="0.434" stop-color="#1f998a"/><stop offset="0.447" stop-color="#1fa188"/><stop offset="0.475" stop-color="#26ad81"/><stop offset="0.477" stop-color="#27ad81"/><stop offset="0.502" stop-color="#31b57b"/><stop offset="0.529" stop-color="#3dbc74"/><stop offset="0.546" stop-color="#46c06f"/><stop offset="0.557" stop-color="#4ac16d"/><stop offset="0.584" stop-color="#52c569"/><stop offset="0.614" stop-color="#5cc863"/><stop offset="0.682" stop-color="#6ece58"/><stop offset="0.75" stop-color="#7cd250"/><stop offset="0.819" stop-color="#84d44b"/><stop offset="0.887" stop-color="#86d549"/><stop offset="0.955" stop-color="#7fd34e"/><stop offset="1" stop-color="#75d054"/></linearGradient>
<linearGradient id="gi45" x1="0" y1="0" x2="0" y2="1"><stop offset="0" stop-color="#65cb5e"/><stop offset="0.068" stop-color="#5cc863"/><stop offset="0.136" stop-color="#50c46a"/><stop offset="0.153" stop-color="#4cc26c"/><stop offset="0.18" stop-color="#44bf70"/><stop offset="0.205" stop-color="#3aba76"/><stop offset="0.207" stop-color="#3aba76"/><stop offset="0.235" stop-color="#2fb47c"/><stop offset="0.262" stop-color="#25ac82"/><stop offset="0.273" stop-color="#22a884"/><stop offset="0.289" stop-color="#1fa088"/><stop offset="0.303" stop-color="#1f988b"/><stop offset="0.317" stop-color="#218e8d"/><stop offset="0.33" stop-color="#26818e"/><stop offset="0.341" stop-color="#2a768e"/><stop offset="0.344" stop-color="#2c728e"/><stop offset="0.357" stop-color="#375b8d"/><stop offset="0.364" stop-color="#3d4e8a"/><stop offset="0.371" stop-color="#424186"/><stop offset="0.378" stop-color="#3c4f8a"/><stop offset="0.385" stop-color="#365c8d"/><stop offset="0.398" stop-color="#2b748e"/><stop offset="0.409" stop-color="#27808e"/><stop offset="0.412" stop-color="#26828e"/><stop offset="0.426" stop-color="#21908d"/><stop offset="0.439" stop-color="#1f998a"/><stop offset="0.453" stop-color="#1fa188"/><stop offset="0.477" stop-color="#25ac82"/><stop offset="0.48" stop-color="#26ad81"/><stop offset="0.508" stop-color="#31b57b"/><stop offset="0.535" stop-color="#3dbc74"/><stop offset="0.546" stop-color="#42be71"/><stop offset="0.562" stop-color="#48c16e"/><stop offset="0.589" stop-color="#52c569"/><stop offset="0.614" stop-color="#5ac864"/><stop offset="0.682" stop-color="#6ccd5a"/><stop offset="0.75" stop-color="#7ad151"/><stop offset="0.819" stop-color="#81d34d"/><stop offset="0.887" stop-color="#84d44b"/><stop offset="0.955" stop-color="#7fd34e"/><stop offset="1" stop-color="#75d054"/></linearGradient>
<linearGradient id="gi46" x1="0" y1="0" x2="0" y2="1"><stop offset="0" stop-color="#65cb5e"/><stop offset="0.068" stop-color="#5ec962"/><stop offset="0.136" stop-color="#52c569"/><stop offset="0.16" stop-color="#4cc26c"/><stop offset="0.187" stop-color="#44bf70"/><stop offset="0.205" stop-color="#3dbc74"/><stop offset="0.214" stop-color="#38b977"/><stop offset="0.241" stop-color="#2fb47c"/><stop offset="0.269" stop-color="#25ac82"/><stop offset="0.273" stop-color="#24aa83"/><stop offset="0.296" stop-color="#1fa088"/><stop offset="0.31" stop-color="#1f988b"/><stop offset="0.323" stop-color="#218e8d"/><stop offset="0.337" stop-color="#26828e"/><stop offset="0.341" stop-color="#277e8e"/><stop offset="0.351" stop-color="#2c738e"/><stop offset="0.364" stop-color="#365c8d"/><stop offset="0.371" stop-color="#3c4f8a"/><stop offset="0.378" stop-color="#404588"/><stop offset="0.385" stop-color="#3b528b"/><stop offset="0.392" stop-color="#355e8d"/><stop offset="0.405" stop-color="#2b758e"/><stop offset="0.409" stop-color="#297a8e"/><stop offset="0.419" stop-color="#26828e"/><stop offset="0.432" stop-color="#21908d"/><stop offset="0.446" stop-color="#1f9a8a"/><stop offset="0.46" stop-color="#1fa187"/><stop offset="0.477" stop-color="#24aa83"/><stop offset="0.487" stop-color="#26ad81"/><stop offset="0.514" stop-color="#31b57b"/><stop offset="0.542" stop-color="#3dbc74"/><stop offset="0.546" stop-color="#3fbc73"/><stop offset="0.569" stop-color="#48c16e"/><stop offset="0.596" stop-color="#52c569"/><stop offset="0.614" stop-color="#58c765"/><stop offset="0.682" stop-color="#69cd5b"/><stop offset="0.75" stop-color="#77d153"/><stop offset="0.819" stop-color="#81d34d"/><stop offset="0.887" stop-color="#84d44b"/><stop offset="0.955" stop-color="#7fd34e"/><stop offset="1" stop-color="#75d054"/></linearGradient>
<linearGradient id="gi47" x1="0" y1="0" x2="0" y2="1"><stop offset="0" stop-color="#67cc5c"/><stop offset="0.068" stop-color="#5ec962"/><stop offset="0.136" stop-color="#54c568"/><stop offset="0.166" stop-color="#4cc26c"/><stop offset="0.194" stop-color="#44bf70"/><stop offset="0.205" stop-color="#3fbc73"/><stop offset="0.221" stop-color="#38b977"/><stop offset="0.248" stop-color="#2fb47c"/><stop offset="0.273" stop-color="#26ad81"/><stop offset="0.276" stop-color="#25ac82"/><stop offset="0.303" stop-color="#1fa188"/><stop offset="0.317" stop-color="#1f998a"/><stop offset="0.33" stop-color="#218f8d"/><stop offset="0.341" stop-color="#25858e"/><stop offset="0.344" stop-color="#26828e"/><stop offset="0.357" stop-color="#2b758e"/><stop offset="0.371" stop-color="#355f8d"/><stop offset="0.378" stop-color="#3a538b"/><stop offset="0.385" stop-color="#3f4788"/><stop offset="0.392" stop-color="#3a538b"/><stop offset="0.398" stop-color="#355f8d"/><stop offset="0.409" stop-color="#2d718e"/><stop offset="0.412" stop-color="#2b758e"/><stop offset="0.426" stop-color="#25838e"/><stop offset="0.439" stop-color="#21908d"/><stop offset="0.453" stop-color="#1f9a8a"/><stop offset="0.467" stop-color="#1fa188"/><stop offset="0.477" stop-color="#21a685"/><stop offset="0.494" stop-color="#26ad81"/><stop offset="0.521" stop-color="#31b57b"/><stop offset="0.546" stop-color="#3aba76"/><stop offset="0.548" stop-color="#3bbb75"/><stop offset="0.576" stop-color="#48c16e"/><stop offset="0.603" stop-color="#52c569"/><stop offset="0.614" stop-color="#54c568"/><stop offset="0.682" stop-color="#67cc5c"/><stop offset="0.75" stop-color="#77d153"/><stop offset="0.819" stop-color="#7fd34e"/><stop offset="0.887" stop-color="#81d34d"/><stop offset="0.955" stop-color="#7fd34e"/><stop offset="1" stop-color="#75d054"/></linearGradient>
<linearGradient id="gi48" x1="0" y1="0" x2="0" y2="1"><stop offset="0" stop-color="#67cc5c"/><stop offset="0.068" stop-color="#60ca60"/><stop offset="0.136" stop-color="#56c667"/><stop offset="0.175" stop-color="#4cc26c"/><stop offset="0.202" stop-color="#42be71"/><stop offset="0.205" stop-color="#42be71"/><stop offset="0.229" stop-color="#38b977"/><stop offset="0.256" stop-color="#2fb47c"/><stop offset="0.273" stop-color="#29af7f"/><stop offset="0.284" stop-color="#25ac82"/><stop offset="0.311" stop-color="#1fa188"/><stop offset="0.325" stop-color="#1f9a8a"/><stop offset="0.338" stop-color="#21908d"/><stop offset="0.341" stop-color="#228d8d"/><stop offset="0.352" stop-color="#25838e"/><stop offset="0.366" stop-color="#2a768e"/><stop offset="0.379" stop-color="#34618d"/><stop offset="0.386" stop-color="#39558c"/><stop offset="0.393" stop-color="#3e4989"/><stop offset="0.4" stop-color="#39558c"/><stop offset="0.407" stop-color="#34618d"/><stop offset="0.409" stop-color="#32658e"/><stop offset="0.42" stop-color="#2a768e"/><stop offset="0.434" stop-color="#25848e"/><stop offset="0.447" stop-color="#21908d"/><stop offset="0.461" stop-color="#1f9a8a"/><stop offset="0.475" stop-color="#1fa187"/><stop offset="0.477" stop-color="#1fa287"/><stop offset="0.502" stop-color="#26ad81"/><stop offset="0.529" stop-color="#31b57b"/><stop offset="0.546" stop-color="#37b878"/><stop offset="0.557" stop-color="#3bbb75"/><stop offset="0.584" stop-color="#48c16e"/><stop offset="0.611" stop-color="#50c46a"/><stop offset="0.614" stop-color="#52c569"/><stop offset="0.682" stop-color="#65cb5e"/><stop offset="0.75" stop-color="#75d054"/><stop offset="0.819" stop-color="#7fd34e"/><stop offset="0.887" stop-color="#81d34d"/><stop offset="0.955" stop-color="#7cd250"/><stop offset="1" stop-color="#75d054"/></linearGradient>
<linearGradient id="gi49" x1="0" y1="0" x2="0" y2="1"><stop offset="0" stop-color="#67cc5c"/><stop offset="0.068" stop-color="#60ca60"/><stop offset="0.136" stop-color="#56c667"/><stop offset="0.184" stop-color="#4ac16d"/><stop offset="0.205" stop-color="#44bf70"/><stop offset="0.211" stop-color="#42be71"/><stop offset="0.239" stop-color="#38b977"/><stop offset="0.266" stop-color="#2fb47c"/><stop offset="0.273" stop-color="#2db27d"/><stop offset="0.293" stop-color="#25ac82"/><stop offset="0.321" stop-color="#1fa188"/><stop offset="0.334" stop-color="#1f9a8a"/><stop offset="0.341" stop-color="#1f958b"/><stop offset="0.348" stop-color="#21908d"/><stop offset="0.362" stop-color="#25848e"/><stop offset="0.375" stop-color="#2a768e"/><stop offset="0.389" stop-color="#33628d"/><stop offset="0.396" stop-color="#38588c"/><stop offset="0.402" stop-color="#3d4e8a"/><stop offset="0.409" stop-color="#38598c"/><stop offset="0.416" stop-color="#32648e"/><stop offset="0.43" stop-color="#2a778e"/><stop offset="0.443" stop-color="#25858e"/><stop offset="0.457" stop-color="#21918c"/><stop offset="0.471" stop-color="#1e9b8a"/><stop offset="0.477" stop-color="#1f9f88"/><stop offset="0.484" stop-color="#1fa187"/><stop offset="0.512" stop-color="#26ad81"/><stop offset="0.539" stop-color="#31b57b"/><stop offset="0.546" stop-color="#34b679"/><stop offset="0.566" stop-color="#3bbb75"/><stop offset="0.593" stop-color="#46c06f"/><stop offset="0.614" stop-color="#4ec36b"/><stop offset="0.621" stop-color="#50c46a"/><stop offset="0.682" stop-color="#63cb5f"/><stop offset="0.75" stop-color="#73d056"/><stop offset="0.819" stop-color="#7cd250"/><stop offset="0.887" stop-color="#81d34d"/><stop offset="0.955" stop-color="#7cd250"/><stop offset="1" stop-color="#75d054"/></linearGradient>
<linearGradient id="gi50" x1="0" y1="0" x2="0" y2="1"><stop offset="0" stop-color="#69cd5b"/><stop offset="0.068" stop-color="#63cb5f"/><stop offset="0.136" stop-color="#58c765"/><stop offset="0.194" stop-color="#4ac16d"/><stop offset="0.205" stop-color="#48c16e"/><stop offset="0.221" stop-color="#42be71"/><stop offset="0.248" stop-color="#38b977"/><stop offset="0.273" stop-color="#2fb47c"/><stop offset="0.276" stop-color="#2fb47c"/><stop offset="0.303" stop-color="#25ac82"/><stop offset="0.33" stop-color="#1fa188"/><stop offset="0.341" stop-color="#1e9c89"/><stop offset="0.344" stop-color="#1e9b8a"/><stop offset="0.357" stop-color="#21918c"/><stop offset="0.371" stop-color="#25858e"/><stop offset="0.385" stop-color="#2a788e"/><stop offset="0.398" stop-color="#32658e"/><stop offset="0.405" stop-color="#375b8d"/><stop offset="0.409" stop-color="#3a548c"/><stop offset="0.412" stop-color="#3c508b"/><stop offset="0.419" stop-color="#375b8d"/><stop offset="0.426" stop-color="#32658e"/><stop offset="0.439" stop-color="#2a788e"/><stop offset="0.453" stop-color="#25858e"/><stop offset="0.467" stop-color="#21918c"/><stop offset="0.477" stop-color="#1f998a"/><stop offset="0.48" stop-color="#1e9b8a"/><stop offset="0.494" stop-color="#1fa187"/><stop offset="0.521" stop-color="#26ad81"/><stop offset="0.546" stop-color="#2fb47c"/><stop offset="0.548" stop-color="#31b57b"/><stop offset="0.576" stop-color="#3bbb75"/><stop offset="0.603" stop-color="#46c06f"/><stop offset="0.614" stop-color="#4ac16d"/><stop offset="0.63" stop-color="#50c46a"/><stop offset="0.682" stop-color="#60ca60"/><stop offset="0.75" stop-color="#70cf57"/><stop offset="0.819" stop-color="#7ad151"/><stop offset="0.887" stop-color="#7fd34e"/><stop offset="0.955" stop-color="#7cd250"/><stop offset="1" stop-color="#75d054"/></linearGradient>
<linearGradient id="gi51" x1="0" y1="0" x2="0" y2="1"><stop offset="0" stop-color="#69cd5b"/><stop offset="0.068" stop-color="#63cb5f"/><stop offset="0.136" stop-color="#5ac864"/><stop offset="0.205" stop-color="#4ac16d"/><stop offset="0.232" stop-color="#40bd72"/><stop offset="0.259" stop-color="#38b977"/><stop offset="0.273" stop-color="#34b679"/><stop offset="0.286" stop-color="#2fb47c"/><stop offset="0.314" stop-color="#26ad81"/><stop offset="0.341" stop-color="#1fa187"/><stop offset="0.355" stop-color="#1e9b8a"/><stop offset="0.368" stop-color="#21918c"/><stop offset="0.382" stop-color="#24868e"/><stop offset="0.396" stop-color="#29798e"/><stop offset="0.409" stop-color="#31678e"/><stop offset="0.416" stop-color="#355e8d"/><stop offset="0.423" stop-color="#3a538b"/><stop offset="0.43" stop-color="#365d8d"/><stop offset="0.437" stop-color="#31678e"/><stop offset="0.45" stop-color="#29798e"/><stop offset="0.464" stop-color="#24868e"/><stop offset="0.477" stop-color="#21918c"/><stop offset="0.491" stop-color="#1e9b8a"/><stop offset="0.505" stop-color="#1fa187"/><stop offset="0.532" stop-color="#27ad81"/><stop offset="0.546" stop-color="#2cb17e"/><stop offset="0.559" stop-color="#31b57b"/><stop offset="0.587" stop-color="#3bbb75"/><stop offset="0.614" stop-color="#46c06f"/><stop offset="0.641" stop-color="#50c46a"/><stop offset="0.682" stop-color="#5cc863"/><stop offset="0.75" stop-color="#6ccd5a"/><stop offset="0.819" stop-color="#77d153"/><stop offset="0.887" stop-color="#7fd34e"/><stop offset="0.955" stop-color="#7ad151"/><stop offset="1" stop-color="#75d054"/></linearGradient>
<linearGradient id="gi52" x1="0" y1="0" x2="0" y2="1"><stop offset="0" stop-color="#6ccd5a"/><stop offset="0.068" stop-color="#65cb5e"/><stop offset="0.136" stop-color="#5cc863"/><stop offset="0.205" stop-color="#4ec36b"/><stop offset="0.217" stop-color="#4ac16d"/><stop offset="0.244" stop-color="#40bd72"/><stop offset="0.271" stop-color="#38b977"/><stop offset="0.273" stop-color="#38b977"/><stop offset="0.299" stop-color="#2eb37c"/><stop offset="0.326" stop-color="#26ad81"/><stop offset="0.341" stop-color="#21a685"/><stop offset="0.353" stop-color="#1fa187"/><stop offset="0.367" stop-color="#1e9b8a"/><stop offset="0.381" stop-color="#21918c"/><stop offset="0.394" stop-color="#24878e"/><stop offset="0.408" stop-color="#297a8e"/><stop offset="0.409" stop-color="#2a788e"/><stop offset="0.422" stop-color="#30698e"/><stop offset="0.428" stop-color="#34608d"/><stop offset="0.435" stop-color="#38588c"/><stop offset="0.442" stop-color="#34618d"/><stop offset="0.449" stop-color="#306a8e"/><stop offset="0.462" stop-color="#297b8e"/><stop offset="0.476" stop-color="#23888e"/><stop offset="0.477" stop-color="#23898e"/><stop offset="0.49" stop-color="#20928c"/><stop offset="0.503" stop-color="#1e9c89"/><stop offset="0.517" stop-color="#1fa287"/><stop offset="0.544" stop-color="#27ad81"/><stop offset="0.546" stop-color="#27ad81"/><stop offset="0.572" stop-color="#31b57b"/><stop offset="0.599" stop-color="#3bbb75"/><stop offset="0.614" stop-color="#40bd72"/><stop offset="0.626" stop-color="#44bf70"/><stop offset="0.653" stop-color="#50c46a"/><stop offset="0.682" stop-color="#58c765"/><stop offset="0.75" stop-color="#69cd5b"/><stop offset="0.819" stop-color="#75d054"/><stop offset="0.887" stop-color="#7cd250"/><stop offset="0.955" stop-color="#7ad151"/><stop offset="1" stop-color="#73d056"/></linearGradient>
<linearGradient id="gi53" x1="0" y1="0" x2="0" y2="1"><stop offset="0" stop-color="#6ccd5a"/><stop offset="0.068" stop-color="#67cc5c"/><stop offset="0.136" stop-color="#5ec962"/><stop offset="0.205" stop-color="#50c46a"/><stop offset="0.229" stop-color="#4ac16d"/><stop offset="0.256" stop-color="#40bd72"/><stop offset="0.273" stop-color="#3bbb75"/><stop offset="0.284" stop-color="#38b977"/><stop offset="0.311" stop-color="#2fb47c"/><stop offset="0.338" stop-color="#26ad81"/><stop offset="0.341" stop-color="#25ac82"/><stop offset="0.366" stop-color="#1fa287"/><stop offset="0.379" stop-color="#1e9b8a"/><stop offset="0.393" stop-color="#20928c"/><stop offset="0.407" stop-color="#23898e"/><stop offset="0.409" stop-color="#24878e"/><stop offset="0.42" stop-color="#287c8e"/><stop offset="0.434" stop-color="#2f6b8e"/><stop offset="0.441" stop-color="#33638d"/><stop offset="0.447" stop-color="#375a8c"/><stop offset="0.454" stop-color="#33638d"/><stop offset="0.461" stop-color="#2f6b8e"/><stop offset="0.475" stop-color="#287c8e"/><stop offset="0.477" stop-color="#277f8e"/><stop offset="0.488" stop-color="#23898e"/><stop offset="0.502" stop-color="#20928c"/><stop offset="0.516" stop-color="#1e9c89"/><stop offset="0.529" stop-color="#1fa287"/><stop offset="0.546" stop-color="#23a983"/><stop offset="0.557" stop-color="#27ad81"/><stop offset="0.584" stop-color="#31b57b"/><stop offset="0.611" stop-color="#3bbb75"/><stop offset="0.614" stop-color="#3bbb75"/><stop offset="0.638" stop-color="#44bf70"/><stop offset="0.666" stop-color="#50c46a"/><stop offset="0.682" stop-color="#54c568"/><stop offset="0.75" stop-color="#67cc5c"/><stop offset="0.819" stop-color="#73d056"/><stop offset="0.887" stop-color="#7ad151"/><stop offset="0.955" stop-color="#7ad151"/><stop offset="1" stop-color="#73d056"/></linearGradient>
<linearGradient id="gi54" x1="0" y1="0" x2="0" y2="1"><stop offset="0" stop-color="#6ece58"/><stop offset="0.068" stop-color="#67cc5c"/><stop offset="0.136" stop-color="#60ca60"/><stop offset="0.205" stop-color="#54c568"/><stop offset="0.243" stop-color="#4ac16d"/><stop offset="0.27" stop-color="#40bd72"/><stop offset="0.273" stop-color="#40bd72"/><stop offset="0.297" stop-color="#38b977"/><stop offset="0.325" stop-color="#2fb47c"/><stop offset="0.341" stop-color="#2ab07f"/><stop offset="0.352" stop-color="#26ad81"/><stop offset="0.379" stop-color="#1fa287"/><stop offset="0.393" stop-color="#1e9c89"/><stop offset="0.407" stop-color="#20928c"/><stop offset="0.409" stop-color="#21918c"/><stop offset="0.42" stop-color="#238a8d"/><stop offset="0.434" stop-color="#287d8e"/><stop offset="0.447" stop-color="#2e6e8e"/><stop offset="0.454" stop-color="#31668e"/><stop offset="0.461" stop-color="#365d8d"/><stop offset="0.468" stop-color="#32658e"/><stop offset="0.475" stop-color="#2e6d8e"/><stop offset="0.477" stop-color="#2d718e"/><stop offset="0.488" stop-color="#287d8e"/><stop offset="0.502" stop-color="#238a8d"/><stop offset="0.516" stop-color="#20928c"/><stop offset="0.529" stop-color="#1e9c89"/><stop offset="0.543" stop-color="#20a386"/><stop offset="0.546" stop-color="#20a486"/><stop offset="0.57" stop-color="#27ad81"/><stop offset="0.598" stop-color="#31b57b"/><stop offset="0.614" stop-color="#37b878"/><stop offset="0.625" stop-color="#3bbb75"/><stop offset="0.652" stop-color="#44bf70"/><stop offset="0.679" stop-color="#4ec36b"/><stop offset="0.682" stop-color="#50c46a"/><stop offset="0.75" stop-color="#63cb5f"/><stop offset="0.819" stop-color="#70cf57"/><stop offset="0.887" stop-color="#77d153"/><stop offset="0.955" stop-color="#7ad151"/><stop offset="1" stop-color="#73d056"/></linearGradient>
<linearGradient id="gi55" x1="0" y1="0" x2="0" y2="1"><stop offset="0" stop-color="#70cf57"/><stop offset="0.068" stop-color="#69cd5b"/><stop offset="0.136" stop-color="#63cb5f"/><stop offset="0.205" stop-color="#56c667"/><stop offset="0.258" stop-color="#4ac16d"/><stop offset="0.273" stop-color="#44bf70"/><stop offset="0.285" stop-color="#40bd72"/><stop offset="0.312" stop-color="#3aba76"/><stop offset="0.34" stop-color="#2fb47c"/><stop offset="0.341" stop-color="#2fb47c"/><stop offset="0.367" stop-color="#26ad81"/><stop offset="0.394" stop-color="#20a386"/><stop offset="0.408" stop-color="#1e9c89"/><stop offset="0.409" stop-color="#1e9b8a"/><stop offset="0.422" stop-color="#20938c"/><stop offset="0.435" stop-color="#228b8d"/><stop offset="0.449" stop-color="#277e8e"/><stop offset="0.462" stop-color="#2d708e"/><stop offset="0.469" stop-color="#31688e"/><stop offset="0.476" stop-color="#34618d"/><stop offset="0.477" stop-color="#33628d"/><stop offset="0.483" stop-color="#31688e"/><stop offset="0.49" stop-color="#2d708e"/><stop offset="0.503" stop-color="#277f8e"/><stop offset="0.517" stop-color="#228b8d"/><stop offset="0.531" stop-color="#20938c"/><stop offset="0.544" stop-color="#1e9c89"/><stop offset="0.546" stop-color="#1e9d89"/><stop offset="0.558" stop-color="#20a486"/><stop offset="0.585" stop-color="#27ad81"/><stop offset="0.613" stop-color="#31b57b"/><stop offset="0.614" stop-color="#31b57b"/><stop offset="0.64" stop-color="#3bbb75"/><stop offset="0.667" stop-color="#44bf70"/><stop offset="0.682" stop-color="#4ac16d"/><stop offset="0.694" stop-color="#4ec36b"/><stop offset="0.75" stop-color="#5ec962"/><stop offset="0.819" stop-color="#6ccd5a"/><stop offset="0.887" stop-color="#75d054"/><stop offset="0.955" stop-color="#77d153"/><stop offset="1" stop-color="#73d056"/></linearGradient>
<linearGradient id="gi56" x1="0" y1="0" x2="0" y2="1"><stop offset="0" stop-color="#70cf57"/><stop offset="0.068" stop-color="#6ccd5a"/><stop offset="0.136" stop-color="#65cb5e"/><stop offset="0.205" stop-color="#5ac864"/><stop offset="0.273" stop-color="#4ac16d"/><stop offset="0.3" stop-color="#42be71"/><stop offset="0.327" stop-color="#3aba76"/><stop offset="0.341" stop-color="#35b779"/><stop offset="0.355" stop-color="#31b57b"/><stop offset="0.382" stop-color="#27ad81"/><stop offset="0.409" stop-color="#20a486"/><stop offset="0.423" stop-color="#1e9d89"/><stop offset="0.437" stop-color="#1f948c"/><stop offset="0.45" stop-color="#228d8d"/><stop offset="0.464" stop-color="#26818e"/><stop offset="0.477" stop-color="#2c728e"/><stop offset="0.484" stop-color="#2f6c8e"/><stop offset="0.491" stop-color="#32648e"/><stop offset="0.498" stop-color="#306a8e"/><stop offset="0.505" stop-color="#2c718e"/><stop offset="0.518" stop-color="#27808e"/><stop offset="0.532" stop-color="#228c8d"/><stop offset="0.546" stop-color="#1f948c"/><stop offset="0.559" stop-color="#1e9d89"/><stop offset="0.573" stop-color="#20a486"/><stop offset="0.6" stop-color="#27ad81"/><stop offset="0.614" stop-color="#2db27d"/><stop offset="0.628" stop-color="#31b57b"/><stop offset="0.655" stop-color="#3bbb75"/><stop offset="0.682" stop-color="#44bf70"/><stop offset="0.709" stop-color="#4ec36b"/><stop offset="0.75" stop-color="#5ac864"/><stop offset="0.819" stop-color="#69cd5b"/><stop offset="0.887" stop-color="#73d056"/><stop offset="0.955" stop-color="#75d054"/><stop offset="1" stop-color="#73d056"/></linearGradient>
<linearGradient id="gi57" x1="0" y1="0" x2="0" y2="1"><stop offset="0" stop-color="#73d056"/><stop offset="0.068" stop-color="#6ece58"/><stop offset="0.136" stop-color="#67cc5c"/><stop offset="0.205" stop-color="#5ec962"/><stop offset="0.273" stop-color="#4ec36b"/><stop offset="0.291" stop-color="#4ac16d"/><stop offset="0.318" stop-color="#42be71"/><stop offset="0.341" stop-color="#3bbb75"/><stop offset="0.345" stop-color="#3aba76"/><stop offset="0.372" stop-color="#31b57b"/><stop offset="0.4" stop-color="#27ad81"/><stop offset="0.409" stop-color="#25ab82"/><stop offset="0.427" stop-color="#20a486"/><stop offset="0.441" stop-color="#1e9d89"/><stop offset="0.454" stop-color="#1f958b"/><stop offset="0.468" stop-color="#218e8d"/><stop offset="0.477" stop-color="#25858e"/><stop offset="0.482" stop-color="#26818e"/><stop offset="0.495" stop-color="#2c738e"/><stop offset="0.502" stop-color="#2e6e8e"/><stop offset="0.509" stop-color="#31688e"/><stop offset="0.516" stop-color="#2e6f8e"/><stop offset="0.523" stop-color="#2b758e"/><stop offset="0.536" stop-color="#26828e"/><stop offset="0.546" stop-color="#228b8d"/><stop offset="0.55" stop-color="#218f8d"/><stop offset="0.563" stop-color="#1f968b"/><stop offset="0.577" stop-color="#1f9e89"/><stop offset="0.591" stop-color="#21a585"/><stop offset="0.614" stop-color="#26ad81"/><stop offset="0.618" stop-color="#28ae80"/><stop offset="0.645" stop-color="#32b67a"/><stop offset="0.673" stop-color="#3bbb75"/><stop offset="0.682" stop-color="#3fbc73"/><stop offset="0.7" stop-color="#44bf70"/><stop offset="0.727" stop-color="#4ec36b"/><stop offset="0.75" stop-color="#56c667"/><stop offset="0.819" stop-color="#65cb5e"/><stop offset="0.887" stop-color="#70cf57"/><stop offset="0.955" stop-color="#75d054"/><stop offset="1" stop-color="#70cf57"/></linearGradient>
<linearGradient id="gi58" x1="0" y1="0" x2="0" y2="1"><stop offset="0" stop-color="#75d054"/><stop offset="0.068" stop-color="#73d056"/><stop offset="0.136" stop-color="#69cd5b"/><stop offset="0.205" stop-color="#60ca60"/><stop offset="0.273" stop-color="#54c568"/><stop offset="0.308" stop-color="#4ac16d"/><stop offset="0.336" stop-color="#42be71"/><stop offset="0.341" stop-color="#40bd72"/><stop offset="0.363" stop-color="#3aba76"/><stop offset="0.39" stop-color="#32b67a"/><stop offset="0.409" stop-color="#2ab07f"/><stop offset="0.417" stop-color="#27ad81"/><stop offset="0.445" stop-color="#21a585"/><stop offset="0.458" stop-color="#1f9e89"/><stop offset="0.472" stop-color="#1f968b"/><stop offset="0.477" stop-color="#20938c"/><stop offset="0.486" stop-color="#21908d"/><stop offset="0.499" stop-color="#26828e"/><stop offset="0.513" stop-color="#2a768e"/><stop offset="0.52" stop-color="#2d718e"/><stop offset="0.527" stop-color="#2f6b8e"/><stop offset="0.533" stop-color="#2c718e"/><stop offset="0.54" stop-color="#2a778e"/><stop offset="0.546" stop-color="#287d8e"/><stop offset="0.554" stop-color="#25848e"/><stop offset="0.568" stop-color="#21908d"/><stop offset="0.581" stop-color="#1f978b"/><stop offset="0.595" stop-color="#1f9f88"/><stop offset="0.608" stop-color="#21a585"/><stop offset="0.614" stop-color="#22a884"/><stop offset="0.636" stop-color="#28ae80"/><stop offset="0.663" stop-color="#34b679"/><stop offset="0.682" stop-color="#3aba76"/><stop offset="0.69" stop-color="#3bbb75"/><stop offset="0.718" stop-color="#46c06f"/><stop offset="0.745" stop-color="#4ec36b"/><stop offset="0.75" stop-color="#50c46a"/><stop offset="0.819" stop-color="#60ca60"/><stop offset="0.887" stop-color="#6ece58"/><stop offset="0.955" stop-color="#73d056"/><stop offset="1" stop-color="#70cf57"/></linearGradient>
<linearGradient id="gi59" x1="0" y1="0" x2="0" y2="1"><stop offset="0" stop-color="#7ad151"/><stop offset="0.068" stop-color="#75d054"/><stop offset="0.136" stop-color="#6ece58"/><stop offset="0.205" stop-color="#65cb5e"/><stop offset="0.273" stop-color="#5ac864"/><stop offset="0.326" stop-color="#4cc26c"/><stop offset="0.341" stop-color="#48c16e"/><stop offset="0.353" stop-color="#44bf70"/><stop offset="0.381" stop-color="#3bbb75"/><stop offset="0.408" stop-color="#34b679"/><stop offset="0.409" stop-color="#32b67a"/><stop offset="0.435" stop-color="#29af7f"/><stop offset="0.462" stop-color="#21a685"/><stop offset="0.476" stop-color="#1fa088"/><stop offset="0.477" stop-color="#1f9f88"/><stop offset="0.49" stop-color="#1f988b"/><stop offset="0.503" stop-color="#20928c"/><stop offset="0.517" stop-color="#24868e"/><stop offset="0.531" stop-color="#297a8e"/><stop offset="0.538" stop-color="#2b748e"/><stop offset="0.544" stop-color="#2e6f8e"/><stop offset="0.546" stop-color="#2e6f8e"/><stop offset="0.551" stop-color="#2c738e"/><stop offset="0.558" stop-color="#29798e"/><stop offset="0.572" stop-color="#25858e"/><stop offset="0.585" stop-color="#21918c"/><stop offset="0.599" stop-color="#1f988b"/><stop offset="0.613" stop-color="#1f9f88"/><stop offset="0.614" stop-color="#1fa088"/><stop offset="0.626" stop-color="#21a685"/><stop offset="0.653" stop-color="#29af7f"/><stop offset="0.681" stop-color="#34b679"/><stop offset="0.682" stop-color="#34b679"/><stop offset="0.708" stop-color="#3dbc74"/><stop offset="0.735" stop-color="#46c06f"/><stop offset="0.75" stop-color="#4ac16d"/><stop offset="0.763" stop-color="#4ec36b"/><stop offset="0.819" stop-color="#5ec962"/><stop offset="0.887" stop-color="#6ccd5a"/><stop offset="0.955" stop-color="#70cf57"/><stop offset="1" stop-color="#6ece58"/></linearGradient>
<linearGradient id="gi60" x1="0" y1="0" x2="0" y2="1"><stop offset="0" stop-color="#7fd34e"/><stop offset="0.068" stop-color="#7ad151"/><stop offset="0.136" stop-color="#73d056"/><stop offset="0.205" stop-color="#6ccd5a"/><stop offset="0.273" stop-color="#5ec962"/><stop offset="0.341" stop-color="#4ec36b"/><stop offset="0.347" stop-color="#4cc26c"/><stop offset="0.374" stop-color="#46c06f"/><stop offset="0.401" stop-color="#3dbc74"/><stop offset="0.409" stop-color="#3aba76"/><stop offset="0.428" stop-color="#34b679"/><stop offset="0.456" stop-color="#29af7f"/><stop offset="0.477" stop-color="#23a983"/><stop offset="0.483" stop-color="#21a685"/><stop offset="0.497" stop-color="#1fa188"/><stop offset="0.51" stop-color="#1f9a8a"/><stop offset="0.524" stop-color="#20928c"/><stop offset="0.538" stop-color="#24878e"/><stop offset="0.546" stop-color="#26818e"/><stop offset="0.551" stop-color="#287c8e"/><stop offset="0.558" stop-color="#2a778e"/><stop offset="0.565" stop-color="#2c718e"/><stop offset="0.572" stop-color="#2a778e"/><stop offset="0.578" stop-color="#287d8e"/><stop offset="0.592" stop-color="#23888e"/><stop offset="0.606" stop-color="#20928c"/><stop offset="0.614" stop-color="#1f978b"/><stop offset="0.619" stop-color="#1f9a8a"/><stop offset="0.633" stop-color="#1fa188"/><stop offset="0.647" stop-color="#22a785"/><stop offset="0.674" stop-color="#2ab07f"/><stop offset="0.682" stop-color="#2db27d"/><stop offset="0.701" stop-color="#35b779"/><stop offset="0.729" stop-color="#3dbc74"/><stop offset="0.75" stop-color="#44bf70"/><stop offset="0.756" stop-color="#46c06f"/><stop offset="0.783" stop-color="#4ec36b"/><stop offset="0.819" stop-color="#58c765"/><stop offset="0.887" stop-color="#67cc5c"/><stop offset="0.955" stop-color="#70cf57"/><stop offset="1" stop-color="#6ece58"/></linearGradient>
<linearGradient id="gi61" x1="0" y1="0" x2="0" y2="1"><stop offset="0" stop-color="#84d44b"/><stop offset="0.068" stop-color="#7fd34e"/><stop offset="0.136" stop-color="#77d153"/><stop offset="0.205" stop-color="#70cf57"/><stop offset="0.273" stop-color="#65cb5e"/><stop offset="0.341" stop-color="#56c667"/><stop offset="0.367" stop-color="#50c46a"/><stop offset="0.394" stop-color="#48c16e"/><stop offset="0.409" stop-color="#42be71"/><stop offset="0.422" stop-color="#3fbc73"/><stop offset="0.449" stop-color="#35b779"/><stop offset="0.476" stop-color="#2cb17e"/><stop offset="0.477" stop-color="#2cb17e"/><stop offset="0.503" stop-color="#22a884"/><stop offset="0.517" stop-color="#1fa287"/><stop offset="0.531" stop-color="#1e9c89"/><stop offset="0.544" stop-color="#1f948c"/><stop offset="0.546" stop-color="#20938c"/><stop offset="0.558" stop-color="#238a8d"/><stop offset="0.572" stop-color="#27808e"/><stop offset="0.578" stop-color="#297b8e"/><stop offset="0.585" stop-color="#2b758e"/><stop offset="0.592" stop-color="#297a8e"/><stop offset="0.599" stop-color="#27808e"/><stop offset="0.613" stop-color="#238a8d"/><stop offset="0.614" stop-color="#228b8d"/><stop offset="0.626" stop-color="#1f948c"/><stop offset="0.64" stop-color="#1e9c89"/><stop offset="0.653" stop-color="#1fa187"/><stop offset="0.667" stop-color="#22a884"/><stop offset="0.682" stop-color="#27ad81"/><stop offset="0.694" stop-color="#2cb17e"/><stop offset="0.722" stop-color="#35b779"/><stop offset="0.749" stop-color="#3fbc73"/><stop offset="0.75" stop-color="#3fbc73"/><stop offset="0.776" stop-color="#48c16e"/><stop offset="0.804" stop-color="#50c46a"/><stop offset="0.819" stop-color="#52c569"/><stop offset="0.887" stop-color="#65cb5e"/><stop offset="0.955" stop-color="#6ece58"/><stop offset="1" stop-color="#6ccd5a"/></linearGradient>
<linearGradient id="gi62" x1="0" y1="0" x2="0" y2="1"><stop offset="0" stop-color="#8bd646"/><stop offset="0.068" stop-color="#86d549"/><stop offset="0.136" stop-color="#7fd34e"/><stop offset="0.205" stop-color="#77d153"/><stop offset="0.273" stop-color="#6ccd5a"/><stop offset="0.341" stop-color="#5ec962"/><stop offset="0.389" stop-color="#52c569"/><stop offset="0.409" stop-color="#4cc26c"/><stop offset="0.416" stop-color="#4ac16d"/><stop offset="0.443" stop-color="#42be71"/><stop offset="0.471" stop-color="#38b977"/><stop offset="0.477" stop-color="#35b779"/><stop offset="0.498" stop-color="#2eb37c"/><stop offset="0.525" stop-color="#24aa83"/><stop offset="0.539" stop-color="#20a486"/><stop offset="0.546" stop-color="#1fa187"/><stop offset="0.553" stop-color="#1f9f88"/><stop offset="0.566" stop-color="#1f978b"/><stop offset="0.58" stop-color="#228d8d"/><stop offset="0.593" stop-color="#25838e"/><stop offset="0.6" stop-color="#277f8e"/><stop offset="0.607" stop-color="#29798e"/><stop offset="0.614" stop-color="#277e8e"/><stop offset="0.621" stop-color="#25838e"/><stop offset="0.634" stop-color="#228d8d"/><stop offset="0.648" stop-color="#1f968b"/><stop offset="0.662" stop-color="#1f9e89"/><stop offset="0.675" stop-color="#20a386"/><stop offset="0.682" stop-color="#21a685"/><stop offset="0.689" stop-color="#23a983"/><stop offset="0.716" stop-color="#2db27d"/><stop offset="0.744" stop-color="#37b878"/><stop offset="0.75" stop-color="#3aba76"/><stop offset="0.771" stop-color="#40bd72"/><stop offset="0.798" stop-color="#48c16e"/><stop offset="0.819" stop-color="#50c46a"/><stop offset="0.825" stop-color="#50c46a"/><stop offset="0.887" stop-color="#60ca60"/><stop offset="0.955" stop-color="#6ccd5a"/><stop offset="1" stop-color="#6ccd5a"/></linearGradient>
<linearGradient id="gi63" x1="0" y1="0" x2="0" y2="1"><stop offset="0" stop-color="#93d741"/><stop offset="0.068" stop-color="#8ed645"/><stop offset="0.136" stop-color="#89d548"/><stop offset="0.205" stop-color="#81d34d"/><stop offset="0.273" stop-color="#75d054"/><stop offset="0.341" stop-color="#67cc5c"/><stop offset="0.409" stop-color="#58c765"/><stop offset="0.412" stop-color="#56c667"/><stop offset="0.439" stop-color="#4ec36b"/><stop offset="0.467" stop-color="#46c06f"/><stop offset="0.477" stop-color="#42be71"/><stop offset="0.494" stop-color="#3bbb75"/><stop offset="0.521" stop-color="#31b57b"/><stop offset="0.546" stop-color="#26ad81"/><stop offset="0.548" stop-color="#25ac82"/><stop offset="0.562" stop-color="#21a685"/><stop offset="0.576" stop-color="#1fa188"/><stop offset="0.589" stop-color="#1f9a8a"/><stop offset="0.603" stop-color="#21918c"/><stop offset="0.614" stop-color="#23898e"/><stop offset="0.617" stop-color="#24878e"/><stop offset="0.623" stop-color="#26828e"/><stop offset="0.63" stop-color="#277e8e"/><stop offset="0.637" stop-color="#26828e"/><stop offset="0.644" stop-color="#24878e"/><stop offset="0.658" stop-color="#21918c"/><stop offset="0.671" stop-color="#1f998a"/><stop offset="0.682" stop-color="#1fa088"/><stop offset="0.685" stop-color="#1fa188"/><stop offset="0.698" stop-color="#21a685"/><stop offset="0.712" stop-color="#25ab82"/><stop offset="0.739" stop-color="#2fb47c"/><stop offset="0.75" stop-color="#34b679"/><stop offset="0.767" stop-color="#3aba76"/><stop offset="0.794" stop-color="#42be71"/><stop offset="0.819" stop-color="#4ac16d"/><stop offset="0.821" stop-color="#4cc26c"/><stop offset="0.849" stop-color="#54c568"/><stop offset="0.887" stop-color="#5cc863"/><stop offset="0.955" stop-color="#6ccd5a"/><stop offset="1" stop-color="#69cd5b"/></linearGradient>
<linearGradient id="gi64" x1="0" y1="0" x2="0" y2="1"><stop offset="0" stop-color="#a0da39"/><stop offset="0.068" stop-color="#9bd93c"/><stop offset="0.136" stop-color="#93d741"/><stop offset="0.205" stop-color="#8bd646"/><stop offset="0.273" stop-color="#81d34d"/><stop offset="0.341" stop-color="#75d054"/><stop offset="0.409" stop-color="#63cb5f"/><stop offset="0.437" stop-color="#5cc863"/><stop offset="0.464" stop-color="#54c568"/><stop offset="0.477" stop-color="#50c46a"/><stop offset="0.491" stop-color="#4cc26c"/><stop offset="0.518" stop-color="#40bd72"/><stop offset="0.546" stop-color="#35b779"/><stop offset="0.573" stop-color="#28ae80"/><stop offset="0.587" stop-color="#23a983"/><stop offset="0.6" stop-color="#20a486"/><stop offset="0.614" stop-color="#1e9d89"/><stop offset="0.628" stop-color="#1f948c"/><stop offset="0.641" stop-color="#228b8d"/><stop offset="0.648" stop-color="#24878e"/><stop offset="0.655" stop-color="#25838e"/><stop offset="0.662" stop-color="#24878e"/><stop offset="0.668" stop-color="#228c8d"/><stop offset="0.682" stop-color="#1f948c"/><stop offset="0.696" stop-color="#1e9d89"/><stop offset="0.709" stop-color="#20a386"/><stop offset="0.723" stop-color="#23a983"/><stop offset="0.737" stop-color="#27ad81"/><stop offset="0.75" stop-color="#2db27d"/><stop offset="0.764" stop-color="#34b679"/><stop offset="0.791" stop-color="#3dbc74"/><stop offset="0.819" stop-color="#46c06f"/><stop offset="0.846" stop-color="#4ec36b"/><stop offset="0.873" stop-color="#58c765"/><stop offset="0.887" stop-color="#5ac864"/><stop offset="0.955" stop-color="#69cd5b"/><stop offset="1" stop-color="#69cd5b"/></linearGradient>
<linearGradient id="gi65" x1="0" y1="0" x2="0" y2="1"><stop offset="0" stop-color="#b2dd2d"/><stop offset="0.068" stop-color="#aadc32"/><stop offset="0.136" stop-color="#a2da37"/><stop offset="0.205" stop-color="#9bd93c"/><stop offset="0.273" stop-color="#90d743"/><stop offset="0.341" stop-color="#84d44b"/><stop offset="0.409" stop-color="#73d056"/><stop offset="0.461" stop-color="#65cb5e"/><stop offset="0.477" stop-color="#5ec962"/><stop offset="0.488" stop-color="#5cc863"/><stop offset="0.516" stop-color="#52c569"/><stop offset="0.543" stop-color="#46c06f"/><stop offset="0.546" stop-color="#46c06f"/><stop offset="0.57" stop-color="#3bbb75"/><stop offset="0.598" stop-color="#2db27d"/><stop offset="0.611" stop-color="#27ad81"/><stop offset="0.614" stop-color="#26ad81"/><stop offset="0.625" stop-color="#23a983"/><stop offset="0.638" stop-color="#1fa187"/><stop offset="0.652" stop-color="#1f998a"/><stop offset="0.666" stop-color="#21918c"/><stop offset="0.673" stop-color="#228d8d"/><stop offset="0.679" stop-color="#23888e"/><stop offset="0.682" stop-color="#238a8d"/><stop offset="0.686" stop-color="#228c8d"/><stop offset="0.693" stop-color="#21918c"/><stop offset="0.707" stop-color="#1f988b"/><stop offset="0.72" stop-color="#1fa188"/><stop offset="0.734" stop-color="#22a785"/><stop offset="0.748" stop-color="#25ac82"/><stop offset="0.75" stop-color="#26ad81"/><stop offset="0.761" stop-color="#2ab07f"/><stop offset="0.789" stop-color="#38b977"/><stop offset="0.816" stop-color="#40bd72"/><stop offset="0.819" stop-color="#42be71"/><stop offset="0.843" stop-color="#4cc26c"/><stop offset="0.87" stop-color="#54c568"/><stop offset="0.887" stop-color="#58c765"/><stop offset="0.898" stop-color="#5cc863"/><stop offset="0.955" stop-color="#67cc5c"/><stop offset="1" stop-color="#6ccd5a"/></linearGradient>
<linearGradient id="gi66" x1="0" y1="0" x2="0" y2="1"><stop offset="0" stop-color="#c8e020"/><stop offset="0.068" stop-color="#c0df25"/><stop offset="0.136" stop-color="#b8de29"/><stop offset="0.205" stop-color="#b0dd2f"/><stop offset="0.273" stop-color="#a5db36"/><stop offset="0.341" stop-color="#98d83e"/><stop offset="0.409" stop-color="#86d549"/><stop offset="0.477" stop-color="#73d056"/><stop offset="0.487" stop-color="#70cf57"/><stop offset="0.514" stop-color="#67cc5c"/><stop offset="0.542" stop-color="#5cc863"/><stop offset="0.546" stop-color="#5ac864"/><stop offset="0.569" stop-color="#50c46a"/><stop offset="0.596" stop-color="#44bf70"/><stop offset="0.614" stop-color="#38b977"/><stop offset="0.623" stop-color="#34b679"/><stop offset="0.637" stop-color="#2db27d"/><stop offset="0.651" stop-color="#27ad81"/><stop offset="0.664" stop-color="#21a685"/><stop offset="0.678" stop-color="#1f9f88"/><stop offset="0.682" stop-color="#1e9c89"/><stop offset="0.692" stop-color="#1f978b"/><stop offset="0.698" stop-color="#20928c"/><stop offset="0.705" stop-color="#218f8d"/><stop offset="0.712" stop-color="#20928c"/><stop offset="0.719" stop-color="#1f968b"/><stop offset="0.733" stop-color="#1e9d89"/><stop offset="0.746" stop-color="#20a486"/><stop offset="0.75" stop-color="#22a785"/><stop offset="0.76" stop-color="#25ac82"/><stop offset="0.774" stop-color="#29af7f"/><stop offset="0.787" stop-color="#2fb47c"/><stop offset="0.814" stop-color="#3dbc74"/><stop offset="0.819" stop-color="#3fbc73"/><stop offset="0.842" stop-color="#48c16e"/><stop offset="0.869" stop-color="#52c569"/><stop offset="0.887" stop-color="#58c765"/><stop offset="0.896" stop-color="#5ac864"/><stop offset="0.924" stop-color="#63cb5f"/><stop offset="0.955" stop-color="#69cd5b"/><stop offset="1" stop-color="#6ccd5a"/></linearGradient>
<linearGradient id="gi67" x1="0" y1="0" x2="0" y2="1"><stop offset="0" stop-color="#e7e419"/><stop offset="0.068" stop-color="#dde318"/><stop offset="0.136" stop-color="#d5e21a"/><stop offset="0.205" stop-color="#cae11f"/><stop offset="0.273" stop-color="#c0df25"/><stop offset="0.341" stop-color="#b0dd2f"/><stop offset="0.409" stop-color="#a0da39"/><stop offset="0.477" stop-color="#8bd646"/><stop offset="0.514" stop-color="#7fd34e"/><stop offset="0.542" stop-color="#75d054"/><stop offset="0.546" stop-color="#73d056"/><stop offset="0.569" stop-color="#69cd5b"/><stop offset="0.596" stop-color="#5cc863"/><stop offset="0.614" stop-color="#56c667"/><stop offset="0.623" stop-color="#50c46a"/><stop offset="0.651" stop-color="#3dbc74"/><stop offset="0.664" stop-color="#35b779"/><stop offset="0.678" stop-color="#2fb47c"/><stop offset="0.682" stop-color="#2db27d"/><stop offset="0.692" stop-color="#26ad81"/><stop offset="0.705" stop-color="#21a585"/><stop offset="0.719" stop-color="#1f9e89"/><stop offset="0.726" stop-color="#1f9a8a"/><stop offset="0.733" stop-color="#1f968b"/><stop offset="0.739" stop-color="#1f998a"/><stop offset="0.746" stop-color="#1e9d89"/><stop offset="0.75" stop-color="#1f9f88"/><stop offset="0.76" stop-color="#20a386"/><stop offset="0.774" stop-color="#24aa83"/><stop offset="0.787" stop-color="#2ab07f"/><stop offset="0.801" stop-color="#31b57b"/><stop offset="0.814" stop-color="#37b878"/><stop offset="0.819" stop-color="#38b977"/><stop offset="0.842" stop-color="#44bf70"/><stop offset="0.869" stop-color="#50c46a"/><stop offset="0.887" stop-color="#58c765"/><stop offset="0.896" stop-color="#5cc863"/><stop offset="0.924" stop-color="#65cb5e"/><stop offset="0.951" stop-color="#6ccd5a"/><stop offset="0.955" stop-color="#6ccd5a"/><stop offset="1" stop-color="#6ece58"/></linearGradient>
<linearGradient id="gi68" x1="0" y1="0" x2="0" y2="1"><stop offset="0" stop-color="#fde725"/><stop offset="0.068" stop-color="#fde725"/><stop offset="0.136" stop-color="#f8e621"/><stop offset="0.205" stop-color="#ece51b"/><stop offset="0.273" stop-color="#e2e418"/><stop offset="0.341" stop-color="#d2e21b"/><stop offset="0.409" stop-color="#c0df25"/><stop offset="0.477" stop-color="#aadc32"/><stop offset="0.543" stop-color="#93d741"/><stop offset="0.546" stop-color="#93d741"/><stop offset="0.57" stop-color="#89d548"/><stop offset="0.598" stop-color="#7cd250"/><stop offset="0.614" stop-color="#75d054"/><stop offset="0.625" stop-color="#6ece58"/><stop offset="0.652" stop-color="#5ec962"/><stop offset="0.679" stop-color="#4cc26c"/><stop offset="0.682" stop-color="#4ac16d"/><stop offset="0.693" stop-color="#42be71"/><stop offset="0.707" stop-color="#3bbb75"/><stop offset="0.72" stop-color="#2fb47c"/><stop offset="0.734" stop-color="#26ad81"/><stop offset="0.748" stop-color="#21a685"/><stop offset="0.75" stop-color="#20a486"/><stop offset="0.754" stop-color="#1fa287"/><stop offset="0.761" stop-color="#1f9f88"/><stop offset="0.768" stop-color="#1fa187"/><stop offset="0.775" stop-color="#20a486"/><stop offset="0.789" stop-color="#25ab82"/><stop offset="0.802" stop-color="#2cb17e"/><stop offset="0.816" stop-color="#34b679"/><stop offset="0.819" stop-color="#37b878"/><stop offset="0.829" stop-color="#3bbb75"/><stop offset="0.843" stop-color="#42be71"/><stop offset="0.87" stop-color="#52c569"/><stop offset="0.887" stop-color="#5ac864"/><stop offset="0.898" stop-color="#5ec962"/><stop offset="0.925" stop-color="#69cd5b"/><stop offset="0.952" stop-color="#70cf57"/><stop offset="0.955" stop-color="#70cf57"/><stop offset="0.98" stop-color="#73d056"/><stop offset="1" stop-color="#73d056"/></linearGradient>
<linearGradient id="gi69" x1="0" y1="0" x2="0" y2="1"><stop offset="0" stop-color="#fde725"/><stop offset="0.068" stop-color="#fde725"/><stop offset="0.136" stop-color="#fde725"/><stop offset="0.205" stop-color="#fde725"/><stop offset="0.273" stop-color="#fde725"/><stop offset="0.341" stop-color="#fbe723"/><stop offset="0.409" stop-color="#eae51a"/><stop offset="0.477" stop-color="#d5e21a"/><stop offset="0.546" stop-color="#bade28"/><stop offset="0.573" stop-color="#b0dd2f"/><stop offset="0.6" stop-color="#a5db36"/><stop offset="0.614" stop-color="#9dd93b"/><stop offset="0.628" stop-color="#95d840"/><stop offset="0.655" stop-color="#86d549"/><stop offset="0.682" stop-color="#75d054"/><stop offset="0.709" stop-color="#60ca60"/><stop offset="0.723" stop-color="#56c667"/><stop offset="0.737" stop-color="#4cc26c"/><stop offset="0.75" stop-color="#3fbc73"/><stop offset="0.764" stop-color="#32b67a"/><stop offset="0.778" stop-color="#29af7f"/><stop offset="0.784" stop-color="#25ac82"/><stop offset="0.791" stop-color="#23a983"/><stop offset="0.798" stop-color="#25ac82"/><stop offset="0.805" stop-color="#28ae80"/><stop offset="0.819" stop-color="#2fb47c"/><stop offset="0.832" stop-color="#38b977"/><stop offset="0.846" stop-color="#42be71"/><stop offset="0.859" stop-color="#4cc26c"/><stop offset="0.873" stop-color="#52c569"/><stop offset="0.887" stop-color="#5ac864"/><stop offset="0.9" stop-color="#63cb5f"/><stop offset="0.928" stop-color="#70cf57"/><stop offset="0.955" stop-color="#77d153"/><stop offset="0.982" stop-color="#7cd250"/><stop offset="1" stop-color="#7cd250"/></linearGradient>
<linearGradient id="gi70" x1="0" y1="0" x2="0" y2="1"><stop offset="0" stop-color="#fde725"/><stop offset="0.068" stop-color="#fde725"/><stop offset="0.136" stop-color="#fde725"/><stop offset="0.205" stop-color="#fde725"/><stop offset="0.273" stop-color="#fde725"/><stop offset="0.341" stop-color="#fde725"/><stop offset="0.409" stop-color="#fde725"/><stop offset="0.477" stop-color="#fde725"/><stop offset="0.546" stop-color="#ece51b"/><stop offset="0.604" stop-color="#d5e21a"/><stop offset="0.614" stop-color="#d0e11c"/><stop offset="0.632" stop-color="#c8e020"/><stop offset="0.659" stop-color="#b8de29"/><stop offset="0.682" stop-color="#a8db34"/><stop offset="0.686" stop-color="#a8db34"/><stop offset="0.714" stop-color="#90d743"/><stop offset="0.741" stop-color="#7ad151"/><stop offset="0.75" stop-color="#73d056"/><stop offset="0.754" stop-color="#70cf57"/><stop offset="0.768" stop-color="#63cb5f"/><stop offset="0.782" stop-color="#54c568"/><stop offset="0.795" stop-color="#46c06f"/><stop offset="0.809" stop-color="#3aba76"/><stop offset="0.816" stop-color="#35b779"/><stop offset="0.819" stop-color="#34b679"/><stop offset="0.823" stop-color="#31b57b"/><stop offset="0.829" stop-color="#35b779"/><stop offset="0.836" stop-color="#38b977"/><stop offset="0.85" stop-color="#42be71"/><stop offset="0.864" stop-color="#4ec36b"/><stop offset="0.877" stop-color="#5ac864"/><stop offset="0.887" stop-color="#60ca60"/><stop offset="0.891" stop-color="#63cb5f"/><stop offset="0.905" stop-color="#69cd5b"/><stop offset="0.932" stop-color="#7ad151"/><stop offset="0.955" stop-color="#84d44b"/><stop offset="0.959" stop-color="#86d549"/><stop offset="0.986" stop-color="#89d548"/><stop offset="1" stop-color="#89d548"/></linearGradient>
<linearGradient id="cbe" x1="0" y1="0" x2="1" y2="0"><stop offset="0.000" stop-color="#440154"/><stop offset="0.050" stop-color="#471365"/><stop offset="0.100" stop-color="#482475"/><stop offset="0.150" stop-color="#463480"/><stop offset="0.200" stop-color="#414487"/><stop offset="0.250" stop-color="#3b528b"/><stop offset="0.300" stop-color="#355f8d"/><stop offset="0.350" stop-color="#2f6c8e"/><stop offset="0.400" stop-color="#2a788e"/><stop offset="0.450" stop-color="#25848e"/><stop offset="0.500" stop-color="#21918c"/><stop offset="0.550" stop-color="#1e9c89"/><stop offset="0.600" stop-color="#22a884"/><stop offset="0.650" stop-color="#2fb47c"/><stop offset="0.700" stop-color="#44bf70"/><stop offset="0.750" stop-color="#5ec962"/><stop offset="0.800" stop-color="#7ad151"/><stop offset="0.850" stop-color="#9bd93c"/><stop offset="0.900" stop-color="#bddf26"/><stop offset="0.950" stop-color="#dfe318"/><stop offset="1.000" stop-color="#fde725"/></linearGradient>
<linearGradient id="cbi" x1="0" y1="0" x2="1" y2="0"><stop offset="0.000" stop-color="#440154"/><stop offset="0.050" stop-color="#471365"/><stop offset="0.100" stop-color="#482475"/><stop offset="0.150" stop-color="#463480"/><stop offset="0.200" stop-color="#414487"/><stop offset="0.250" stop-color="#3b528b"/><stop offset="0.300" stop-color="#355f8d"/><stop offset="0.350" stop-color="#2f6c8e"/><stop offset="0.400" stop-color="#2a788e"/><stop offset="0.450" stop-color="#25848e"/><stop offset="0.500" stop-color="#21918c"/><stop offset="0.550" stop-color="#1e9c89"/><stop offset="0.600" stop-color="#22a884"/><stop offset="0.650" stop-color="#2fb47c"/><stop offset="0.700" stop-color="#44bf70"/><stop offset="0.750" stop-color="#5ec962"/><stop offset="0.800" stop-color="#7ad151"/><stop offset="0.850" stop-color="#9bd93c"/><stop offset="0.900" stop-color="#bddf26"/><stop offset="0.950" stop-color="#dfe318"/><stop offset="1.000" stop-color="#fde725"/></linearGradient>
<clipPath id="ch"><rect x="224.40" y="249.50" width="132.90" height="65.50"/></clipPath></defs>
<rect x="0" y="0" width="520" height="348" fill="#fff"/>
<g clip-path="url(#clipge)"><g filter="url(#blge)" shape-rendering="crispEdges">
<rect x="240" y="46.40" width="2" height="73.30" fill="url(#ge0)"/>
<rect x="242" y="46.40" width="2" height="73.30" fill="url(#ge1)"/>
<rect x="244" y="46.40" width="2" height="73.30" fill="url(#ge2)"/>
<rect x="246" y="46.40" width="2" height="73.30" fill="url(#ge3)"/>
<rect x="248" y="46.40" width="2" height="73.30" fill="url(#ge4)"/>
<rect x="250" y="46.40" width="2" height="73.30" fill="url(#ge5)"/>
<rect x="252" y="46.40" width="2" height="73.30" fill="url(#ge6)"/>
<rect x="254" y="46.40" width="2" height="73.30" fill="url(#ge7)"/>
<rect x="256" y="46.40" width="2" height="73.30" fill="url(#ge8)"/>
<rect x="258" y="46.40" width="2" height="73.30" fill="url(#ge9)"/>
<rect x="260" y="46.40" width="2" height="73.30" fill="url(#ge10)"/>
<rect x="262" y="46.40" width="2" height="73.30" fill="url(#ge11)"/>
<rect x="264" y="46.40" width="2" height="73.30" fill="url(#ge12)"/>
<rect x="266" y="46.40" width="2" height="73.30" fill="url(#ge13)"/>
<rect x="268" y="46.40" width="2" height="73.30" fill="url(#ge14)"/>
<rect x="270" y="46.40" width="2" height="73.30" fill="url(#ge15)"/>
<rect x="272" y="46.40" width="2" height="73.30" fill="url(#ge16)"/>
<rect x="274" y="46.40" width="2" height="73.30" fill="url(#ge17)"/>
<rect x="276" y="46.40" width="2" height="73.30" fill="url(#ge18)"/>
<rect x="278" y="46.40" width="2" height="73.30" fill="url(#ge19)"/>
<rect x="280" y="46.40" width="2" height="73.30" fill="url(#ge20)"/>
<rect x="282" y="46.40" width="2" height="73.30" fill="url(#ge21)"/>
<rect x="284" y="46.40" width="2" height="73.30" fill="url(#ge22)"/>
<rect x="286" y="46.40" width="2" height="73.30" fill="url(#ge23)"/>
<rect x="288" y="46.40" width="2" height="73.30" fill="url(#ge24)"/>
<rect x="290" y="46.40" width="2" height="73.30" fill="url(#ge25)"/>
<rect x="292" y="46.40" width="2" height="73.30" fill="url(#ge26)"/>
<rect x="294" y="46.40" width="2" height="73.30" fill="url(#ge27)"/>
<rect x="296" y="46.40" width="2" height="73.30" fill="url(#ge28)"/>
<rect x="298" y="46.40" width="2" height="73.30" fill="url(#ge29)"/>
<rect x="300" y="46.40" width="2" height="73.30" fill="url(#ge30)"/>
<rect x="302" y="46.40" width="2" height="73.30" fill="url(#ge31)"/>
<rect x="304" y="46.40" width="2" height="73.30" fill="url(#ge32)"/>
<rect x="306" y="46.40" width="2" height="73.30" fill="url(#ge33)"/>
<rect x="308" y="46.40" width="2" height="73.30" fill="url(#ge34)"/>
<rect x="310" y="46.40" width="2" height="73.30" fill="url(#ge35)"/>
<rect x="312" y="46.40" width="2" height="73.30" fill="url(#ge36)"/>
<rect x="314" y="46.40" width="2" height="73.30" fill="url(#ge37)"/>
<rect x="316" y="46.40" width="2" height="73.30" fill="url(#ge38)"/>
<rect x="318" y="46.40" width="2" height="73.30" fill="url(#ge39)"/>
<rect x="320" y="46.40" width="2" height="73.30" fill="url(#ge40)"/>
<rect x="322" y="46.40" width="2" height="73.30" fill="url(#ge41)"/>
<rect x="324" y="46.40" width="2" height="73.30" fill="url(#ge42)"/>
<rect x="326" y="46.40" width="2" height="73.30" fill="url(#ge43)"/>
<rect x="328" y="46.40" width="2" height="73.30" fill="url(#ge44)"/>
<rect x="330" y="46.40" width="2" height="73.30" fill="url(#ge45)"/>
<rect x="332" y="46.40" width="2" height="73.30" fill="url(#ge46)"/>
<rect x="334" y="46.40" width="2" height="73.30" fill="url(#ge47)"/>
<rect x="336" y="46.40" width="2" height="73.30" fill="url(#ge48)"/>
<rect x="338" y="46.40" width="2" height="73.30" fill="url(#ge49)"/>
</g></g>
<g clip-path="url(#clipgi)"><g filter="url(#blgi)" shape-rendering="crispEdges">
<rect x="380" y="46.40" width="2" height="73.30" fill="url(#gi0)"/>
<rect x="382" y="46.40" width="2" height="73.30" fill="url(#gi1)"/>
<rect x="384" y="46.40" width="2" height="73.30" fill="url(#gi2)"/>
<rect x="386" y="46.40" width="2" height="73.30" fill="url(#gi3)"/>
<rect x="388" y="46.40" width="2" height="73.30" fill="url(#gi4)"/>
<rect x="390" y="46.40" width="2" height="73.30" fill="url(#gi5)"/>
<rect x="392" y="46.40" width="2" height="73.30" fill="url(#gi6)"/>
<rect x="394" y="46.40" width="2" height="73.30" fill="url(#gi7)"/>
<rect x="396" y="46.40" width="2" height="73.30" fill="url(#gi8)"/>
<rect x="398" y="46.40" width="2" height="73.30" fill="url(#gi9)"/>
<rect x="400" y="46.40" width="2" height="73.30" fill="url(#gi10)"/>
<rect x="402" y="46.40" width="2" height="73.30" fill="url(#gi11)"/>
<rect x="404" y="46.40" width="2" height="73.30" fill="url(#gi12)"/>
<rect x="406" y="46.40" width="2" height="73.30" fill="url(#gi13)"/>
<rect x="408" y="46.40" width="2" height="73.30" fill="url(#gi14)"/>
<rect x="410" y="46.40" width="2" height="73.30" fill="url(#gi15)"/>
<rect x="412" y="46.40" width="2" height="73.30" fill="url(#gi16)"/>
<rect x="414" y="46.40" width="2" height="73.30" fill="url(#gi17)"/>
<rect x="416" y="46.40" width="2" height="73.30" fill="url(#gi18)"/>
<rect x="418" y="46.40" width="2" height="73.30" fill="url(#gi19)"/>
<rect x="420" y="46.40" width="2" height="73.30" fill="url(#gi20)"/>
<rect x="422" y="46.40" width="2" height="73.30" fill="url(#gi21)"/>
<rect x="424" y="46.40" width="2" height="73.30" fill="url(#gi22)"/>
<rect x="426" y="46.40" width="2" height="73.30" fill="url(#gi23)"/>
<rect x="428" y="46.40" width="2" height="73.30" fill="url(#gi24)"/>
<rect x="430" y="46.40" width="2" height="73.30" fill="url(#gi25)"/>
<rect x="432" y="46.40" width="2" height="73.30" fill="url(#gi26)"/>
<rect x="434" y="46.40" width="2" height="73.30" fill="url(#gi27)"/>
<rect x="436" y="46.40" width="2" height="73.30" fill="url(#gi28)"/>
<rect x="438" y="46.40" width="2" height="73.30" fill="url(#gi29)"/>
<rect x="440" y="46.40" width="2" height="73.30" fill="url(#gi30)"/>
<rect x="442" y="46.40" width="2" height="73.30" fill="url(#gi31)"/>
<rect x="444" y="46.40" width="2" height="73.30" fill="url(#gi32)"/>
<rect x="446" y="46.40" width="2" height="73.30" fill="url(#gi33)"/>
<rect x="448" y="46.40" width="2" height="73.30" fill="url(#gi34)"/>
<rect x="450" y="46.40" width="2" height="73.30" fill="url(#gi35)"/>
<rect x="452" y="46.40" width="2" height="73.30" fill="url(#gi36)"/>
<rect x="454" y="46.40" width="2" height="73.30" fill="url(#gi37)"/>
<rect x="456" y="46.40" width="2" height="73.30" fill="url(#gi38)"/>
<rect x="458" y="46.40" width="2" height="73.30" fill="url(#gi39)"/>
<rect x="460" y="46.40" width="2" height="73.30" fill="url(#gi40)"/>
<rect x="462" y="46.40" width="2" height="73.30" fill="url(#gi41)"/>
<rect x="464" y="46.40" width="2" height="73.30" fill="url(#gi42)"/>
<rect x="466" y="46.40" width="2" height="73.30" fill="url(#gi43)"/>
<rect x="468" y="46.40" width="2" height="73.30" fill="url(#gi44)"/>
<rect x="470" y="46.40" width="2" height="73.30" fill="url(#gi45)"/>
<rect x="472" y="46.40" width="2" height="73.30" fill="url(#gi46)"/>
<rect x="474" y="46.40" width="2" height="73.30" fill="url(#gi47)"/>
<rect x="476" y="46.40" width="2" height="73.30" fill="url(#gi48)"/>
<rect x="478" y="46.40" width="2" height="73.30" fill="url(#gi49)"/>
<rect x="480" y="46.40" width="2" height="73.30" fill="url(#gi50)"/>
<rect x="482" y="46.40" width="2" height="73.30" fill="url(#gi51)"/>
<rect x="484" y="46.40" width="2" height="73.30" fill="url(#gi52)"/>
<rect x="486" y="46.40" width="2" height="73.30" fill="url(#gi53)"/>
<rect x="488" y="46.40" width="2" height="73.30" fill="url(#gi54)"/>
<rect x="490" y="46.40" width="2" height="73.30" fill="url(#gi55)"/>
<rect x="492" y="46.40" width="2" height="73.30" fill="url(#gi56)"/>
<rect x="494" y="46.40" width="2" height="73.30" fill="url(#gi57)"/>
<rect x="496" y="46.40" width="2" height="73.30" fill="url(#gi58)"/>
<rect x="498" y="46.40" width="2" height="73.30" fill="url(#gi59)"/>
<rect x="500" y="46.40" width="2" height="73.30" fill="url(#gi60)"/>
<rect x="502" y="46.40" width="2" height="73.30" fill="url(#gi61)"/>
<rect x="504" y="46.40" width="2" height="73.30" fill="url(#gi62)"/>
<rect x="506" y="46.40" width="2" height="73.30" fill="url(#gi63)"/>
<rect x="508" y="46.40" width="2" height="73.30" fill="url(#gi64)"/>
<rect x="510" y="46.40" width="2" height="73.30" fill="url(#gi65)"/>
<rect x="512" y="46.40" width="2" height="73.30" fill="url(#gi66)"/>
<rect x="514" y="46.40" width="2" height="73.30" fill="url(#gi67)"/>
<rect x="516" y="46.40" width="2" height="73.30" fill="url(#gi68)"/>
<rect x="518" y="46.40" width="2" height="73.30" fill="url(#gi69)"/>
<rect x="520" y="46.40" width="2" height="73.30" fill="url(#gi70)"/>
</g></g>
<rect x="224.10" y="29.8" width="133.30" height="7.3" fill="url(#cbe)" stroke="#1a1a1a" stroke-width="1.05"/>
<line x1="254.75" y1="29.8" x2="254.75" y2="26.2" stroke="#1a1a1a" stroke-width="1.05"/>
<text x="254.75" y="21.3" font-size="9.7" text-anchor="middle" fill="#222">−15</text>
<line x1="287.40" y1="29.8" x2="287.40" y2="26.2" stroke="#1a1a1a" stroke-width="1.05"/>
<text x="287.40" y="21.3" font-size="9.7" text-anchor="middle" fill="#222">−10</text>
<line x1="320.10" y1="29.8" x2="320.10" y2="26.2" stroke="#1a1a1a" stroke-width="1.05"/>
<text x="320.10" y="21.3" font-size="9.7" text-anchor="middle" fill="#222">−5</text>
<line x1="352.80" y1="29.8" x2="352.80" y2="26.2" stroke="#1a1a1a" stroke-width="1.05"/>
<text x="352.80" y="21.3" font-size="9.7" text-anchor="middle" fill="#222">0</text>
<text x="291.00" y="10.2" font-size="11.7" text-anchor="middle" fill="#222">|S<tspan font-size="8.2" dy="2.2">21</tspan><tspan dy="-2.2">| (dB)</tspan></text>
<rect x="384.60" y="29.8" width="132.80" height="7.3" fill="url(#cbi)" stroke="#1a1a1a" stroke-width="1.05"/>
<line x1="386.70" y1="29.8" x2="386.70" y2="26.2" stroke="#1a1a1a" stroke-width="1.05"/>
<text x="386.70" y="21.3" font-size="9.7" text-anchor="middle" fill="#222">−35</text>
<line x1="401.70" y1="29.8" x2="401.70" y2="26.2" stroke="#1a1a1a" stroke-width="1.05"/>
<text x="401.70" y="21.3" font-size="9.7" text-anchor="middle" fill="#222">−30</text>
<line x1="416.70" y1="29.8" x2="416.70" y2="26.2" stroke="#1a1a1a" stroke-width="1.05"/>
<text x="416.70" y="21.3" font-size="9.7" text-anchor="middle" fill="#222">−25</text>
<line x1="431.70" y1="29.8" x2="431.70" y2="26.2" stroke="#1a1a1a" stroke-width="1.05"/>
<text x="431.70" y="21.3" font-size="9.7" text-anchor="middle" fill="#222">−20</text>
<line x1="446.70" y1="29.8" x2="446.70" y2="26.2" stroke="#1a1a1a" stroke-width="1.05"/>
<text x="446.70" y="21.3" font-size="9.7" text-anchor="middle" fill="#222">−15</text>
<line x1="461.70" y1="29.8" x2="461.70" y2="26.2" stroke="#1a1a1a" stroke-width="1.05"/>
<text x="461.70" y="21.3" font-size="9.7" text-anchor="middle" fill="#222">−10</text>
<line x1="476.70" y1="29.8" x2="476.70" y2="26.2" stroke="#1a1a1a" stroke-width="1.05"/>
<text x="476.70" y="21.3" font-size="9.7" text-anchor="middle" fill="#222">−5</text>
<line x1="491.70" y1="29.8" x2="491.70" y2="26.2" stroke="#1a1a1a" stroke-width="1.05"/>
<text x="491.70" y="21.3" font-size="9.7" text-anchor="middle" fill="#222">0</text>
<line x1="506.70" y1="29.8" x2="506.70" y2="26.2" stroke="#1a1a1a" stroke-width="1.05"/>
<text x="506.70" y="21.3" font-size="9.7" text-anchor="middle" fill="#222">5</text>
<text x="451.00" y="10.2" font-size="11.7" text-anchor="middle" fill="#222">|S<tspan font-size="8.2" dy="2.2">21</tspan><tspan dy="-2.2">| (dB)</tspan></text>
<polyline fill="none" stroke="#1f77b4" stroke-width="1.4" points="244.3,167.6 246.2,160.5 248.0,153.9 249.8,147.9 251.6,142.4 253.5,138.5 255.3,134.7 257.1,132.0 259.0,130.0 260.8,128.0 262.6,126.6 264.4,125.6 266.3,124.6 268.1,123.9 269.9,123.4 271.7,122.8 273.6,122.5 275.4,122.2 277.2,121.9 279.1,121.7 280.9,121.6 282.7,121.5 284.5,121.4 286.4,121.3 288.2,121.2 290.0,121.2 291.8,121.3 293.7,121.4 295.5,121.4 297.3,121.5 299.2,121.7 301.0,122.0 302.8,122.2 304.6,122.6 306.5,123.1 308.3,123.6 310.1,124.1 311.9,124.6 313.8,125.7 315.6,126.8 317.4,127.9 319.3,129.0 321.1,130.7 322.9,132.9 324.7,135.1 326.6,137.3 328.4,139.5 330.2,143.1 332.0,146.7 333.9,152.7 335.7,160.5"/>
<g fill="#1f77b4"><circle cx="244.3" cy="167.6" r="2.80"/><circle cx="246.2" cy="160.5" r="2.80"/><circle cx="248.0" cy="153.9" r="2.80"/><circle cx="249.8" cy="147.9" r="2.80"/><circle cx="251.6" cy="142.4" r="2.80"/><circle cx="253.5" cy="138.5" r="2.80"/><circle cx="255.3" cy="134.7" r="2.80"/><circle cx="257.1" cy="132.0" r="2.80"/><circle cx="259.0" cy="130.0" r="2.80"/><circle cx="260.8" cy="128.0" r="2.80"/><circle cx="262.6" cy="126.6" r="2.80"/><circle cx="264.4" cy="125.6" r="2.80"/><circle cx="266.3" cy="124.6" r="2.80"/><circle cx="268.1" cy="123.9" r="2.80"/><circle cx="269.9" cy="123.4" r="2.80"/><circle cx="271.7" cy="122.8" r="2.80"/><circle cx="273.6" cy="122.5" r="2.80"/><circle cx="275.4" cy="122.2" r="2.80"/><circle cx="277.2" cy="121.9" r="2.80"/><circle cx="279.1" cy="121.7" r="2.80"/><circle cx="280.9" cy="121.6" r="2.80"/><circle cx="282.7" cy="121.5" r="2.80"/><circle cx="284.5" cy="121.4" r="2.80"/><circle cx="286.4" cy="121.3" r="2.80"/><circle cx="288.2" cy="121.2" r="2.80"/><circle cx="290.0" cy="121.2" r="2.80"/><circle cx="291.8" cy="121.3" r="2.80"/><circle cx="293.7" cy="121.4" r="2.80"/><circle cx="295.5" cy="121.4" r="2.80"/><circle cx="297.3" cy="121.5" r="2.80"/><circle cx="299.2" cy="121.7" r="2.80"/><circle cx="301.0" cy="122.0" r="2.80"/><circle cx="302.8" cy="122.2" r="2.80"/><circle cx="304.6" cy="122.6" r="2.80"/><circle cx="306.5" cy="123.1" r="2.80"/><circle cx="308.3" cy="123.6" r="2.80"/><circle cx="310.1" cy="124.1" r="2.80"/><circle cx="311.9" cy="124.6" r="2.80"/><circle cx="313.8" cy="125.7" r="2.80"/><circle cx="315.6" cy="126.8" r="2.80"/><circle cx="317.4" cy="127.9" r="2.80"/><circle cx="319.3" cy="129.0" r="2.80"/><circle cx="321.1" cy="130.7" r="2.80"/><circle cx="322.9" cy="132.9" r="2.80"/><circle cx="324.7" cy="135.1" r="2.80"/><circle cx="326.6" cy="137.3" r="2.80"/><circle cx="328.4" cy="139.5" r="2.80"/><circle cx="330.2" cy="143.1" r="2.80"/><circle cx="332.0" cy="146.7" r="2.80"/><circle cx="333.9" cy="152.7" r="2.80"/><circle cx="335.7" cy="160.5" r="2.80"/></g>
<polyline fill="none" stroke="#0808e6" stroke-width="1.4" points="245.8,246.1 247.7,243.9 249.5,241.8 251.4,239.8 253.2,238.2 255.1,236.6 256.9,235.4 258.7,234.8 260.6,234.2 262.4,233.7 264.3,233.1 266.1,232.5 268.0,232.2 269.8,231.9 271.7,231.7 273.5,231.4 275.3,231.2 277.2,230.9 279.0,230.8 280.9,230.7 282.7,230.6 284.6,230.5 286.4,230.5 288.2,230.4 290.1,230.4 291.9,230.4 293.8,230.4 295.6,230.4 297.5,230.4 299.3,230.5 301.2,230.7 303.0,230.9 304.8,231.0 306.7,231.2 308.5,231.4 310.4,231.9 312.2,232.4 314.1,232.9 315.9,233.4 317.8,234.0 319.6,234.5 321.4,235.3 323.3,236.1 325.1,236.9 327.0,237.9 328.8,240.8 330.7,241.5 332.5,242.2 334.4,244.0 336.2,245.7"/>
<g fill="#0808e6"><circle cx="245.8" cy="246.1" r="2.80"/><circle cx="247.7" cy="243.9" r="2.80"/><circle cx="249.5" cy="241.8" r="2.80"/><circle cx="251.4" cy="239.8" r="2.80"/><circle cx="253.2" cy="238.2" r="2.80"/><circle cx="255.1" cy="236.6" r="2.80"/><circle cx="256.9" cy="235.4" r="2.80"/><circle cx="258.7" cy="234.8" r="2.80"/><circle cx="260.6" cy="234.2" r="2.80"/><circle cx="262.4" cy="233.7" r="2.80"/><circle cx="264.3" cy="233.1" r="2.80"/><circle cx="266.1" cy="232.5" r="2.80"/><circle cx="268.0" cy="232.2" r="2.80"/><circle cx="269.8" cy="231.9" r="2.80"/><circle cx="271.7" cy="231.7" r="2.80"/><circle cx="273.5" cy="231.4" r="2.80"/><circle cx="275.3" cy="231.2" r="2.80"/><circle cx="277.2" cy="230.9" r="2.80"/><circle cx="279.0" cy="230.8" r="2.80"/><circle cx="280.9" cy="230.7" r="2.80"/><circle cx="282.7" cy="230.6" r="2.80"/><circle cx="284.6" cy="230.5" r="2.80"/><circle cx="286.4" cy="230.5" r="2.80"/><circle cx="288.2" cy="230.4" r="2.80"/><circle cx="290.1" cy="230.4" r="2.80"/><circle cx="291.9" cy="230.4" r="2.80"/><circle cx="293.8" cy="230.4" r="2.80"/><circle cx="295.6" cy="230.4" r="2.80"/><circle cx="297.5" cy="230.4" r="2.80"/><circle cx="299.3" cy="230.5" r="2.80"/><circle cx="301.2" cy="230.7" r="2.80"/><circle cx="303.0" cy="230.9" r="2.80"/><circle cx="304.8" cy="231.0" r="2.80"/><circle cx="306.7" cy="231.2" r="2.80"/><circle cx="308.5" cy="231.4" r="2.80"/><circle cx="310.4" cy="231.9" r="2.80"/><circle cx="312.2" cy="232.4" r="2.80"/><circle cx="314.1" cy="232.9" r="2.80"/><circle cx="315.9" cy="233.4" r="2.80"/><circle cx="317.8" cy="234.0" r="2.80"/><circle cx="319.6" cy="234.5" r="2.80"/><circle cx="321.4" cy="235.3" r="2.80"/><circle cx="323.3" cy="236.1" r="2.80"/><circle cx="325.1" cy="236.9" r="2.80"/><circle cx="327.0" cy="237.9" r="2.80"/><circle cx="328.8" cy="240.8" r="2.80"/><circle cx="330.7" cy="241.5" r="2.80"/><circle cx="332.5" cy="242.2" r="2.80"/><circle cx="334.4" cy="244.0" r="2.80"/><circle cx="336.2" cy="245.7" r="2.80"/></g>
<g clip-path="url(#ch)">
<polyline fill="none" stroke="#1f77b4" stroke-width="1.4" points="244.3,326.6 246.2,318.8 248.0,311.8 249.8,306.0 251.6,301.9 253.5,298.3 255.3,296.0 257.1,293.9 259.0,291.9 260.8,289.9 262.6,289.0 264.4,288.0 266.3,287.0 268.1,286.2 269.9,285.8 271.7,285.5 273.6,285.1 275.4,284.8 277.2,284.6 279.1,284.5 280.9,284.3 282.7,284.2 284.5,284.1 286.4,284.0 288.2,283.9 290.0,283.8 291.8,283.7 293.7,283.6 295.5,283.5 297.3,283.5 299.2,283.4 301.0,283.2 302.8,282.8 304.6,282.4 306.5,281.9 308.3,281.2 310.1,280.5 311.9,279.7 313.8,278.7 315.6,277.2 317.4,275.7 319.3,274.3 321.1,272.5 322.9,270.7 324.7,268.9 326.6,267.3 328.4,263.9 330.2,258.4 332.0,253.1 333.9,246.5 335.7,239.7"/>
<g fill="#1f77b4"><circle cx="244.3" cy="326.6" r="2.80"/><circle cx="246.2" cy="318.8" r="2.80"/><circle cx="248.0" cy="311.8" r="2.80"/><circle cx="249.8" cy="306.0" r="2.80"/><circle cx="251.6" cy="301.9" r="2.80"/><circle cx="253.5" cy="298.3" r="2.80"/><circle cx="255.3" cy="296.0" r="2.80"/><circle cx="257.1" cy="293.9" r="2.80"/><circle cx="259.0" cy="291.9" r="2.80"/><circle cx="260.8" cy="289.9" r="2.80"/><circle cx="262.6" cy="289.0" r="2.80"/><circle cx="264.4" cy="288.0" r="2.80"/><circle cx="266.3" cy="287.0" r="2.80"/><circle cx="268.1" cy="286.2" r="2.80"/><circle cx="269.9" cy="285.8" r="2.80"/><circle cx="271.7" cy="285.5" r="2.80"/><circle cx="273.6" cy="285.1" r="2.80"/><circle cx="275.4" cy="284.8" r="2.80"/><circle cx="277.2" cy="284.6" r="2.80"/><circle cx="279.1" cy="284.5" r="2.80"/><circle cx="280.9" cy="284.3" r="2.80"/><circle cx="282.7" cy="284.2" r="2.80"/><circle cx="284.5" cy="284.1" r="2.80"/><circle cx="286.4" cy="284.0" r="2.80"/><circle cx="288.2" cy="283.9" r="2.80"/><circle cx="290.0" cy="283.8" r="2.80"/><circle cx="291.8" cy="283.7" r="2.80"/><circle cx="293.7" cy="283.6" r="2.80"/><circle cx="295.5" cy="283.5" r="2.80"/><circle cx="297.3" cy="283.5" r="2.80"/><circle cx="299.2" cy="283.4" r="2.80"/><circle cx="301.0" cy="283.2" r="2.80"/><circle cx="302.8" cy="282.8" r="2.80"/><circle cx="304.6" cy="282.4" r="2.80"/><circle cx="306.5" cy="281.9" r="2.80"/><circle cx="308.3" cy="281.2" r="2.80"/><circle cx="310.1" cy="280.5" r="2.80"/><circle cx="311.9" cy="279.7" r="2.80"/><circle cx="313.8" cy="278.7" r="2.80"/><circle cx="315.6" cy="277.2" r="2.80"/><circle cx="317.4" cy="275.7" r="2.80"/><circle cx="319.3" cy="274.3" r="2.80"/><circle cx="321.1" cy="272.5" r="2.80"/><circle cx="322.9" cy="270.7" r="2.80"/><circle cx="324.7" cy="268.9" r="2.80"/><circle cx="326.6" cy="267.3" r="2.80"/><circle cx="328.4" cy="263.9" r="2.80"/><circle cx="330.2" cy="258.4" r="2.80"/><circle cx="332.0" cy="253.1" r="2.80"/><circle cx="333.9" cy="246.5" r="2.80"/><circle cx="335.7" cy="239.7" r="2.80"/></g>
</g>
<polyline fill="none" stroke="#1f77b4" stroke-width="1.4" points="384.6,182.0 387.9,175.3 391.2,168.9 394.6,163.1 397.9,157.6 401.2,152.6 404.5,148.0 407.8,143.8 411.2,140.1 414.5,136.6 417.8,133.6 421.1,131.0 424.4,128.7 427.8,126.7 431.1,125.1 434.4,123.8 437.7,122.8 441.0,122.1 444.4,121.6 447.7,121.4 451.0,121.3 454.3,121.4 457.6,121.6 461.0,122.1 464.3,122.8 467.6,123.8 470.9,125.1 474.2,126.7 477.6,128.7 480.9,131.0 484.2,133.6 487.5,136.6 490.8,140.1 494.2,143.8 497.5,148.0 500.8,152.6 504.1,157.6 507.4,163.1 510.8,168.9 514.1,175.3 517.4,182.0"/>
<g fill="#1f77b4"><circle cx="384.6" cy="182.0" r="2.80"/><circle cx="387.9" cy="175.3" r="2.80"/><circle cx="391.2" cy="168.9" r="2.80"/><circle cx="394.6" cy="163.1" r="2.80"/><circle cx="397.9" cy="157.6" r="2.80"/><circle cx="401.2" cy="152.6" r="2.80"/><circle cx="404.5" cy="148.0" r="2.80"/><circle cx="407.8" cy="143.8" r="2.80"/><circle cx="411.2" cy="140.1" r="2.80"/><circle cx="414.5" cy="136.6" r="2.80"/><circle cx="417.8" cy="133.6" r="2.80"/><circle cx="421.1" cy="131.0" r="2.80"/><circle cx="424.4" cy="128.7" r="2.80"/><circle cx="427.8" cy="126.7" r="2.80"/><circle cx="431.1" cy="125.1" r="2.80"/><circle cx="434.4" cy="123.8" r="2.80"/><circle cx="437.7" cy="122.8" r="2.80"/><circle cx="441.0" cy="122.1" r="2.80"/><circle cx="444.4" cy="121.6" r="2.80"/><circle cx="447.7" cy="121.4" r="2.80"/><circle cx="451.0" cy="121.3" r="2.80"/><circle cx="454.3" cy="121.4" r="2.80"/><circle cx="457.6" cy="121.6" r="2.80"/><circle cx="461.0" cy="122.1" r="2.80"/><circle cx="464.3" cy="122.8" r="2.80"/><circle cx="467.6" cy="123.8" r="2.80"/><circle cx="470.9" cy="125.1" r="2.80"/><circle cx="474.2" cy="126.7" r="2.80"/><circle cx="477.6" cy="128.7" r="2.80"/><circle cx="480.9" cy="131.0" r="2.80"/><circle cx="484.2" cy="133.6" r="2.80"/><circle cx="487.5" cy="136.6" r="2.80"/><circle cx="490.8" cy="140.1" r="2.80"/><circle cx="494.2" cy="143.8" r="2.80"/><circle cx="497.5" cy="148.0" r="2.80"/><circle cx="500.8" cy="152.6" r="2.80"/><circle cx="504.1" cy="157.6" r="2.80"/><circle cx="507.4" cy="163.1" r="2.80"/><circle cx="510.8" cy="168.9" r="2.80"/><circle cx="514.1" cy="175.3" r="2.80"/><circle cx="517.4" cy="182.0" r="2.80"/></g>
<path d="M427.8 199.3V209.9M425.6 199.3h4.4M425.6 209.9h4.4" stroke="#0808e6" stroke-width="1.3" fill="none"/>
<path d="M434.4 197.9V209.9M432.2 197.9h4.4M432.2 209.9h4.4" stroke="#0808e6" stroke-width="1.3" fill="none"/>
<path d="M437.7 195.3V201.6M435.5 195.3h4.4M435.5 201.6h4.4" stroke="#0808e6" stroke-width="1.3" fill="none"/>
<path d="M441.0 193.9V201.9M438.8 193.9h4.4M438.8 201.9h4.4" stroke="#0808e6" stroke-width="1.3" fill="none"/>
<path d="M447.7 192.6V201.9M445.5 192.6h4.4M445.5 201.9h4.4" stroke="#0808e6" stroke-width="1.3" fill="none"/>
<path d="M451.0 192.1V201.1M448.8 192.1h4.4M448.8 201.1h4.4" stroke="#0808e6" stroke-width="1.3" fill="none"/>
<path d="M454.3 188.6V216.5M452.1 188.6h4.4M452.1 216.5h4.4" stroke="#0808e6" stroke-width="1.3" fill="none"/>
<path d="M461.0 192.6V201.9M458.8 192.6h4.4M458.8 201.9h4.4" stroke="#0808e6" stroke-width="1.3" fill="none"/>
<path d="M464.3 195.3V203.2M462.1 195.3h4.4M462.1 203.2h4.4" stroke="#0808e6" stroke-width="1.3" fill="none"/>
<path d="M467.6 197.9V204.3M465.4 197.9h4.4M465.4 204.3h4.4" stroke="#0808e6" stroke-width="1.3" fill="none"/>
<path d="M474.2 199.3V209.9M472.0 199.3h4.4M472.0 209.9h4.4" stroke="#0808e6" stroke-width="1.3" fill="none"/>
<path d="M480.9 204.6V211.2M478.7 204.6h4.4M478.7 211.2h4.4" stroke="#0808e6" stroke-width="1.3" fill="none"/>
<polyline fill="none" stroke="#0808e6" stroke-width="1.4" points="384.6,239.1 387.9,233.1 391.2,230.2 394.6,228.2 397.9,225.3 401.2,222.7 404.5,217.8 407.8,213.3 411.2,211.7 414.5,213.7 417.8,210.8 421.1,206.5 424.4,204.6 427.8,203.2 431.1,202.3 434.4,201.0 437.7,198.5 441.0,198.1 444.4,197.7 447.7,197.4 451.0,197.4 454.3,198.8 457.6,198.3 461.0,197.9 464.3,199.3 467.6,200.6 470.9,201.9 474.2,203.2 477.6,204.6 480.9,206.5 484.2,207.9 487.5,209.2 490.8,211.2 494.2,216.2 497.5,219.8 500.8,222.5 504.1,224.5 507.4,227.4 510.8,229.1 514.1,232.1 517.4,239.1"/>
<g fill="#0808e6"><circle cx="384.6" cy="239.1" r="2.80"/><circle cx="387.9" cy="233.1" r="2.80"/><circle cx="391.2" cy="230.2" r="2.80"/><circle cx="394.6" cy="228.2" r="2.80"/><circle cx="397.9" cy="225.3" r="2.80"/><circle cx="401.2" cy="222.7" r="2.80"/><circle cx="404.5" cy="217.8" r="2.80"/><circle cx="407.8" cy="213.3" r="2.80"/><circle cx="411.2" cy="211.7" r="2.80"/><circle cx="414.5" cy="213.7" r="2.80"/><circle cx="417.8" cy="210.8" r="2.80"/><circle cx="421.1" cy="206.5" r="2.80"/><circle cx="424.4" cy="204.6" r="2.80"/><circle cx="427.8" cy="203.2" r="2.80"/><circle cx="431.1" cy="202.3" r="2.80"/><circle cx="434.4" cy="201.0" r="2.80"/><circle cx="437.7" cy="198.5" r="2.80"/><circle cx="441.0" cy="198.1" r="2.80"/><circle cx="444.4" cy="197.7" r="2.80"/><circle cx="447.7" cy="197.4" r="2.80"/><circle cx="451.0" cy="197.4" r="2.80"/><circle cx="454.3" cy="198.8" r="2.80"/><circle cx="457.6" cy="198.3" r="2.80"/><circle cx="461.0" cy="197.9" r="2.80"/><circle cx="464.3" cy="199.3" r="2.80"/><circle cx="467.6" cy="200.6" r="2.80"/><circle cx="470.9" cy="201.9" r="2.80"/><circle cx="474.2" cy="203.2" r="2.80"/><circle cx="477.6" cy="204.6" r="2.80"/><circle cx="480.9" cy="206.5" r="2.80"/><circle cx="484.2" cy="207.9" r="2.80"/><circle cx="487.5" cy="209.2" r="2.80"/><circle cx="490.8" cy="211.2" r="2.80"/><circle cx="494.2" cy="216.2" r="2.80"/><circle cx="497.5" cy="219.8" r="2.80"/><circle cx="500.8" cy="222.5" r="2.80"/><circle cx="504.1" cy="224.5" r="2.80"/><circle cx="507.4" cy="227.4" r="2.80"/><circle cx="510.8" cy="229.1" r="2.80"/><circle cx="514.1" cy="232.1" r="2.80"/><circle cx="517.4" cy="239.1" r="2.80"/></g>
<polyline fill="none" stroke="#1f77b4" stroke-width="1.4" points="391.2,312.0 394.6,305.9 397.9,301.4 401.2,297.4 404.5,294.8 407.8,292.6 411.2,291.1 414.5,289.9 417.8,289.2 421.1,288.6 424.4,288.3 427.8,288.1 431.1,287.8 434.4,287.6 437.7,287.5 441.0,287.4 444.4,287.3 447.7,287.2 451.0,287.1 454.3,287.1 457.6,287.0 461.0,287.0 464.3,286.9 467.6,286.9 470.9,286.7 474.2,286.4 477.6,286.0 480.9,285.7 484.2,284.8 487.5,283.2 490.8,281.5 494.2,278.5 497.5,275.2 500.8,271.3 504.1,266.9 507.4,260.6 510.8,253.7"/>
<g fill="#1f77b4"><circle cx="391.2" cy="312.0" r="2.80"/><circle cx="394.6" cy="305.9" r="2.80"/><circle cx="397.9" cy="301.4" r="2.80"/><circle cx="401.2" cy="297.4" r="2.80"/><circle cx="404.5" cy="294.8" r="2.80"/><circle cx="407.8" cy="292.6" r="2.80"/><circle cx="411.2" cy="291.1" r="2.80"/><circle cx="414.5" cy="289.9" r="2.80"/><circle cx="417.8" cy="289.2" r="2.80"/><circle cx="421.1" cy="288.6" r="2.80"/><circle cx="424.4" cy="288.3" r="2.80"/><circle cx="427.8" cy="288.1" r="2.80"/><circle cx="431.1" cy="287.8" r="2.80"/><circle cx="434.4" cy="287.6" r="2.80"/><circle cx="437.7" cy="287.5" r="2.80"/><circle cx="441.0" cy="287.4" r="2.80"/><circle cx="444.4" cy="287.3" r="2.80"/><circle cx="447.7" cy="287.2" r="2.80"/><circle cx="451.0" cy="287.1" r="2.80"/><circle cx="454.3" cy="287.1" r="2.80"/><circle cx="457.6" cy="287.0" r="2.80"/><circle cx="461.0" cy="287.0" r="2.80"/><circle cx="464.3" cy="286.9" r="2.80"/><circle cx="467.6" cy="286.9" r="2.80"/><circle cx="470.9" cy="286.7" r="2.80"/><circle cx="474.2" cy="286.4" r="2.80"/><circle cx="477.6" cy="286.0" r="2.80"/><circle cx="480.9" cy="285.7" r="2.80"/><circle cx="484.2" cy="284.8" r="2.80"/><circle cx="487.5" cy="283.2" r="2.80"/><circle cx="490.8" cy="281.5" r="2.80"/><circle cx="494.2" cy="278.5" r="2.80"/><circle cx="497.5" cy="275.2" r="2.80"/><circle cx="500.8" cy="271.3" r="2.80"/><circle cx="504.1" cy="266.9" r="2.80"/><circle cx="507.4" cy="260.6" r="2.80"/><circle cx="510.8" cy="253.7" r="2.80"/></g>
<rect x="224.40" y="46.40" width="132.90" height="73.30" fill="none" stroke="#1a1a1a" stroke-width="1.2"/>
<rect x="224.40" y="119.70" width="132.90" height="65.00" fill="none" stroke="#1a1a1a" stroke-width="1.2"/>
<rect x="224.40" y="184.70" width="132.90" height="64.80" fill="none" stroke="#1a1a1a" stroke-width="1.2"/>
<rect x="224.40" y="249.50" width="132.90" height="65.50" fill="none" stroke="#1a1a1a" stroke-width="1.2"/>
<rect x="384.60" y="46.40" width="132.80" height="73.30" fill="none" stroke="#1a1a1a" stroke-width="1.2"/>
<rect x="384.60" y="119.70" width="132.80" height="65.00" fill="none" stroke="#1a1a1a" stroke-width="1.2"/>
<rect x="384.60" y="184.70" width="132.80" height="64.80" fill="none" stroke="#1a1a1a" stroke-width="1.2"/>
<rect x="384.60" y="249.50" width="132.80" height="65.50" fill="none" stroke="#1a1a1a" stroke-width="1.2"/>
<line x1="220.60" y1="63.30" x2="224.40" y2="63.30" stroke="#1a1a1a" stroke-width="1.05"/>
<text x="217.20" y="67.10" font-size="9.7" text-anchor="end" fill="#222">4.2</text>
<line x1="220.60" y1="95.60" x2="224.40" y2="95.60" stroke="#1a1a1a" stroke-width="1.05"/>
<text x="217.20" y="99.40" font-size="9.7" text-anchor="end" fill="#222">4.1</text>
<line x1="220.60" y1="120.90" x2="224.40" y2="120.90" stroke="#1a1a1a" stroke-width="1.05"/>
<text x="217.20" y="124.70" font-size="9.7" text-anchor="end" fill="#222">0</text>
<line x1="220.60" y1="144.00" x2="224.40" y2="144.00" stroke="#1a1a1a" stroke-width="1.05"/>
<text x="217.20" y="147.80" font-size="9.7" text-anchor="end" fill="#222">−25</text>
<line x1="220.60" y1="166.90" x2="224.40" y2="166.90" stroke="#1a1a1a" stroke-width="1.05"/>
<text x="217.20" y="170.70" font-size="9.7" text-anchor="end" fill="#222">−50</text>
<line x1="220.60" y1="262.00" x2="224.40" y2="262.00" stroke="#1a1a1a" stroke-width="1.05"/>
<text x="217.20" y="265.80" font-size="9.7" text-anchor="end" fill="#222">2.5</text>
<line x1="220.60" y1="284.50" x2="224.40" y2="284.50" stroke="#1a1a1a" stroke-width="1.05"/>
<text x="217.20" y="288.30" font-size="9.7" text-anchor="end" fill="#222">0.0</text>
<line x1="220.60" y1="306.80" x2="224.40" y2="306.80" stroke="#1a1a1a" stroke-width="1.05"/>
<text x="217.20" y="310.60" font-size="9.7" text-anchor="end" fill="#222">−2.5</text>
<line x1="380.80" y1="51.60" x2="384.60" y2="51.60" stroke="#1a1a1a" stroke-width="1.05"/>
<text x="377.40" y="55.40" font-size="9.7" text-anchor="end" fill="#222">7.25</text>
<line x1="380.80" y1="75.00" x2="384.60" y2="75.00" stroke="#1a1a1a" stroke-width="1.05"/>
<text x="377.40" y="78.80" font-size="9.7" text-anchor="end" fill="#222">7.20</text>
<line x1="380.80" y1="98.60" x2="384.60" y2="98.60" stroke="#1a1a1a" stroke-width="1.05"/>
<text x="377.40" y="102.40" font-size="9.7" text-anchor="end" fill="#222">7.15</text>
<line x1="380.80" y1="121.30" x2="384.60" y2="121.30" stroke="#1a1a1a" stroke-width="1.05"/>
<text x="377.40" y="125.10" font-size="9.7" text-anchor="end" fill="#222">0</text>
<line x1="380.80" y1="144.20" x2="384.60" y2="144.20" stroke="#1a1a1a" stroke-width="1.05"/>
<text x="377.40" y="148.00" font-size="9.7" text-anchor="end" fill="#222">−25</text>
<line x1="380.80" y1="167.10" x2="384.60" y2="167.10" stroke="#1a1a1a" stroke-width="1.05"/>
<text x="377.40" y="170.90" font-size="9.7" text-anchor="end" fill="#222">−50</text>
<line x1="380.80" y1="263.80" x2="384.60" y2="263.80" stroke="#1a1a1a" stroke-width="1.05"/>
<text x="377.40" y="267.60" font-size="9.7" text-anchor="end" fill="#222">2.5</text>
<line x1="380.80" y1="287.30" x2="384.60" y2="287.30" stroke="#1a1a1a" stroke-width="1.05"/>
<text x="377.40" y="291.10" font-size="9.7" text-anchor="end" fill="#222">0.0</text>
<line x1="380.80" y1="311.00" x2="384.60" y2="311.00" stroke="#1a1a1a" stroke-width="1.05"/>
<text x="377.40" y="314.80" font-size="9.7" text-anchor="end" fill="#222">−2.5</text>
<line x1="220.60" y1="184.70" x2="224.40" y2="184.70" stroke="#1a1a1a" stroke-width="1.05"/>
<text x="218.90" y="188.60" font-size="9.7" text-anchor="end" fill="#222">10<tspan font-size="6.8" dy="-3.6">4</tspan></text>
<line x1="220.60" y1="217.10" x2="224.40" y2="217.10" stroke="#1a1a1a" stroke-width="1.05"/>
<text x="218.90" y="221.00" font-size="9.7" text-anchor="end" fill="#222">10<tspan font-size="6.8" dy="-3.6">3</tspan></text>
<line x1="220.60" y1="249.50" x2="224.40" y2="249.50" stroke="#1a1a1a" stroke-width="1.05"/>
<text x="218.90" y="253.40" font-size="9.7" text-anchor="end" fill="#222">10<tspan font-size="6.8" dy="-3.6">2</tspan></text>
<line x1="222.20" y1="239.75" x2="224.40" y2="239.75" stroke="#1a1a1a" stroke-width="0.6"/>
<line x1="222.20" y1="234.04" x2="224.40" y2="234.04" stroke="#1a1a1a" stroke-width="0.6"/>
<line x1="222.20" y1="229.99" x2="224.40" y2="229.99" stroke="#1a1a1a" stroke-width="0.6"/>
<line x1="222.20" y1="226.85" x2="224.40" y2="226.85" stroke="#1a1a1a" stroke-width="0.6"/>
<line x1="222.20" y1="224.29" x2="224.40" y2="224.29" stroke="#1a1a1a" stroke-width="0.6"/>
<line x1="222.20" y1="222.12" x2="224.40" y2="222.12" stroke="#1a1a1a" stroke-width="0.6"/>
<line x1="222.20" y1="220.24" x2="224.40" y2="220.24" stroke="#1a1a1a" stroke-width="0.6"/>
<line x1="222.20" y1="218.58" x2="224.40" y2="218.58" stroke="#1a1a1a" stroke-width="0.6"/>
<line x1="222.20" y1="207.35" x2="224.40" y2="207.35" stroke="#1a1a1a" stroke-width="0.6"/>
<line x1="222.20" y1="201.64" x2="224.40" y2="201.64" stroke="#1a1a1a" stroke-width="0.6"/>
<line x1="222.20" y1="197.59" x2="224.40" y2="197.59" stroke="#1a1a1a" stroke-width="0.6"/>
<line x1="222.20" y1="194.45" x2="224.40" y2="194.45" stroke="#1a1a1a" stroke-width="0.6"/>
<line x1="222.20" y1="191.89" x2="224.40" y2="191.89" stroke="#1a1a1a" stroke-width="0.6"/>
<line x1="222.20" y1="189.72" x2="224.40" y2="189.72" stroke="#1a1a1a" stroke-width="0.6"/>
<line x1="222.20" y1="187.84" x2="224.40" y2="187.84" stroke="#1a1a1a" stroke-width="0.6"/>
<line x1="222.20" y1="186.18" x2="224.40" y2="186.18" stroke="#1a1a1a" stroke-width="0.6"/>
<line x1="380.80" y1="184.70" x2="384.60" y2="184.70" stroke="#1a1a1a" stroke-width="1.05"/>
<text x="379.10" y="188.60" font-size="9.7" text-anchor="end" fill="#222">10<tspan font-size="6.8" dy="-3.6">4</tspan></text>
<line x1="380.80" y1="217.10" x2="384.60" y2="217.10" stroke="#1a1a1a" stroke-width="1.05"/>
<text x="379.10" y="221.00" font-size="9.7" text-anchor="end" fill="#222">10<tspan font-size="6.8" dy="-3.6">3</tspan></text>
<line x1="380.80" y1="249.50" x2="384.60" y2="249.50" stroke="#1a1a1a" stroke-width="1.05"/>
<text x="379.10" y="253.40" font-size="9.7" text-anchor="end" fill="#222">10<tspan font-size="6.8" dy="-3.6">2</tspan></text>
<line x1="382.40" y1="239.75" x2="384.60" y2="239.75" stroke="#1a1a1a" stroke-width="0.6"/>
<line x1="382.40" y1="234.04" x2="384.60" y2="234.04" stroke="#1a1a1a" stroke-width="0.6"/>
<line x1="382.40" y1="229.99" x2="384.60" y2="229.99" stroke="#1a1a1a" stroke-width="0.6"/>
<line x1="382.40" y1="226.85" x2="384.60" y2="226.85" stroke="#1a1a1a" stroke-width="0.6"/>
<line x1="382.40" y1="224.29" x2="384.60" y2="224.29" stroke="#1a1a1a" stroke-width="0.6"/>
<line x1="382.40" y1="222.12" x2="384.60" y2="222.12" stroke="#1a1a1a" stroke-width="0.6"/>
<line x1="382.40" y1="220.24" x2="384.60" y2="220.24" stroke="#1a1a1a" stroke-width="0.6"/>
<line x1="382.40" y1="218.58" x2="384.60" y2="218.58" stroke="#1a1a1a" stroke-width="0.6"/>
<line x1="382.40" y1="207.35" x2="384.60" y2="207.35" stroke="#1a1a1a" stroke-width="0.6"/>
<line x1="382.40" y1="201.64" x2="384.60" y2="201.64" stroke="#1a1a1a" stroke-width="0.6"/>
<line x1="382.40" y1="197.59" x2="384.60" y2="197.59" stroke="#1a1a1a" stroke-width="0.6"/>
<line x1="382.40" y1="194.45" x2="384.60" y2="194.45" stroke="#1a1a1a" stroke-width="0.6"/>
<line x1="382.40" y1="191.89" x2="384.60" y2="191.89" stroke="#1a1a1a" stroke-width="0.6"/>
<line x1="382.40" y1="189.72" x2="384.60" y2="189.72" stroke="#1a1a1a" stroke-width="0.6"/>
<line x1="382.40" y1="187.84" x2="384.60" y2="187.84" stroke="#1a1a1a" stroke-width="0.6"/>
<line x1="382.40" y1="186.18" x2="384.60" y2="186.18" stroke="#1a1a1a" stroke-width="0.6"/>
<line x1="224.40" y1="315.00" x2="224.40" y2="318.80" stroke="#1a1a1a" stroke-width="1.05"/>
<text x="224.40" y="329.60" font-size="9.7" text-anchor="middle" fill="#222">−2</text>
<line x1="257.62" y1="315.00" x2="257.62" y2="318.80" stroke="#1a1a1a" stroke-width="1.05"/>
<text x="257.62" y="329.60" font-size="9.7" text-anchor="middle" fill="#222">−1</text>
<line x1="290.85" y1="315.00" x2="290.85" y2="318.80" stroke="#1a1a1a" stroke-width="1.05"/>
<text x="290.85" y="329.60" font-size="9.7" text-anchor="middle" fill="#222">0</text>
<line x1="324.08" y1="315.00" x2="324.08" y2="318.80" stroke="#1a1a1a" stroke-width="1.05"/>
<text x="324.08" y="329.60" font-size="9.7" text-anchor="middle" fill="#222">1</text>
<line x1="357.30" y1="315.00" x2="357.30" y2="318.80" stroke="#1a1a1a" stroke-width="1.05"/>
<text x="357.30" y="329.60" font-size="9.7" text-anchor="middle" fill="#222">2</text>
<text x="291.55" y="344.6" font-size="11.7" text-anchor="middle" fill="#222">Gate Voltage (V)</text>
<line x1="384.60" y1="315.00" x2="384.60" y2="318.80" stroke="#1a1a1a" stroke-width="1.05"/>
<text x="384.60" y="329.60" font-size="9.7" text-anchor="middle" fill="#222">−2</text>
<line x1="417.80" y1="315.00" x2="417.80" y2="318.80" stroke="#1a1a1a" stroke-width="1.05"/>
<text x="417.80" y="329.60" font-size="9.7" text-anchor="middle" fill="#222">−1</text>
<line x1="451.00" y1="315.00" x2="451.00" y2="318.80" stroke="#1a1a1a" stroke-width="1.05"/>
<text x="451.00" y="329.60" font-size="9.7" text-anchor="middle" fill="#222">0</text>
<line x1="484.20" y1="315.00" x2="484.20" y2="318.80" stroke="#1a1a1a" stroke-width="1.05"/>
<text x="484.20" y="329.60" font-size="9.7" text-anchor="middle" fill="#222">1</text>
<line x1="517.40" y1="315.00" x2="517.40" y2="318.80" stroke="#1a1a1a" stroke-width="1.05"/>
<text x="517.40" y="329.60" font-size="9.7" text-anchor="middle" fill="#222">2</text>
<text x="451.70" y="344.6" font-size="11.7" text-anchor="middle" fill="#222">Gate Voltage (V)</text>
<text transform="translate(195.3 80.5) rotate(-90)" font-size="11.7" text-anchor="middle" fill="#222">freq (GHz)</text>
<text transform="translate(195.3 148.0) rotate(-90)" font-size="11.7" text-anchor="middle" fill="#222">Δfreq (MHz)</text>
<text transform="translate(195.3 217.0) rotate(-90)" font-size="11.7" text-anchor="middle" fill="#222">Q<tspan font-size="8.2" dy="2">i</tspan></text>
<text transform="translate(195.3 283.0) rotate(-90)" font-size="11.7" text-anchor="middle" fill="#222"><tspan font-style="italic">I</tspan><tspan font-size="8.2" dy="2.4">gate</tspan><tspan dy="-2.4">(nA)</tspan></text>
<text x="228.4" y="58.6" font-size="10.2" fill="#262626" stroke="#262626" stroke-width="0.2">e)</text>
<text x="230.6" y="130.8" font-size="10.2" fill="#262626" stroke="#262626" stroke-width="0.2">f)</text>
<text x="228.9" y="194.9" font-size="10.2" fill="#262626" stroke="#262626" stroke-width="0.2">g)</text>
<text x="228.8" y="261.5" font-size="10.2" fill="#262626" stroke="#262626" stroke-width="0.2">h)</text>
<text x="390.0" y="58.6" font-size="10.2" fill="#262626" stroke="#262626" stroke-width="0.2">i)</text>
<text x="389.2" y="131.5" font-size="10.2" fill="#262626" stroke="#262626" stroke-width="0.2">j)</text>
<text x="388.6" y="196.5" font-size="10.2" fill="#262626" stroke="#262626" stroke-width="0.2">k)</text>
<text x="389.0" y="261.5" font-size="10.2" fill="#262626" stroke="#262626" stroke-width="0.2">l)</text>
<text x="292" y="180" font-size="11.2" text-anchor="middle" textLength="30.5" lengthAdjust="spacingAndGlyphs" fill="#2a2a2a" stroke="#2a2a2a" stroke-width="0.15">Type A</text>
<text x="451" y="180" font-size="11.2" text-anchor="middle" textLength="29.5" lengthAdjust="spacingAndGlyphs" fill="#2a2a2a" stroke="#2a2a2a" stroke-width="0.15">Type B</text>
<rect x="18.6" y="39.9" width="128.3" height="95.5" fill="#d1d1cd"/>
<path d="M19.4 68.6 C21.5 69 22.6 71 22.6 74 V131" fill="none" stroke="#a8a8a5" stroke-width="0.8"/>
<path d="M19.6 67.4 C24 67.6 25.4 70.5 25.4 74 V131" fill="none" stroke="#bcbcb9" stroke-width="0.8"/>
<path d="M26.8 102.3 V112.5 A8.8 8.8 0 0 0 35.6 121.3 H69.5 A8.8 8.8 0 0 0 78.3 112.5 V53.7 A9.95 9.95 0 0 1 98.2 53.7 V109.1 A8.5 8.5 0 0 0 106.7 117.6 C117.5 117.6 117 98.3 128 98.3 H130" fill="none" stroke="#a9cfe2" stroke-width="4.4" stroke-linecap="round"/>
<path d="M26.8 102.3 V112.5 A8.8 8.8 0 0 0 35.6 121.3 H69.5 A8.8 8.8 0 0 0 78.3 112.5 V53.7 A9.95 9.95 0 0 1 98.2 53.7 V109.1 A8.5 8.5 0 0 0 106.7 117.6 C117.5 117.6 117 98.3 128 98.3 H130" fill="none" stroke="#62abd2" stroke-width="2.9" stroke-linecap="round"/>
<path d="M131.8 103.5 V120.5 A6.5 6.5 0 0 0 138.6 127 H145.5" fill="none" stroke="#d9b3b8" stroke-width="4.0"/>
<path d="M131.8 103.5 V120.5 A6.5 6.5 0 0 0 138.6 127 H145.5" fill="none" stroke="#bf7384" stroke-width="2.5"/>
<rect x="127.9" y="95.4" width="7.8" height="7.8" fill="#55645f" fill-opacity="0.55" stroke="#e0242c" stroke-width="1.3"/>
<circle cx="19.0" cy="68.1" r="1.50" fill="#fff" stroke="#151515" stroke-width="1.05"/>
<circle cx="24.1" cy="135.5" r="1.50" fill="#fff" stroke="#151515" stroke-width="1.05"/>
<circle cx="146.9" cy="127.4" r="1.50" fill="#fff" stroke="#151515" stroke-width="1.05"/>
<text x="10.6" y="71.6" font-size="10" fill="#222" stroke="#222" stroke-width="0.25">1</text>
<text x="21.2" y="145.7" font-size="10" fill="#222" stroke="#222" stroke-width="0.25">2</text>
<text x="151" y="131.3" font-size="11" fill="#222" stroke="#222" stroke-width="0.22">V<tspan font-size="6.8" dy="2.2">gate</tspan></text>
<text x="20.8" y="50.6" font-size="10.5" font-weight="bold" fill="#333">a)</text>
<text x="129.9" y="47.4" font-size="8.5" text-anchor="middle" fill="#222" stroke="#222" stroke-width="0.25">200 µm</text>
<rect x="119.2" y="50.2" width="22.4" height="1.8" fill="#222"/>
<rect x="0" y="148.4" width="89" height="65.4" fill="#e0242c"/>
<rect x="1.8" y="150.2" width="85.2" height="61.8" fill="#4a4a4a"/>
<rect x="1.8" y="150.2" width="85.2" height="30.3" fill="#4d8dac"/>
<polygon points="15.9,150.2 71.9,150.2 55.5,178 34.5,178" fill="#414141"/>
<path d="M44.4 182.2 C43.6 190 41.5 203 37.8 212 H51.4 C47.5 203 45.3 190 44.4 182.2Z" fill="#c4605c" stroke="#343434" stroke-width="1.2"/>
<text x="4" y="161" font-size="10.5" font-weight="bold" fill="#fff">b)</text>
<text x="44.5" y="161.3" font-size="10.3" text-anchor="middle" fill="#f6f6f6" stroke="#f6f6f6" stroke-width="0.45">Type A</text>
<text x="14.5" y="206.5" font-size="8.6" text-anchor="middle" fill="#fff" stroke="#fff" stroke-width="0.3">1 µm</text>
<rect x="7" y="208.5" width="15.4" height="1.3" fill="#fff"/>
<rect x="91.8" y="148.2" width="87.6" height="65.4" fill="#e0242c"/>
<rect x="93.6" y="150" width="84" height="61.8" fill="#585858"/>
<rect x="93.6" y="150" width="84" height="34.0" fill="#5da4c4"/>
<polygon points="105.2,150 168.9,150 146.4,181.8 127.6,181.8" fill="#545454" stroke="#8cc4dc" stroke-width="0.7"/>
<rect x="105" y="149.5" width="64.5" height="1.2" fill="#545454"/>
<rect x="129.8" y="201.5" width="5.2" height="10.3" fill="#cf7a74"/>
<polygon points="137.5,201.5 167,201.5 177.6,209.8 177.6,211.8 147,211.8" fill="#cf6a64"/>
<text x="96.3" y="161" font-size="10.5" font-weight="bold" fill="#fff">c)</text>
<text x="136.5" y="161.3" font-size="10.3" text-anchor="middle" fill="#f6f6f6" stroke="#f6f6f6" stroke-width="0.45">Type B</text>
<text x="105" y="205.6" font-size="8.6" text-anchor="middle" fill="#fff" stroke="#fff" stroke-width="0.3">1 µm</text>
<rect x="97" y="207.8" width="16" height="1.3" fill="#fff"/>
<text x="3" y="225.5" font-size="11" fill="#262626" stroke="#262626" stroke-width="0.3">d)</text>
<ellipse cx="39.1" cy="243" rx="5.4" ry="7.6" stroke="#1c1c1c" stroke-width="1.1" fill="none"/>
<ellipse cx="76.1" cy="243" rx="5.4" ry="7.6" stroke="#1c1c1c" stroke-width="1.1" fill="none"/>
<path d="M39.1 235.4H76.1M39.1 250.6H76.1" stroke="#1c1c1c" stroke-width="1.1" fill="none"/>
<ellipse cx="100.8" cy="243" rx="5.4" ry="7.4" stroke="#1c1c1c" stroke-width="1.1" fill="none"/>
<ellipse cx="137.5" cy="243" rx="5.4" ry="7.4" stroke="#1c1c1c" stroke-width="1.1" fill="none"/>
<path d="M100.8 235.6H137.5M100.8 250.4H137.5" stroke="#1c1c1c" stroke-width="1.1" fill="none"/>
<path d="M28.9 243.4H147.4" stroke="#1c1c1c" stroke-width="1.1" fill="none"/>
<path d="M39.1 250.6V255.8M35.9 255.8h6.4M37.1 257.4h4M38.2 259.0h1.8" stroke="#1c1c1c" stroke-width="1.1" fill="none"/>
<path d="M137.5 250.4V256.0M134.3 256.0h6.4M135.5 257.6h4M136.6 259.2h1.8" stroke="#1c1c1c" stroke-width="1.1" fill="none"/>
<path d="M88.5 243.4V247.8M85.6 247.8h5.8M85.6 249.6h5.8M88.5 249.6V307.8" stroke="#1c1c1c" stroke-width="1.1" fill="none"/>
<ellipse cx="88.5" cy="260.4" rx="7.8" ry="5.2" stroke="#1c1c1c" stroke-width="1.1" fill="none"/>
<ellipse cx="88.5" cy="297.4" rx="7.8" ry="4.8" stroke="#1c1c1c" stroke-width="1.1" fill="none"/>
<path d="M80.7 260.4V297.4M96.3 260.4V297.4" stroke="#1c1c1c" stroke-width="1.1" fill="none"/>
<path d="M76.1 250.6L81.4 258.4M100.8 250.4L95.6 258.4" stroke="#1c1c1c" stroke-width="1.1" fill="none"/>
<circle cx="88.4" cy="313.7" r="5.5" fill="#fff" stroke="#222" stroke-width="1.1"/>
<path d="M88.4 313.7L84.5 309.8A5.5 5.5 0 0 1 92.3 309.8ZM88.4 313.7L84.5 317.6A5.5 5.5 0 0 0 92.3 317.6Z" fill="#111"/>
<path d="M88.4 319.2V326.0M85.2 326.0h6.4M86.4 327.6h4M87.5 329.2h1.8" stroke="#1c1c1c" stroke-width="1.1" fill="none"/>
<path d="M93.9 313.7H98.8M98.8 310.8V316.8M100.7 310.8V316.8M100.7 313.7H147.6" stroke="#1c1c1c" stroke-width="1.1" fill="none"/>
<ellipse cx="107.2" cy="313.7" rx="4.5" ry="7.5" stroke="#1c1c1c" stroke-width="1.1" fill="none"/>
<ellipse cx="138.3" cy="313.7" rx="4.5" ry="7.5" stroke="#1c1c1c" stroke-width="1.1" fill="none"/>
<path d="M107.2 306.2H138.3M107.2 321.2H138.3M96 298.6L105.6 306.4" stroke="#1c1c1c" stroke-width="1.1" fill="none"/>
<path d="M138.3 321.2V326.0M135.1 326.0h6.4M136.3 327.6h4M137.4 329.2h1.8" stroke="#1c1c1c" stroke-width="1.1" fill="none"/>
<circle cx="27.6" cy="243.4" r="1.30" fill="#fff" stroke="#151515" stroke-width="1.05"/>
<circle cx="148.8" cy="243.4" r="1.30" fill="#fff" stroke="#151515" stroke-width="1.05"/>
<circle cx="149.0" cy="313.7" r="1.30" fill="#fff" stroke="#151515" stroke-width="1.05"/>
<text x="18" y="247.3" font-size="10.5" fill="#222" stroke="#222" stroke-width="0.22">1</text>
<text x="154.5" y="247.3" font-size="10.5" fill="#222" stroke="#222" stroke-width="0.22">2</text>
<text x="54" y="231.2" font-size="10.8" fill="#222" stroke="#222" stroke-width="0.22">Z<tspan font-size="7" dy="1.8">0</tspan></text>
<text x="116.2" y="231.2" font-size="10.8" fill="#222" stroke="#222" stroke-width="0.22">Z<tspan font-size="7" dy="1.8">0</tspan></text>
<text x="101.2" y="283.6" font-size="11.3" fill="#222" stroke="#222" stroke-width="0.22">λ/4</text>
<text x="59.4" y="317.2" font-size="10.8" fill="#222" stroke="#222" stroke-width="0.22">Z<tspan font-size="6.4" dy="1.8">NW</tspan></text>
<text x="154.4" y="317.4" font-size="11" fill="#222" stroke="#222" stroke-width="0.22">V<tspan font-size="6.8" dy="2.2">gate</tspan></text>
</svg>
</body></html>
